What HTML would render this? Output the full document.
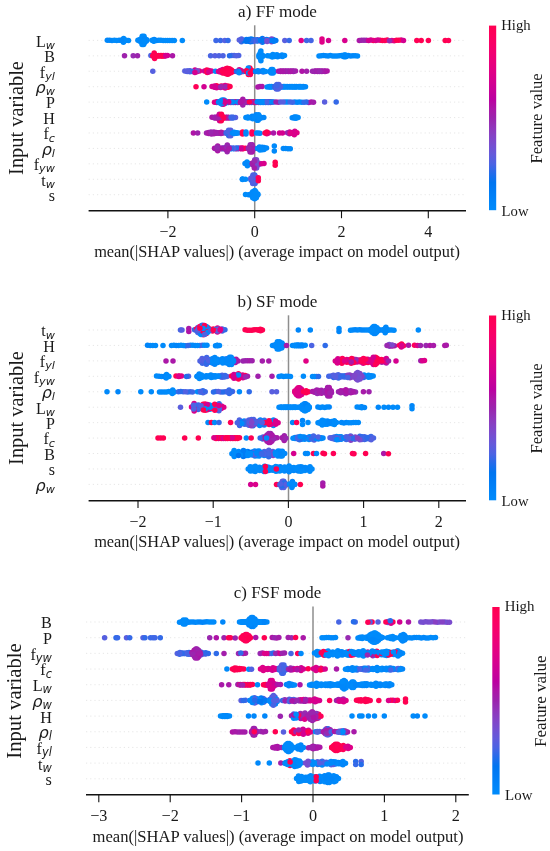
<!DOCTYPE html>
<html><head><meta charset="utf-8"><title>SHAP summary plots</title>
<style>html,body{margin:0;padding:0;background:#fff}svg{display:block}</style></head>
<body>
<svg width="550" height="851" viewBox="0 0 550 851">
<defs><linearGradient id="cb" x1="0" y1="0" x2="0" y2="1"><stop offset="0.00" stop-color="#ff0051"/><stop offset="0.05" stop-color="#fe005c"/><stop offset="0.10" stop-color="#f90067"/><stop offset="0.15" stop-color="#f20072"/><stop offset="0.20" stop-color="#e9007c"/><stop offset="0.25" stop-color="#e00086"/><stop offset="0.30" stop-color="#d5008f"/><stop offset="0.35" stop-color="#c90098"/><stop offset="0.40" stop-color="#bb00a0"/><stop offset="0.45" stop-color="#ac16a7"/><stop offset="0.50" stop-color="#9b24ad"/><stop offset="0.55" stop-color="#9135ba"/><stop offset="0.60" stop-color="#8443c6"/><stop offset="0.65" stop-color="#754fd1"/><stop offset="0.70" stop-color="#635adb"/><stop offset="0.75" stop-color="#4b63e3"/><stop offset="0.80" stop-color="#246cea"/><stop offset="0.85" stop-color="#0075f0"/><stop offset="0.90" stop-color="#007cf5"/><stop offset="0.95" stop-color="#0084f9"/><stop offset="1.00" stop-color="#008bfb"/></linearGradient></defs>
<rect width="550" height="851" fill="#fff"/>
<line x1="88.6" y1="40.40" x2="464.0" y2="40.40" stroke="#dcdcdc" stroke-width="0.7" stroke-dasharray="1.2 3"/>
<line x1="88.6" y1="55.83" x2="464.0" y2="55.83" stroke="#dcdcdc" stroke-width="0.7" stroke-dasharray="1.2 3"/>
<line x1="88.6" y1="71.26" x2="464.0" y2="71.26" stroke="#dcdcdc" stroke-width="0.7" stroke-dasharray="1.2 3"/>
<line x1="88.6" y1="86.69" x2="464.0" y2="86.69" stroke="#dcdcdc" stroke-width="0.7" stroke-dasharray="1.2 3"/>
<line x1="88.6" y1="102.12" x2="464.0" y2="102.12" stroke="#dcdcdc" stroke-width="0.7" stroke-dasharray="1.2 3"/>
<line x1="88.6" y1="117.55" x2="464.0" y2="117.55" stroke="#dcdcdc" stroke-width="0.7" stroke-dasharray="1.2 3"/>
<line x1="88.6" y1="132.98" x2="464.0" y2="132.98" stroke="#dcdcdc" stroke-width="0.7" stroke-dasharray="1.2 3"/>
<line x1="88.6" y1="148.41" x2="464.0" y2="148.41" stroke="#dcdcdc" stroke-width="0.7" stroke-dasharray="1.2 3"/>
<line x1="88.6" y1="163.84" x2="464.0" y2="163.84" stroke="#dcdcdc" stroke-width="0.7" stroke-dasharray="1.2 3"/>
<line x1="88.6" y1="179.27" x2="464.0" y2="179.27" stroke="#dcdcdc" stroke-width="0.7" stroke-dasharray="1.2 3"/>
<line x1="88.6" y1="194.70" x2="464.0" y2="194.70" stroke="#dcdcdc" stroke-width="0.7" stroke-dasharray="1.2 3"/>
<line x1="254.7" y1="25.3" x2="254.7" y2="210.8" stroke="#8e8e8e" stroke-width="1.5"/>
<g><circle cx="123.8" cy="40.4" r="2.75" fill="#008afb"/>
<circle cx="112.0" cy="40.5" r="2.75" fill="#008bfb"/>
<circle cx="119.1" cy="40.3" r="2.75" fill="#0085f9"/>
<circle cx="121.4" cy="40.2" r="2.75" fill="#008bfb"/>
<circle cx="107.3" cy="40.3" r="2.75" fill="#0087fa"/>
<circle cx="126.1" cy="40.2" r="2.75" fill="#008bfb"/>
<circle cx="116.7" cy="40.4" r="2.75" fill="#008bfb"/>
<circle cx="128.5" cy="40.4" r="2.75" fill="#008bfb"/>
<circle cx="114.4" cy="40.2" r="2.75" fill="#008bfb"/>
<circle cx="109.7" cy="40.2" r="2.75" fill="#0087fa"/>
<circle cx="123.6" cy="38.6" r="2.75" fill="#008bfb"/>
<circle cx="123.4" cy="42.2" r="2.75" fill="#008afb"/>
<circle cx="123.6" cy="40.4" r="2.75" fill="#0088fa"/>
<circle cx="125.4" cy="40.4" r="2.75" fill="#008bfb"/>
<circle cx="121.6" cy="40.2" r="2.75" fill="#0086f9"/>
<circle cx="137.9" cy="40.3" r="2.75" fill="#008bfb"/>
<circle cx="147.0" cy="40.1" r="2.75" fill="#0085f9"/>
<circle cx="140.2" cy="40.2" r="2.75" fill="#008bfb"/>
<circle cx="144.7" cy="40.6" r="2.75" fill="#008bfb"/>
<circle cx="142.4" cy="40.2" r="2.75" fill="#0088fa"/>
<circle cx="142.2" cy="43.2" r="2.75" fill="#0086f9"/>
<circle cx="144.3" cy="40.4" r="2.75" fill="#008bfb"/>
<circle cx="143.6" cy="44.5" r="2.75" fill="#008bfb"/>
<circle cx="142.3" cy="37.6" r="2.75" fill="#008bfb"/>
<circle cx="144.0" cy="36.3" r="2.75" fill="#008bfb"/>
<circle cx="146.0" cy="39.5" r="2.75" fill="#008bfb"/>
<circle cx="142.4" cy="40.4" r="2.75" fill="#008bfb"/>
<circle cx="142.2" cy="36.3" r="2.75" fill="#008afb"/>
<circle cx="144.1" cy="43.2" r="2.75" fill="#0088fa"/>
<circle cx="146.2" cy="41.3" r="2.75" fill="#0085f9"/>
<circle cx="140.2" cy="40.4" r="2.75" fill="#0089fa"/>
<circle cx="145.9" cy="40.4" r="2.75" fill="#008bfb"/>
<circle cx="139.8" cy="41.3" r="2.75" fill="#008bfb"/>
<circle cx="142.1" cy="39.0" r="2.75" fill="#008bfb"/>
<circle cx="141.9" cy="41.8" r="2.75" fill="#008bfb"/>
<circle cx="139.9" cy="39.5" r="2.75" fill="#0089fa"/>
<circle cx="143.9" cy="37.6" r="2.75" fill="#008bfb"/>
<circle cx="144.2" cy="39.0" r="2.75" fill="#0087fa"/>
<circle cx="142.1" cy="44.5" r="2.75" fill="#008bfb"/>
<circle cx="143.9" cy="41.8" r="2.75" fill="#008bfb"/>
<circle cx="160.9" cy="40.3" r="2.75" fill="#008bfb"/>
<circle cx="154.2" cy="40.4" r="2.75" fill="#008bfb"/>
<circle cx="156.5" cy="40.4" r="2.75" fill="#008bfb"/>
<circle cx="163.2" cy="40.5" r="2.75" fill="#008bfb"/>
<circle cx="152.0" cy="40.3" r="2.75" fill="#008bfb"/>
<circle cx="167.6" cy="40.4" r="2.75" fill="#008bfb"/>
<circle cx="158.7" cy="40.3" r="2.75" fill="#008bfb"/>
<circle cx="172.1" cy="40.4" r="2.75" fill="#008bfb"/>
<circle cx="165.4" cy="40.5" r="2.75" fill="#008bfb"/>
<circle cx="169.8" cy="40.5" r="2.75" fill="#008bfb"/>
<circle cx="174.3" cy="40.5" r="2.75" fill="#008bfb"/>
<circle cx="154.1" cy="39.6" r="2.75" fill="#0087fa"/>
<circle cx="154.9" cy="40.3" r="2.75" fill="#0085f9"/>
<circle cx="153.1" cy="40.6" r="2.75" fill="#008bfb"/>
<circle cx="153.8" cy="41.2" r="2.75" fill="#008bfb"/>
<circle cx="153.7" cy="40.4" r="2.75" fill="#008bfb"/>
<circle cx="182.3" cy="40.4" r="2.75" fill="#008bfb"/>
<circle cx="216.0" cy="40.4" r="2.75" fill="#3d67e7"/>
<circle cx="220.5" cy="40.4" r="2.75" fill="#3868e8"/>
<circle cx="224.8" cy="40.4" r="2.75" fill="#5460e1"/>
<circle cx="228.0" cy="40.4" r="2.75" fill="#316ae9"/>
<circle cx="246.3" cy="39.6" r="2.75" fill="#007bf5"/>
<circle cx="264.1" cy="41.0" r="2.75" fill="#7f48ca"/>
<circle cx="257.4" cy="41.1" r="2.75" fill="#0079f3"/>
<circle cx="257.2" cy="39.7" r="2.75" fill="#0076f1"/>
<circle cx="241.4" cy="41.7" r="2.75" fill="#2d6be9"/>
<circle cx="275.8" cy="40.5" r="2.75" fill="#0079f3"/>
<circle cx="259.9" cy="39.8" r="2.75" fill="#794dcf"/>
<circle cx="262.4" cy="42.2" r="2.75" fill="#007cf5"/>
<circle cx="271.6" cy="41.7" r="2.75" fill="#8543c6"/>
<circle cx="248.3" cy="40.4" r="2.75" fill="#0079f3"/>
<circle cx="241.9" cy="40.4" r="2.75" fill="#4864e4"/>
<circle cx="246.0" cy="41.2" r="2.75" fill="#0076f1"/>
<circle cx="239.3" cy="40.1" r="2.75" fill="#575fdf"/>
<circle cx="257.3" cy="40.4" r="2.75" fill="#007af4"/>
<circle cx="273.2" cy="39.5" r="2.75" fill="#0078f3"/>
<circle cx="262.4" cy="38.6" r="2.75" fill="#0079f3"/>
<circle cx="264.3" cy="40.4" r="2.75" fill="#7f48ca"/>
<circle cx="255.6" cy="40.7" r="2.75" fill="#4e62e2"/>
<circle cx="260.2" cy="41.0" r="2.75" fill="#7e49cb"/>
<circle cx="269.0" cy="40.1" r="2.75" fill="#0079f3"/>
<circle cx="264.4" cy="39.8" r="2.75" fill="#7e48cb"/>
<circle cx="252.9" cy="39.4" r="2.75" fill="#0074f0"/>
<circle cx="251.0" cy="39.0" r="2.75" fill="#0077f2"/>
<circle cx="271.6" cy="39.1" r="2.75" fill="#8740c4"/>
<circle cx="243.9" cy="40.5" r="2.75" fill="#0074f0"/>
<circle cx="267.1" cy="41.4" r="2.75" fill="#794ccf"/>
<circle cx="255.4" cy="40.1" r="2.75" fill="#4864e4"/>
<circle cx="273.2" cy="40.4" r="2.75" fill="#0074f0"/>
<circle cx="248.5" cy="41.3" r="2.75" fill="#0075f1"/>
<circle cx="273.8" cy="41.3" r="2.75" fill="#007ef6"/>
<circle cx="260.1" cy="40.4" r="2.75" fill="#007ef6"/>
<circle cx="253.4" cy="40.4" r="2.75" fill="#4266e5"/>
<circle cx="266.6" cy="39.4" r="2.75" fill="#007ef6"/>
<circle cx="255.2" cy="40.4" r="2.75" fill="#3769e8"/>
<circle cx="271.3" cy="40.4" r="2.75" fill="#007ef6"/>
<circle cx="253.0" cy="41.4" r="2.75" fill="#4d63e3"/>
<circle cx="241.5" cy="39.1" r="2.75" fill="#5261e1"/>
<circle cx="250.5" cy="41.8" r="2.75" fill="#0074f0"/>
<circle cx="250.9" cy="40.4" r="2.75" fill="#316ae9"/>
<circle cx="262.4" cy="40.4" r="2.75" fill="#0077f2"/>
<circle cx="248.5" cy="39.5" r="2.75" fill="#0077f2"/>
<circle cx="266.9" cy="40.4" r="2.75" fill="#764fd1"/>
<circle cx="246.2" cy="40.4" r="2.75" fill="#0074f0"/>
<circle cx="284.8" cy="40.4" r="2.75" fill="#595edf"/>
<circle cx="289.2" cy="40.4" r="2.75" fill="#3569e8"/>
<circle cx="301.2" cy="40.4" r="2.75" fill="#e10085"/>
<circle cx="306.6" cy="40.4" r="2.75" fill="#4067e6"/>
<circle cx="311.0" cy="40.4" r="2.75" fill="#4465e5"/>
<circle cx="322.0" cy="38.9" r="2.75" fill="#e20084"/>
<circle cx="322.0" cy="41.9" r="2.75" fill="#df0087"/>
<circle cx="328.5" cy="40.4" r="2.75" fill="#d30090"/>
<circle cx="344.8" cy="40.4" r="2.75" fill="#d8008d"/>
<circle cx="391.9" cy="40.6" r="2.75" fill="#e10085"/>
<circle cx="382.6" cy="40.5" r="2.75" fill="#ff0051"/>
<circle cx="373.3" cy="40.4" r="2.75" fill="#ff0051"/>
<circle cx="366.3" cy="40.3" r="2.75" fill="#9929b1"/>
<circle cx="394.2" cy="40.7" r="2.75" fill="#e00086"/>
<circle cx="384.9" cy="40.4" r="2.75" fill="#ff0059"/>
<circle cx="359.3" cy="40.4" r="2.75" fill="#ac16a7"/>
<circle cx="401.2" cy="40.1" r="2.75" fill="#d9008c"/>
<circle cx="361.6" cy="40.3" r="2.75" fill="#9e22ac"/>
<circle cx="370.9" cy="40.1" r="2.75" fill="#da008b"/>
<circle cx="375.6" cy="40.4" r="2.75" fill="#e10085"/>
<circle cx="380.2" cy="40.3" r="2.75" fill="#ff0055"/>
<circle cx="398.8" cy="40.3" r="2.75" fill="#ff0058"/>
<circle cx="396.5" cy="40.2" r="2.75" fill="#ff0051"/>
<circle cx="364.0" cy="40.2" r="2.75" fill="#9b24ad"/>
<circle cx="387.2" cy="40.1" r="2.75" fill="#ff0058"/>
<circle cx="403.5" cy="40.6" r="2.75" fill="#d30090"/>
<circle cx="389.5" cy="40.7" r="2.75" fill="#982ab1"/>
<circle cx="368.6" cy="40.5" r="2.75" fill="#d40090"/>
<circle cx="377.9" cy="40.1" r="2.75" fill="#d6008e"/>
<circle cx="416.8" cy="40.4" r="2.75" fill="#ff0055"/>
<circle cx="421.2" cy="40.4" r="2.75" fill="#ff0051"/>
<circle cx="428.4" cy="40.4" r="2.75" fill="#ff0055"/>
<circle cx="445.2" cy="40.4" r="2.75" fill="#ff0051"/>
<circle cx="448.5" cy="40.4" r="2.75" fill="#ff0057"/>
<circle cx="124.5" cy="55.8" r="2.75" fill="#9e22ac"/>
<circle cx="133.2" cy="55.8" r="2.75" fill="#982bb2"/>
<circle cx="137.5" cy="55.8" r="2.75" fill="#9b24ad"/>
<circle cx="150.9" cy="55.5" r="2.75" fill="#5062e2"/>
<circle cx="165.2" cy="56.1" r="2.75" fill="#d00093"/>
<circle cx="159.0" cy="55.8" r="2.75" fill="#ff0054"/>
<circle cx="161.2" cy="55.8" r="2.75" fill="#ff0054"/>
<circle cx="163.3" cy="55.5" r="2.75" fill="#ff0051"/>
<circle cx="158.7" cy="55.5" r="2.75" fill="#ff0054"/>
<circle cx="164.9" cy="55.8" r="2.75" fill="#d10092"/>
<circle cx="156.5" cy="55.9" r="2.75" fill="#ff0051"/>
<circle cx="163.0" cy="56.1" r="2.75" fill="#ff0056"/>
<circle cx="158.8" cy="56.1" r="2.75" fill="#ff0057"/>
<circle cx="161.0" cy="55.5" r="2.75" fill="#ff0054"/>
<circle cx="167.5" cy="55.6" r="2.75" fill="#d20092"/>
<circle cx="163.0" cy="55.8" r="2.75" fill="#ff0055"/>
<circle cx="161.3" cy="56.1" r="2.75" fill="#ff0051"/>
<circle cx="165.7" cy="55.5" r="2.75" fill="#d5008f"/>
<circle cx="154.6" cy="54.4" r="2.75" fill="#ff0059"/>
<circle cx="153.3" cy="55.8" r="2.75" fill="#ff0051"/>
<circle cx="155.6" cy="55.8" r="2.75" fill="#ff0051"/>
<circle cx="156.2" cy="55.9" r="2.75" fill="#ff0051"/>
<circle cx="152.8" cy="55.8" r="2.75" fill="#ff0051"/>
<circle cx="154.2" cy="53.0" r="2.75" fill="#ff0051"/>
<circle cx="154.6" cy="58.6" r="2.75" fill="#ff0058"/>
<circle cx="154.4" cy="55.8" r="2.75" fill="#ff0051"/>
<circle cx="154.3" cy="57.2" r="2.75" fill="#ff0051"/>
<circle cx="156.3" cy="55.8" r="2.75" fill="#ff0051"/>
<circle cx="153.4" cy="55.9" r="2.75" fill="#ff0051"/>
<circle cx="172.5" cy="55.8" r="2.75" fill="#ab17a7"/>
<circle cx="210.6" cy="55.8" r="2.75" fill="#4964e4"/>
<circle cx="215.0" cy="55.8" r="2.75" fill="#565fe0"/>
<circle cx="219.0" cy="55.8" r="2.75" fill="#4e62e2"/>
<circle cx="223.0" cy="55.8" r="2.75" fill="#4e62e2"/>
<circle cx="231.8" cy="55.5" r="2.75" fill="#4b63e3"/>
<circle cx="238.7" cy="55.6" r="2.75" fill="#4d62e2"/>
<circle cx="234.1" cy="55.6" r="2.75" fill="#4565e5"/>
<circle cx="229.5" cy="55.7" r="2.75" fill="#256cea"/>
<circle cx="236.4" cy="55.7" r="2.75" fill="#5261e1"/>
<circle cx="262.7" cy="55.8" r="2.75" fill="#008bfb"/>
<circle cx="260.9" cy="50.9" r="2.75" fill="#0089fa"/>
<circle cx="259.0" cy="57.0" r="2.75" fill="#0088fa"/>
<circle cx="260.9" cy="60.8" r="2.75" fill="#0089fa"/>
<circle cx="262.3" cy="55.3" r="2.75" fill="#008bfb"/>
<circle cx="260.9" cy="54.2" r="2.75" fill="#008bfb"/>
<circle cx="260.6" cy="59.1" r="2.75" fill="#008bfb"/>
<circle cx="259.2" cy="54.7" r="2.75" fill="#0085f9"/>
<circle cx="260.4" cy="52.5" r="2.75" fill="#008bfb"/>
<circle cx="262.9" cy="56.3" r="2.75" fill="#008bfb"/>
<circle cx="259.0" cy="55.8" r="2.75" fill="#008bfb"/>
<circle cx="260.6" cy="55.8" r="2.75" fill="#0088fa"/>
<circle cx="260.4" cy="57.5" r="2.75" fill="#008bfb"/>
<circle cx="274.8" cy="55.8" r="2.75" fill="#008bfb"/>
<circle cx="274.6" cy="56.4" r="2.75" fill="#008bfb"/>
<circle cx="272.4" cy="55.8" r="2.75" fill="#0086f9"/>
<circle cx="269.9" cy="56.0" r="2.75" fill="#0089fa"/>
<circle cx="277.2" cy="55.8" r="2.75" fill="#008bfb"/>
<circle cx="277.6" cy="56.8" r="2.75" fill="#0088fa"/>
<circle cx="267.5" cy="55.8" r="2.75" fill="#008bfb"/>
<circle cx="282.4" cy="55.8" r="2.75" fill="#008bfb"/>
<circle cx="282.0" cy="55.1" r="2.75" fill="#008bfb"/>
<circle cx="282.4" cy="56.6" r="2.75" fill="#008bfb"/>
<circle cx="274.5" cy="55.3" r="2.75" fill="#008bfb"/>
<circle cx="272.2" cy="57.0" r="2.75" fill="#008bfb"/>
<circle cx="276.9" cy="54.8" r="2.75" fill="#008bfb"/>
<circle cx="279.6" cy="56.1" r="2.75" fill="#0086f9"/>
<circle cx="284.5" cy="55.6" r="2.75" fill="#008bfb"/>
<circle cx="272.8" cy="54.6" r="2.75" fill="#008bfb"/>
<circle cx="330.3" cy="55.6" r="2.75" fill="#008bfb"/>
<circle cx="353.0" cy="55.8" r="2.75" fill="#008bfb"/>
<circle cx="339.4" cy="55.7" r="2.75" fill="#008bfb"/>
<circle cx="343.9" cy="55.9" r="2.75" fill="#008bfb"/>
<circle cx="323.5" cy="55.6" r="2.75" fill="#0088fa"/>
<circle cx="341.6" cy="55.6" r="2.75" fill="#0089fa"/>
<circle cx="328.1" cy="56.1" r="2.75" fill="#008bfb"/>
<circle cx="334.9" cy="56.0" r="2.75" fill="#008bfb"/>
<circle cx="332.6" cy="56.1" r="2.75" fill="#008bfb"/>
<circle cx="355.2" cy="55.7" r="2.75" fill="#0089fa"/>
<circle cx="321.3" cy="55.7" r="2.75" fill="#008bfb"/>
<circle cx="325.8" cy="55.8" r="2.75" fill="#0089fa"/>
<circle cx="357.5" cy="56.0" r="2.75" fill="#008bfb"/>
<circle cx="337.1" cy="56.0" r="2.75" fill="#008bfb"/>
<circle cx="350.7" cy="56.1" r="2.75" fill="#0087fa"/>
<circle cx="346.2" cy="55.9" r="2.75" fill="#008afb"/>
<circle cx="319.0" cy="56.0" r="2.75" fill="#008bfb"/>
<circle cx="348.4" cy="55.6" r="2.75" fill="#008bfb"/>
<circle cx="344.2" cy="55.8" r="2.75" fill="#008bfb"/>
<circle cx="345.7" cy="56.8" r="2.75" fill="#008bfb"/>
<circle cx="344.1" cy="54.9" r="2.75" fill="#008bfb"/>
<circle cx="345.5" cy="54.9" r="2.75" fill="#008bfb"/>
<circle cx="347.4" cy="55.8" r="2.75" fill="#0085f9"/>
<circle cx="345.8" cy="55.8" r="2.75" fill="#008bfb"/>
<circle cx="342.6" cy="56.0" r="2.75" fill="#008bfb"/>
<circle cx="344.0" cy="56.8" r="2.75" fill="#0089fa"/>
<circle cx="152.8" cy="71.3" r="2.75" fill="#5560e0"/>
<circle cx="187.2" cy="71.4" r="2.75" fill="#595edf"/>
<circle cx="190.0" cy="70.7" r="2.75" fill="#4b63e3"/>
<circle cx="187.2" cy="71.3" r="2.75" fill="#4665e4"/>
<circle cx="189.9" cy="71.8" r="2.75" fill="#4266e5"/>
<circle cx="189.4" cy="71.3" r="2.75" fill="#5161e1"/>
<circle cx="195.0" cy="70.0" r="2.75" fill="#d20091"/>
<circle cx="194.2" cy="71.3" r="2.75" fill="#d6008e"/>
<circle cx="184.8" cy="71.1" r="2.75" fill="#585edf"/>
<circle cx="196.8" cy="71.8" r="2.75" fill="#d40090"/>
<circle cx="192.2" cy="71.5" r="2.75" fill="#3869e8"/>
<circle cx="199.5" cy="71.1" r="2.75" fill="#de0087"/>
<circle cx="196.8" cy="71.3" r="2.75" fill="#d00093"/>
<circle cx="197.3" cy="70.7" r="2.75" fill="#8047ca"/>
<circle cx="187.6" cy="71.1" r="2.75" fill="#5a5ede"/>
<circle cx="194.9" cy="72.5" r="2.75" fill="#d5008f"/>
<circle cx="208.8" cy="70.5" r="2.75" fill="#dd0088"/>
<circle cx="209.2" cy="71.3" r="2.75" fill="#d7008e"/>
<circle cx="211.5" cy="71.1" r="2.75" fill="#d8008d"/>
<circle cx="204.5" cy="71.1" r="2.75" fill="#d00093"/>
<circle cx="207.2" cy="72.5" r="2.75" fill="#ff0055"/>
<circle cx="206.8" cy="70.0" r="2.75" fill="#ff0051"/>
<circle cx="206.9" cy="71.3" r="2.75" fill="#ff0059"/>
<circle cx="208.8" cy="72.1" r="2.75" fill="#d9008c"/>
<circle cx="215.5" cy="71.3" r="2.75" fill="#008bfb"/>
<circle cx="227.0" cy="72.1" r="2.75" fill="#ff0057"/>
<circle cx="226.8" cy="70.5" r="2.75" fill="#ff0051"/>
<circle cx="233.5" cy="71.6" r="2.75" fill="#d8008c"/>
<circle cx="231.6" cy="71.0" r="2.75" fill="#ff0054"/>
<circle cx="224.7" cy="72.7" r="2.75" fill="#ff0051"/>
<circle cx="225.3" cy="69.8" r="2.75" fill="#ff0052"/>
<circle cx="229.0" cy="72.2" r="2.75" fill="#ff0051"/>
<circle cx="227.2" cy="71.3" r="2.75" fill="#ff0056"/>
<circle cx="231.2" cy="71.3" r="2.75" fill="#dc008a"/>
<circle cx="225.3" cy="71.3" r="2.75" fill="#ff0053"/>
<circle cx="229.4" cy="70.3" r="2.75" fill="#ff0053"/>
<circle cx="222.7" cy="73.1" r="2.75" fill="#ff0052"/>
<circle cx="231.6" cy="71.6" r="2.75" fill="#df0087"/>
<circle cx="220.4" cy="70.6" r="2.75" fill="#d10092"/>
<circle cx="222.8" cy="69.4" r="2.75" fill="#d40090"/>
<circle cx="220.5" cy="71.3" r="2.75" fill="#d10092"/>
<circle cx="218.5" cy="71.4" r="2.75" fill="#db008a"/>
<circle cx="220.3" cy="71.9" r="2.75" fill="#d7008e"/>
<circle cx="223.1" cy="71.3" r="2.75" fill="#ff0054"/>
<circle cx="229.6" cy="71.3" r="2.75" fill="#ff0051"/>
<circle cx="225.5" cy="72.5" r="2.75" fill="#ff0051"/>
<circle cx="224.6" cy="69.8" r="2.75" fill="#ff0051"/>
<circle cx="232.2" cy="71.3" r="2.75" fill="#ff0052"/>
<circle cx="232.7" cy="71.4" r="2.75" fill="#ff0056"/>
<circle cx="222.2" cy="71.1" r="2.75" fill="#ff0053"/>
<circle cx="224.1" cy="71.3" r="2.75" fill="#ff0051"/>
<circle cx="226.1" cy="73.8" r="2.75" fill="#ff0051"/>
<circle cx="228.7" cy="73.8" r="2.75" fill="#ff0051"/>
<circle cx="227.7" cy="74.3" r="2.75" fill="#ff0051"/>
<circle cx="231.1" cy="69.8" r="2.75" fill="#ff0051"/>
<circle cx="230.6" cy="71.3" r="2.75" fill="#ff0058"/>
<circle cx="232.1" cy="71.1" r="2.75" fill="#ff0051"/>
<circle cx="229.4" cy="70.0" r="2.75" fill="#ff0055"/>
<circle cx="226.2" cy="71.3" r="2.75" fill="#ff0051"/>
<circle cx="228.8" cy="71.3" r="2.75" fill="#ff0053"/>
<circle cx="222.8" cy="71.3" r="2.75" fill="#ff0051"/>
<circle cx="230.9" cy="72.8" r="2.75" fill="#ff0057"/>
<circle cx="227.5" cy="71.3" r="2.75" fill="#ff0056"/>
<circle cx="226.1" cy="70.0" r="2.75" fill="#ff0056"/>
<circle cx="224.4" cy="72.8" r="2.75" fill="#ff0057"/>
<circle cx="227.7" cy="69.8" r="2.75" fill="#ff0051"/>
<circle cx="225.9" cy="68.8" r="2.75" fill="#ff0051"/>
<circle cx="229.5" cy="68.8" r="2.75" fill="#ff0054"/>
<circle cx="222.8" cy="71.4" r="2.75" fill="#ff0053"/>
<circle cx="229.1" cy="72.5" r="2.75" fill="#ff0051"/>
<circle cx="227.2" cy="68.3" r="2.75" fill="#ff0051"/>
<circle cx="227.7" cy="72.8" r="2.75" fill="#ff0056"/>
<circle cx="240.9" cy="72.0" r="2.75" fill="#de0087"/>
<circle cx="241.0" cy="71.3" r="2.75" fill="#dc0089"/>
<circle cx="243.5" cy="71.5" r="2.75" fill="#256cea"/>
<circle cx="239.2" cy="69.8" r="2.75" fill="#dc008a"/>
<circle cx="240.8" cy="70.5" r="2.75" fill="#dd0088"/>
<circle cx="238.4" cy="71.3" r="2.75" fill="#008bfb"/>
<circle cx="236.5" cy="71.4" r="2.75" fill="#286cea"/>
<circle cx="239.1" cy="72.8" r="2.75" fill="#008bfb"/>
<circle cx="246.9" cy="71.8" r="2.75" fill="#ff0051"/>
<circle cx="251.7" cy="71.8" r="2.75" fill="#ff0053"/>
<circle cx="248.1" cy="69.6" r="2.75" fill="#0086fa"/>
<circle cx="248.4" cy="74.5" r="2.75" fill="#ff0052"/>
<circle cx="250.3" cy="69.6" r="2.75" fill="#ff0057"/>
<circle cx="250.3" cy="74.5" r="2.75" fill="#ff005a"/>
<circle cx="246.2" cy="71.3" r="2.75" fill="#ff0051"/>
<circle cx="249.8" cy="68.0" r="2.75" fill="#ff0051"/>
<circle cx="252.3" cy="70.8" r="2.75" fill="#ff0051"/>
<circle cx="248.3" cy="68.0" r="2.75" fill="#008bfb"/>
<circle cx="250.2" cy="71.3" r="2.75" fill="#ff0051"/>
<circle cx="248.0" cy="71.3" r="2.75" fill="#008bfb"/>
<circle cx="246.4" cy="70.8" r="2.75" fill="#ff0051"/>
<circle cx="251.8" cy="71.3" r="2.75" fill="#ff0057"/>
<circle cx="248.6" cy="72.9" r="2.75" fill="#008bfb"/>
<circle cx="250.3" cy="72.9" r="2.75" fill="#ff0051"/>
<circle cx="263.2" cy="72.0" r="2.75" fill="#286cea"/>
<circle cx="255.5" cy="71.5" r="2.75" fill="#0086f9"/>
<circle cx="257.8" cy="71.3" r="2.75" fill="#008bfb"/>
<circle cx="263.1" cy="70.6" r="2.75" fill="#008bfb"/>
<circle cx="265.5" cy="71.5" r="2.75" fill="#008bfb"/>
<circle cx="257.9" cy="70.7" r="2.75" fill="#0085f9"/>
<circle cx="260.5" cy="71.2" r="2.75" fill="#5360e1"/>
<circle cx="262.7" cy="71.3" r="2.75" fill="#008bfb"/>
<circle cx="258.4" cy="71.8" r="2.75" fill="#0086fa"/>
<circle cx="269.6" cy="71.5" r="2.75" fill="#008bfb"/>
<circle cx="274.4" cy="71.4" r="2.75" fill="#008bfb"/>
<circle cx="272.8" cy="71.3" r="2.75" fill="#008bfb"/>
<circle cx="271.1" cy="73.0" r="2.75" fill="#0089fa"/>
<circle cx="271.3" cy="69.6" r="2.75" fill="#008bfb"/>
<circle cx="272.7" cy="69.6" r="2.75" fill="#008bfb"/>
<circle cx="271.3" cy="71.3" r="2.75" fill="#0088fa"/>
<circle cx="273.1" cy="73.0" r="2.75" fill="#0088fa"/>
<circle cx="278.5" cy="71.2" r="2.75" fill="#ad15a7"/>
<circle cx="293.0" cy="71.3" r="2.75" fill="#a120ab"/>
<circle cx="285.4" cy="71.5" r="2.75" fill="#9b23ad"/>
<circle cx="285.7" cy="71.1" r="2.75" fill="#ae14a6"/>
<circle cx="285.8" cy="71.3" r="2.75" fill="#a21fab"/>
<circle cx="287.9" cy="71.3" r="2.75" fill="#a51daa"/>
<circle cx="290.7" cy="71.3" r="2.75" fill="#a51caa"/>
<circle cx="283.3" cy="71.3" r="2.75" fill="#9b24ad"/>
<circle cx="280.7" cy="71.1" r="2.75" fill="#9f21ac"/>
<circle cx="293.4" cy="71.5" r="2.75" fill="#9a25ae"/>
<circle cx="288.3" cy="71.1" r="2.75" fill="#9f21ac"/>
<circle cx="295.5" cy="71.0" r="2.75" fill="#a61ca9"/>
<circle cx="290.9" cy="71.1" r="2.75" fill="#9c23ad"/>
<circle cx="288.4" cy="71.5" r="2.75" fill="#9d22ac"/>
<circle cx="293.1" cy="71.1" r="2.75" fill="#9f21ac"/>
<circle cx="290.3" cy="71.5" r="2.75" fill="#aa18a8"/>
<circle cx="283.1" cy="71.1" r="2.75" fill="#9c23ad"/>
<circle cx="283.0" cy="71.5" r="2.75" fill="#a919a8"/>
<circle cx="280.6" cy="71.5" r="2.75" fill="#982ab1"/>
<circle cx="280.9" cy="71.3" r="2.75" fill="#ab17a7"/>
<circle cx="302.0" cy="71.3" r="2.75" fill="#ae13a6"/>
<circle cx="306.6" cy="71.3" r="2.75" fill="#a120ab"/>
<circle cx="325.0" cy="71.5" r="2.75" fill="#ac16a7"/>
<circle cx="322.1" cy="71.3" r="2.75" fill="#9927b0"/>
<circle cx="317.6" cy="71.5" r="2.75" fill="#9b24ae"/>
<circle cx="319.7" cy="71.1" r="2.75" fill="#a61ca9"/>
<circle cx="324.8" cy="71.3" r="2.75" fill="#982bb2"/>
<circle cx="315.3" cy="71.3" r="2.75" fill="#972bb2"/>
<circle cx="315.1" cy="71.1" r="2.75" fill="#9e22ac"/>
<circle cx="314.7" cy="71.5" r="2.75" fill="#9928b0"/>
<circle cx="321.9" cy="71.5" r="2.75" fill="#9e22ac"/>
<circle cx="312.5" cy="71.3" r="2.75" fill="#9b24ae"/>
<circle cx="317.7" cy="71.3" r="2.75" fill="#a41daa"/>
<circle cx="324.5" cy="71.1" r="2.75" fill="#a41daa"/>
<circle cx="319.7" cy="71.5" r="2.75" fill="#9b25ae"/>
<circle cx="322.0" cy="71.1" r="2.75" fill="#a51caa"/>
<circle cx="317.4" cy="71.1" r="2.75" fill="#a11fab"/>
<circle cx="319.7" cy="71.3" r="2.75" fill="#9a27b0"/>
<circle cx="327.1" cy="71.1" r="2.75" fill="#ad14a6"/>
<circle cx="196.0" cy="86.7" r="2.75" fill="#ff0056"/>
<circle cx="204.0" cy="86.7" r="2.75" fill="#d30091"/>
<circle cx="214.6" cy="87.3" r="2.75" fill="#d20091"/>
<circle cx="216.8" cy="86.7" r="2.75" fill="#e00086"/>
<circle cx="216.6" cy="85.7" r="2.75" fill="#ff0051"/>
<circle cx="223.0" cy="86.7" r="2.75" fill="#e10085"/>
<circle cx="221.2" cy="86.0" r="2.75" fill="#ff0055"/>
<circle cx="225.2" cy="88.0" r="2.75" fill="#d10092"/>
<circle cx="227.9" cy="86.7" r="2.75" fill="#dc008a"/>
<circle cx="228.0" cy="87.2" r="2.75" fill="#ff0051"/>
<circle cx="220.6" cy="87.4" r="2.75" fill="#a71ba9"/>
<circle cx="227.8" cy="86.1" r="2.75" fill="#ff0051"/>
<circle cx="218.8" cy="86.7" r="2.75" fill="#ff0051"/>
<circle cx="222.9" cy="86.3" r="2.75" fill="#9d23ad"/>
<circle cx="225.1" cy="85.4" r="2.75" fill="#e10085"/>
<circle cx="223.6" cy="87.1" r="2.75" fill="#e00086"/>
<circle cx="216.6" cy="87.7" r="2.75" fill="#d20092"/>
<circle cx="212.0" cy="86.4" r="2.75" fill="#da008b"/>
<circle cx="225.6" cy="86.7" r="2.75" fill="#9a26af"/>
<circle cx="214.5" cy="86.1" r="2.75" fill="#e00085"/>
<circle cx="230.0" cy="86.5" r="2.75" fill="#ff0051"/>
<circle cx="214.2" cy="86.7" r="2.75" fill="#d40090"/>
<circle cx="220.7" cy="86.7" r="2.75" fill="#9a26af"/>
<circle cx="260.0" cy="86.5" r="2.75" fill="#9f21ac"/>
<circle cx="257.9" cy="86.9" r="2.75" fill="#ab17a7"/>
<circle cx="262.1" cy="86.6" r="2.75" fill="#ad15a6"/>
<circle cx="276.4" cy="86.4" r="2.75" fill="#0086f9"/>
<circle cx="276.2" cy="87.0" r="2.75" fill="#008afb"/>
<circle cx="296.2" cy="86.7" r="2.75" fill="#008afb"/>
<circle cx="302.9" cy="86.7" r="2.75" fill="#008bfb"/>
<circle cx="278.1" cy="86.7" r="2.75" fill="#0087fa"/>
<circle cx="283.3" cy="86.4" r="2.75" fill="#0086f9"/>
<circle cx="294.1" cy="87.0" r="2.75" fill="#008bfb"/>
<circle cx="289.4" cy="86.7" r="2.75" fill="#008bfb"/>
<circle cx="274.2" cy="86.4" r="2.75" fill="#0086f9"/>
<circle cx="296.1" cy="87.0" r="2.75" fill="#0088fa"/>
<circle cx="292.0" cy="86.4" r="2.75" fill="#008bfb"/>
<circle cx="292.3" cy="87.0" r="2.75" fill="#0085f9"/>
<circle cx="271.6" cy="86.4" r="2.75" fill="#008afb"/>
<circle cx="289.9" cy="86.4" r="2.75" fill="#008bfb"/>
<circle cx="273.7" cy="86.7" r="2.75" fill="#008bfb"/>
<circle cx="267.1" cy="87.0" r="2.75" fill="#008bfb"/>
<circle cx="278.4" cy="86.4" r="2.75" fill="#0086f9"/>
<circle cx="271.2" cy="86.7" r="2.75" fill="#0086fa"/>
<circle cx="274.2" cy="87.0" r="2.75" fill="#0088fa"/>
<circle cx="287.1" cy="86.4" r="2.75" fill="#008bfb"/>
<circle cx="269.4" cy="86.7" r="2.75" fill="#0089fa"/>
<circle cx="271.2" cy="87.0" r="2.75" fill="#008bfb"/>
<circle cx="294.4" cy="86.7" r="2.75" fill="#008bfb"/>
<circle cx="280.8" cy="86.7" r="2.75" fill="#008bfb"/>
<circle cx="296.3" cy="86.4" r="2.75" fill="#008afb"/>
<circle cx="300.7" cy="86.4" r="2.75" fill="#008bfb"/>
<circle cx="278.0" cy="87.0" r="2.75" fill="#0085f9"/>
<circle cx="276.0" cy="86.7" r="2.75" fill="#0089fa"/>
<circle cx="299.1" cy="86.4" r="2.75" fill="#0086f9"/>
<circle cx="284.8" cy="87.0" r="2.75" fill="#008bfb"/>
<circle cx="298.9" cy="87.0" r="2.75" fill="#008afa"/>
<circle cx="303.2" cy="86.4" r="2.75" fill="#0089fa"/>
<circle cx="294.4" cy="86.4" r="2.75" fill="#0089fa"/>
<circle cx="287.1" cy="86.7" r="2.75" fill="#008bfb"/>
<circle cx="301.2" cy="86.7" r="2.75" fill="#008afb"/>
<circle cx="299.1" cy="86.7" r="2.75" fill="#008afb"/>
<circle cx="290.1" cy="87.0" r="2.75" fill="#0087fa"/>
<circle cx="292.1" cy="86.7" r="2.75" fill="#008bfb"/>
<circle cx="303.5" cy="87.0" r="2.75" fill="#008afb"/>
<circle cx="285.3" cy="86.7" r="2.75" fill="#008bfb"/>
<circle cx="269.3" cy="87.0" r="2.75" fill="#008bfb"/>
<circle cx="305.5" cy="86.8" r="2.75" fill="#0089fa"/>
<circle cx="301.1" cy="87.0" r="2.75" fill="#008bfb"/>
<circle cx="284.9" cy="86.4" r="2.75" fill="#008bfb"/>
<circle cx="269.6" cy="86.4" r="2.75" fill="#008bfb"/>
<circle cx="280.3" cy="86.4" r="2.75" fill="#0089fa"/>
<circle cx="287.7" cy="87.0" r="2.75" fill="#0088fa"/>
<circle cx="282.5" cy="87.0" r="2.75" fill="#008afb"/>
<circle cx="283.1" cy="86.7" r="2.75" fill="#008bfb"/>
<circle cx="280.4" cy="87.0" r="2.75" fill="#0088fa"/>
<circle cx="278.8" cy="86.7" r="2.75" fill="#276cea"/>
<circle cx="278.3" cy="85.5" r="2.75" fill="#4067e6"/>
<circle cx="278.8" cy="84.4" r="2.75" fill="#5261e1"/>
<circle cx="276.3" cy="89.0" r="2.75" fill="#4e62e2"/>
<circle cx="274.8" cy="86.7" r="2.75" fill="#4565e5"/>
<circle cx="274.9" cy="86.6" r="2.75" fill="#4b63e3"/>
<circle cx="276.6" cy="86.7" r="2.75" fill="#4366e5"/>
<circle cx="274.7" cy="86.7" r="2.75" fill="#306ae9"/>
<circle cx="276.9" cy="84.4" r="2.75" fill="#4a64e3"/>
<circle cx="280.2" cy="86.7" r="2.75" fill="#4066e6"/>
<circle cx="276.4" cy="87.9" r="2.75" fill="#5061e2"/>
<circle cx="280.5" cy="86.6" r="2.75" fill="#575fdf"/>
<circle cx="278.9" cy="87.9" r="2.75" fill="#4266e6"/>
<circle cx="280.1" cy="86.7" r="2.75" fill="#4964e4"/>
<circle cx="278.2" cy="89.0" r="2.75" fill="#5061e2"/>
<circle cx="276.7" cy="85.5" r="2.75" fill="#4166e6"/>
<circle cx="206.7" cy="102.1" r="2.75" fill="#008bfb"/>
<circle cx="221.6" cy="102.4" r="2.75" fill="#0086fa"/>
<circle cx="224.0" cy="102.4" r="2.75" fill="#008bfb"/>
<circle cx="247.2" cy="102.1" r="2.75" fill="#9b25ae"/>
<circle cx="265.6" cy="102.4" r="2.75" fill="#008bfb"/>
<circle cx="230.7" cy="101.8" r="2.75" fill="#d20091"/>
<circle cx="249.4" cy="102.4" r="2.75" fill="#9a25ae"/>
<circle cx="242.0" cy="102.1" r="2.75" fill="#0088fa"/>
<circle cx="268.1" cy="102.4" r="2.75" fill="#008bfb"/>
<circle cx="270.2" cy="102.1" r="2.75" fill="#ae13a6"/>
<circle cx="221.4" cy="102.1" r="2.75" fill="#008bfb"/>
<circle cx="225.7" cy="102.1" r="2.75" fill="#e20084"/>
<circle cx="258.6" cy="102.1" r="2.75" fill="#ff0053"/>
<circle cx="219.5" cy="102.1" r="2.75" fill="#008afb"/>
<circle cx="228.4" cy="101.8" r="2.75" fill="#d8008d"/>
<circle cx="258.7" cy="102.4" r="2.75" fill="#ff0051"/>
<circle cx="235.3" cy="101.8" r="2.75" fill="#008bfb"/>
<circle cx="255.9" cy="102.4" r="2.75" fill="#9928b0"/>
<circle cx="253.8" cy="101.8" r="2.75" fill="#982ab1"/>
<circle cx="244.5" cy="102.4" r="2.75" fill="#0087fa"/>
<circle cx="216.8" cy="102.4" r="2.75" fill="#008bfb"/>
<circle cx="256.0" cy="101.8" r="2.75" fill="#a919a8"/>
<circle cx="251.8" cy="101.8" r="2.75" fill="#982ab1"/>
<circle cx="254.1" cy="102.4" r="2.75" fill="#a21fab"/>
<circle cx="226.4" cy="101.8" r="2.75" fill="#008afb"/>
<circle cx="232.8" cy="101.8" r="2.75" fill="#d7008d"/>
<circle cx="270.3" cy="102.4" r="2.75" fill="#9a27af"/>
<circle cx="251.5" cy="102.4" r="2.75" fill="#0089fa"/>
<circle cx="247.0" cy="101.8" r="2.75" fill="#0089fa"/>
<circle cx="237.4" cy="101.8" r="2.75" fill="#ac16a7"/>
<circle cx="233.2" cy="102.4" r="2.75" fill="#008bfb"/>
<circle cx="268.0" cy="102.1" r="2.75" fill="#008bfb"/>
<circle cx="237.8" cy="102.4" r="2.75" fill="#a61ca9"/>
<circle cx="240.4" cy="102.1" r="2.75" fill="#0089fa"/>
<circle cx="219.4" cy="102.4" r="2.75" fill="#008bfb"/>
<circle cx="230.9" cy="102.4" r="2.75" fill="#dc0089"/>
<circle cx="216.9" cy="102.1" r="2.75" fill="#e00086"/>
<circle cx="244.6" cy="101.8" r="2.75" fill="#008bfb"/>
<circle cx="217.1" cy="101.8" r="2.75" fill="#d20091"/>
<circle cx="249.2" cy="101.8" r="2.75" fill="#ad15a6"/>
<circle cx="224.1" cy="102.1" r="2.75" fill="#008bfb"/>
<circle cx="219.2" cy="101.8" r="2.75" fill="#0087fa"/>
<circle cx="235.2" cy="102.1" r="2.75" fill="#d30091"/>
<circle cx="235.3" cy="102.4" r="2.75" fill="#9d22ad"/>
<circle cx="233.0" cy="102.1" r="2.75" fill="#0088fa"/>
<circle cx="253.9" cy="102.1" r="2.75" fill="#ff0051"/>
<circle cx="268.2" cy="101.8" r="2.75" fill="#008bfb"/>
<circle cx="247.2" cy="102.4" r="2.75" fill="#982ab2"/>
<circle cx="265.3" cy="101.8" r="2.75" fill="#008bfb"/>
<circle cx="242.6" cy="102.4" r="2.75" fill="#008afb"/>
<circle cx="263.0" cy="102.1" r="2.75" fill="#008afb"/>
<circle cx="269.9" cy="101.8" r="2.75" fill="#ad15a7"/>
<circle cx="230.8" cy="102.1" r="2.75" fill="#008bfb"/>
<circle cx="261.0" cy="101.8" r="2.75" fill="#008afb"/>
<circle cx="214.5" cy="102.3" r="2.75" fill="#df0087"/>
<circle cx="251.2" cy="102.1" r="2.75" fill="#a919a8"/>
<circle cx="258.9" cy="101.8" r="2.75" fill="#a020ac"/>
<circle cx="244.8" cy="102.1" r="2.75" fill="#a71ba9"/>
<circle cx="242.3" cy="101.8" r="2.75" fill="#a021ac"/>
<circle cx="223.8" cy="101.8" r="2.75" fill="#d10092"/>
<circle cx="265.8" cy="102.1" r="2.75" fill="#a71ba9"/>
<circle cx="272.5" cy="101.9" r="2.75" fill="#a51daa"/>
<circle cx="239.8" cy="101.8" r="2.75" fill="#af13a6"/>
<circle cx="249.1" cy="102.1" r="2.75" fill="#0089fa"/>
<circle cx="228.5" cy="102.4" r="2.75" fill="#008bfb"/>
<circle cx="261.3" cy="102.1" r="2.75" fill="#0088fa"/>
<circle cx="263.3" cy="101.8" r="2.75" fill="#008afb"/>
<circle cx="221.3" cy="101.8" r="2.75" fill="#008bfb"/>
<circle cx="263.1" cy="102.4" r="2.75" fill="#008bfb"/>
<circle cx="260.7" cy="102.4" r="2.75" fill="#0086f9"/>
<circle cx="228.7" cy="102.1" r="2.75" fill="#dc008a"/>
<circle cx="237.8" cy="102.1" r="2.75" fill="#008bfb"/>
<circle cx="256.5" cy="102.1" r="2.75" fill="#982bb2"/>
<circle cx="240.4" cy="102.4" r="2.75" fill="#dc0089"/>
<circle cx="225.9" cy="102.4" r="2.75" fill="#0085f9"/>
<circle cx="218.6" cy="102.3" r="2.75" fill="#0088fa"/>
<circle cx="222.3" cy="102.1" r="2.75" fill="#008bfb"/>
<circle cx="222.1" cy="100.0" r="2.75" fill="#008bfb"/>
<circle cx="220.5" cy="103.3" r="2.75" fill="#0088fa"/>
<circle cx="227.4" cy="102.3" r="2.75" fill="#d6008e"/>
<circle cx="225.3" cy="100.9" r="2.75" fill="#008bfb"/>
<circle cx="222.0" cy="104.2" r="2.75" fill="#0089fa"/>
<circle cx="225.4" cy="103.3" r="2.75" fill="#0089fa"/>
<circle cx="223.5" cy="104.2" r="2.75" fill="#df0087"/>
<circle cx="220.3" cy="102.1" r="2.75" fill="#0089fa"/>
<circle cx="224.1" cy="103.2" r="2.75" fill="#e00086"/>
<circle cx="222.3" cy="103.2" r="2.75" fill="#0088fa"/>
<circle cx="224.2" cy="102.1" r="2.75" fill="#d00093"/>
<circle cx="224.0" cy="100.0" r="2.75" fill="#008bfb"/>
<circle cx="222.5" cy="101.1" r="2.75" fill="#0087fa"/>
<circle cx="224.0" cy="101.1" r="2.75" fill="#db008a"/>
<circle cx="220.7" cy="100.9" r="2.75" fill="#0085f9"/>
<circle cx="225.5" cy="102.1" r="2.75" fill="#d5008f"/>
<circle cx="241.0" cy="102.1" r="2.75" fill="#a31eaa"/>
<circle cx="245.1" cy="102.2" r="2.75" fill="#a21fab"/>
<circle cx="243.2" cy="102.1" r="2.75" fill="#9f21ac"/>
<circle cx="242.9" cy="103.5" r="2.75" fill="#aa18a8"/>
<circle cx="242.8" cy="99.3" r="2.75" fill="#a81aa9"/>
<circle cx="245.2" cy="102.1" r="2.75" fill="#af13a6"/>
<circle cx="242.8" cy="104.9" r="2.75" fill="#9d22ad"/>
<circle cx="244.6" cy="102.1" r="2.75" fill="#982ab1"/>
<circle cx="241.3" cy="102.2" r="2.75" fill="#9f21ac"/>
<circle cx="243.0" cy="100.7" r="2.75" fill="#a81aa9"/>
<circle cx="241.0" cy="102.1" r="2.75" fill="#ad15a6"/>
<circle cx="249.4" cy="102.1" r="2.75" fill="#ff0051"/>
<circle cx="269.0" cy="101.9" r="2.75" fill="#3869e8"/>
<circle cx="301.8" cy="102.3" r="2.75" fill="#008bfb"/>
<circle cx="308.8" cy="102.4" r="2.75" fill="#9b25ae"/>
<circle cx="287.7" cy="101.9" r="2.75" fill="#008bfb"/>
<circle cx="294.8" cy="102.0" r="2.75" fill="#008bfb"/>
<circle cx="306.5" cy="102.0" r="2.75" fill="#296bea"/>
<circle cx="271.4" cy="102.1" r="2.75" fill="#008afb"/>
<circle cx="311.2" cy="102.1" r="2.75" fill="#ac16a7"/>
<circle cx="285.4" cy="101.9" r="2.75" fill="#008bfb"/>
<circle cx="297.1" cy="102.2" r="2.75" fill="#0086f9"/>
<circle cx="273.7" cy="102.1" r="2.75" fill="#0086f9"/>
<circle cx="278.4" cy="102.3" r="2.75" fill="#9829b1"/>
<circle cx="264.3" cy="102.1" r="2.75" fill="#008afa"/>
<circle cx="292.4" cy="102.3" r="2.75" fill="#4067e6"/>
<circle cx="259.6" cy="102.1" r="2.75" fill="#008bfb"/>
<circle cx="299.4" cy="102.0" r="2.75" fill="#0086f9"/>
<circle cx="276.0" cy="102.0" r="2.75" fill="#9b23ad"/>
<circle cx="313.5" cy="102.3" r="2.75" fill="#a41daa"/>
<circle cx="257.3" cy="101.8" r="2.75" fill="#0089fa"/>
<circle cx="280.7" cy="102.0" r="2.75" fill="#595edf"/>
<circle cx="266.7" cy="102.0" r="2.75" fill="#4d63e3"/>
<circle cx="262.0" cy="102.1" r="2.75" fill="#008bfb"/>
<circle cx="290.1" cy="101.9" r="2.75" fill="#4366e5"/>
<circle cx="304.1" cy="102.3" r="2.75" fill="#316ae9"/>
<circle cx="283.1" cy="102.1" r="2.75" fill="#595edf"/>
<circle cx="324.6" cy="102.1" r="2.75" fill="#5a5ede"/>
<circle cx="336.2" cy="102.1" r="2.75" fill="#3569e8"/>
<circle cx="228.7" cy="117.6" r="2.75" fill="#ff0051"/>
<circle cx="216.3" cy="117.9" r="2.75" fill="#de0087"/>
<circle cx="226.4" cy="117.9" r="2.75" fill="#ad15a6"/>
<circle cx="224.0" cy="117.9" r="2.75" fill="#ff0051"/>
<circle cx="221.4" cy="117.6" r="2.75" fill="#df0087"/>
<circle cx="214.6" cy="117.9" r="2.75" fill="#9928b0"/>
<circle cx="221.6" cy="117.3" r="2.75" fill="#ff0051"/>
<circle cx="235.5" cy="117.4" r="2.75" fill="#595edf"/>
<circle cx="230.8" cy="117.9" r="2.75" fill="#4266e6"/>
<circle cx="221.2" cy="117.9" r="2.75" fill="#d5008f"/>
<circle cx="214.7" cy="117.6" r="2.75" fill="#9b24ad"/>
<circle cx="232.9" cy="117.9" r="2.75" fill="#3769e8"/>
<circle cx="233.1" cy="117.6" r="2.75" fill="#3f67e6"/>
<circle cx="219.1" cy="117.9" r="2.75" fill="#d8008d"/>
<circle cx="226.1" cy="117.3" r="2.75" fill="#9a26af"/>
<circle cx="212.0" cy="117.3" r="2.75" fill="#ab17a7"/>
<circle cx="228.7" cy="117.9" r="2.75" fill="#ae13a6"/>
<circle cx="218.9" cy="117.3" r="2.75" fill="#d30091"/>
<circle cx="228.1" cy="117.3" r="2.75" fill="#a61ca9"/>
<circle cx="223.6" cy="117.3" r="2.75" fill="#ff0052"/>
<circle cx="219.4" cy="117.6" r="2.75" fill="#da008b"/>
<circle cx="231.1" cy="117.6" r="2.75" fill="#4665e5"/>
<circle cx="233.0" cy="117.3" r="2.75" fill="#4266e5"/>
<circle cx="216.5" cy="117.3" r="2.75" fill="#aa18a8"/>
<circle cx="226.3" cy="117.6" r="2.75" fill="#ae14a6"/>
<circle cx="223.5" cy="117.6" r="2.75" fill="#9c23ad"/>
<circle cx="231.1" cy="117.3" r="2.75" fill="#3e67e6"/>
<circle cx="216.9" cy="117.6" r="2.75" fill="#982ab2"/>
<circle cx="214.7" cy="117.3" r="2.75" fill="#a021ac"/>
<circle cx="219.3" cy="119.2" r="2.75" fill="#dd0088"/>
<circle cx="217.9" cy="117.6" r="2.75" fill="#aa18a8"/>
<circle cx="223.1" cy="118.1" r="2.75" fill="#ff0051"/>
<circle cx="219.6" cy="120.8" r="2.75" fill="#d6008e"/>
<circle cx="223.7" cy="117.6" r="2.75" fill="#ff0051"/>
<circle cx="219.8" cy="115.9" r="2.75" fill="#d7008d"/>
<circle cx="221.3" cy="120.8" r="2.75" fill="#ff0051"/>
<circle cx="221.4" cy="117.6" r="2.75" fill="#d10092"/>
<circle cx="221.5" cy="119.2" r="2.75" fill="#ff0051"/>
<circle cx="223.1" cy="117.1" r="2.75" fill="#ff0051"/>
<circle cx="217.7" cy="117.1" r="2.75" fill="#a21fab"/>
<circle cx="219.7" cy="117.6" r="2.75" fill="#a21fab"/>
<circle cx="221.1" cy="115.9" r="2.75" fill="#ff0051"/>
<circle cx="217.8" cy="118.1" r="2.75" fill="#a31eaa"/>
<circle cx="219.3" cy="114.3" r="2.75" fill="#d10092"/>
<circle cx="221.5" cy="114.3" r="2.75" fill="#ff0051"/>
<circle cx="259.0" cy="117.4" r="2.75" fill="#008bfb"/>
<circle cx="252.2" cy="116.3" r="2.75" fill="#0086f9"/>
<circle cx="254.9" cy="118.2" r="2.75" fill="#0088fa"/>
<circle cx="259.6" cy="117.6" r="2.75" fill="#008bfb"/>
<circle cx="257.1" cy="116.7" r="2.75" fill="#008bfb"/>
<circle cx="245.9" cy="117.4" r="2.75" fill="#008bfb"/>
<circle cx="247.9" cy="117.0" r="2.75" fill="#008bfb"/>
<circle cx="252.3" cy="117.6" r="2.75" fill="#0085f9"/>
<circle cx="252.8" cy="118.8" r="2.75" fill="#0087fa"/>
<circle cx="257.2" cy="118.4" r="2.75" fill="#0086f9"/>
<circle cx="247.8" cy="117.6" r="2.75" fill="#0087fa"/>
<circle cx="259.5" cy="117.7" r="2.75" fill="#0087fa"/>
<circle cx="261.2" cy="117.4" r="2.75" fill="#008bfb"/>
<circle cx="254.5" cy="117.6" r="2.75" fill="#008afb"/>
<circle cx="263.8" cy="117.6" r="2.75" fill="#0086f9"/>
<circle cx="250.4" cy="117.7" r="2.75" fill="#0086f9"/>
<circle cx="257.1" cy="117.6" r="2.75" fill="#008bfb"/>
<circle cx="261.3" cy="117.6" r="2.75" fill="#008bfb"/>
<circle cx="261.6" cy="117.7" r="2.75" fill="#0089fa"/>
<circle cx="247.9" cy="118.1" r="2.75" fill="#008bfb"/>
<circle cx="254.6" cy="116.9" r="2.75" fill="#008afb"/>
<circle cx="254.6" cy="117.8" r="2.75" fill="#008bfb"/>
<circle cx="256.8" cy="118.9" r="2.75" fill="#008bfb"/>
<circle cx="256.9" cy="117.6" r="2.75" fill="#008bfb"/>
<circle cx="256.9" cy="120.3" r="2.75" fill="#008bfb"/>
<circle cx="256.1" cy="114.8" r="2.75" fill="#0086f9"/>
<circle cx="258.8" cy="118.9" r="2.75" fill="#0086f9"/>
<circle cx="260.5" cy="117.3" r="2.75" fill="#0086f9"/>
<circle cx="260.2" cy="117.6" r="2.75" fill="#008bfb"/>
<circle cx="256.2" cy="116.2" r="2.75" fill="#008afa"/>
<circle cx="254.5" cy="117.6" r="2.75" fill="#0086f9"/>
<circle cx="258.7" cy="116.2" r="2.75" fill="#008bfb"/>
<circle cx="254.3" cy="117.3" r="2.75" fill="#008afb"/>
<circle cx="258.1" cy="120.3" r="2.75" fill="#0086fa"/>
<circle cx="260.5" cy="117.8" r="2.75" fill="#0086f9"/>
<circle cx="258.8" cy="117.6" r="2.75" fill="#008afb"/>
<circle cx="258.6" cy="114.8" r="2.75" fill="#008bfb"/>
<circle cx="292.2" cy="117.7" r="2.75" fill="#008bfb"/>
<circle cx="298.1" cy="117.6" r="2.75" fill="#008bfb"/>
<circle cx="294.4" cy="117.1" r="2.75" fill="#008bfb"/>
<circle cx="296.0" cy="118.2" r="2.75" fill="#008afb"/>
<circle cx="294.0" cy="117.6" r="2.75" fill="#0085f9"/>
<circle cx="296.3" cy="116.9" r="2.75" fill="#008bfb"/>
<circle cx="294.1" cy="118.0" r="2.75" fill="#0086f9"/>
<circle cx="295.9" cy="117.6" r="2.75" fill="#008bfb"/>
<circle cx="193.4" cy="133.0" r="2.75" fill="#ae14a6"/>
<circle cx="197.7" cy="133.0" r="2.75" fill="#9d22ac"/>
<circle cx="211.0" cy="133.0" r="2.75" fill="#ae14a6"/>
<circle cx="213.9" cy="133.8" r="2.75" fill="#a41daa"/>
<circle cx="216.1" cy="133.3" r="2.75" fill="#a020ac"/>
<circle cx="221.4" cy="133.0" r="2.75" fill="#aa18a8"/>
<circle cx="216.2" cy="132.6" r="2.75" fill="#ac16a7"/>
<circle cx="219.0" cy="133.1" r="2.75" fill="#a51daa"/>
<circle cx="206.5" cy="132.9" r="2.75" fill="#9f21ac"/>
<circle cx="208.7" cy="132.4" r="2.75" fill="#a120ab"/>
<circle cx="221.0" cy="133.6" r="2.75" fill="#a120ab"/>
<circle cx="209.2" cy="133.0" r="2.75" fill="#a81aa9"/>
<circle cx="223.5" cy="133.1" r="2.75" fill="#9c23ad"/>
<circle cx="213.9" cy="132.1" r="2.75" fill="#9f21ac"/>
<circle cx="218.7" cy="133.0" r="2.75" fill="#a41eaa"/>
<circle cx="218.9" cy="132.9" r="2.75" fill="#9f21ac"/>
<circle cx="216.5" cy="133.0" r="2.75" fill="#9d22ac"/>
<circle cx="208.7" cy="133.5" r="2.75" fill="#aa18a8"/>
<circle cx="221.2" cy="132.3" r="2.75" fill="#ab17a7"/>
<circle cx="213.7" cy="133.0" r="2.75" fill="#a21fab"/>
<circle cx="211.4" cy="133.9" r="2.75" fill="#a120ab"/>
<circle cx="211.0" cy="132.0" r="2.75" fill="#9a26af"/>
<circle cx="228.9" cy="133.0" r="2.75" fill="#4366e5"/>
<circle cx="226.3" cy="133.0" r="2.75" fill="#256cea"/>
<circle cx="230.4" cy="134.4" r="2.75" fill="#2a6bea"/>
<circle cx="226.4" cy="132.7" r="2.75" fill="#3669e8"/>
<circle cx="226.7" cy="133.3" r="2.75" fill="#4066e6"/>
<circle cx="228.8" cy="135.8" r="2.75" fill="#4565e5"/>
<circle cx="228.6" cy="130.2" r="2.75" fill="#4c63e3"/>
<circle cx="230.2" cy="133.0" r="2.75" fill="#585fdf"/>
<circle cx="228.4" cy="134.4" r="2.75" fill="#316ae9"/>
<circle cx="230.8" cy="131.6" r="2.75" fill="#336ae8"/>
<circle cx="232.0" cy="132.7" r="2.75" fill="#4166e6"/>
<circle cx="232.0" cy="133.0" r="2.75" fill="#4067e6"/>
<circle cx="230.8" cy="135.8" r="2.75" fill="#5161e1"/>
<circle cx="230.7" cy="130.2" r="2.75" fill="#565fe0"/>
<circle cx="228.2" cy="131.6" r="2.75" fill="#4964e4"/>
<circle cx="232.5" cy="133.3" r="2.75" fill="#4e62e2"/>
<circle cx="234.2" cy="132.3" r="2.75" fill="#008afb"/>
<circle cx="232.5" cy="133.1" r="2.75" fill="#0087fa"/>
<circle cx="236.2" cy="133.2" r="2.75" fill="#008bfb"/>
<circle cx="234.4" cy="133.6" r="2.75" fill="#0086fa"/>
<circle cx="238.5" cy="133.1" r="2.75" fill="#008bfb"/>
<circle cx="234.4" cy="133.0" r="2.75" fill="#008bfb"/>
<circle cx="236.3" cy="133.0" r="2.75" fill="#008afb"/>
<circle cx="236.2" cy="132.8" r="2.75" fill="#008bfb"/>
<circle cx="242.5" cy="132.0" r="2.75" fill="#ff0051"/>
<circle cx="242.5" cy="134.0" r="2.75" fill="#ff0051"/>
<circle cx="246.0" cy="132.0" r="2.75" fill="#0088fa"/>
<circle cx="246.0" cy="134.0" r="2.75" fill="#0088fa"/>
<circle cx="252.0" cy="132.0" r="2.75" fill="#ff005a"/>
<circle cx="252.0" cy="134.0" r="2.75" fill="#ff005a"/>
<circle cx="260.0" cy="133.2" r="2.75" fill="#008afb"/>
<circle cx="256.5" cy="133.1" r="2.75" fill="#0089fa"/>
<circle cx="258.2" cy="133.0" r="2.75" fill="#008bfb"/>
<circle cx="266.8" cy="133.8" r="2.75" fill="#d10092"/>
<circle cx="266.8" cy="133.0" r="2.75" fill="#ff0059"/>
<circle cx="268.5" cy="132.9" r="2.75" fill="#e10085"/>
<circle cx="266.8" cy="132.1" r="2.75" fill="#ff0051"/>
<circle cx="265.0" cy="133.0" r="2.75" fill="#ff0052"/>
<circle cx="273.5" cy="132.9" r="2.75" fill="#aa18a8"/>
<circle cx="279.5" cy="133.1" r="2.75" fill="#d30091"/>
<circle cx="282.5" cy="133.1" r="2.75" fill="#d5008f"/>
<circle cx="292.5" cy="133.3" r="2.75" fill="#e10085"/>
<circle cx="289.7" cy="132.1" r="2.75" fill="#d9008c"/>
<circle cx="292.2" cy="132.7" r="2.75" fill="#e10085"/>
<circle cx="294.8" cy="131.2" r="2.75" fill="#d5008f"/>
<circle cx="294.5" cy="133.0" r="2.75" fill="#d7008d"/>
<circle cx="289.5" cy="133.8" r="2.75" fill="#a81aa9"/>
<circle cx="287.5" cy="132.8" r="2.75" fill="#9b24ae"/>
<circle cx="291.8" cy="133.0" r="2.75" fill="#d6008e"/>
<circle cx="296.9" cy="132.8" r="2.75" fill="#e00086"/>
<circle cx="294.3" cy="134.8" r="2.75" fill="#d9008c"/>
<circle cx="290.1" cy="133.0" r="2.75" fill="#de0087"/>
<circle cx="221.9" cy="148.4" r="2.75" fill="#3769e8"/>
<circle cx="216.6" cy="148.1" r="2.75" fill="#ab17a7"/>
<circle cx="236.0" cy="148.4" r="2.75" fill="#3d67e6"/>
<circle cx="216.8" cy="148.7" r="2.75" fill="#a51caa"/>
<circle cx="219.6" cy="148.4" r="2.75" fill="#9a26af"/>
<circle cx="243.0" cy="148.7" r="2.75" fill="#ff0058"/>
<circle cx="214.5" cy="148.3" r="2.75" fill="#ad15a7"/>
<circle cx="228.9" cy="148.4" r="2.75" fill="#5062e2"/>
<circle cx="230.9" cy="148.1" r="2.75" fill="#4f62e2"/>
<circle cx="238.4" cy="148.1" r="2.75" fill="#286cea"/>
<circle cx="238.4" cy="148.4" r="2.75" fill="#d10092"/>
<circle cx="223.8" cy="148.1" r="2.75" fill="#316ae9"/>
<circle cx="226.1" cy="148.7" r="2.75" fill="#3469e8"/>
<circle cx="231.1" cy="148.7" r="2.75" fill="#008bfb"/>
<circle cx="226.3" cy="148.1" r="2.75" fill="#3f67e6"/>
<circle cx="229.1" cy="148.7" r="2.75" fill="#008bfb"/>
<circle cx="245.5" cy="148.2" r="2.75" fill="#ff0055"/>
<circle cx="242.8" cy="148.4" r="2.75" fill="#dc0089"/>
<circle cx="242.7" cy="148.1" r="2.75" fill="#ff0057"/>
<circle cx="240.8" cy="148.4" r="2.75" fill="#df0086"/>
<circle cx="240.9" cy="148.1" r="2.75" fill="#db008b"/>
<circle cx="222.0" cy="148.1" r="2.75" fill="#a81aa9"/>
<circle cx="238.0" cy="148.7" r="2.75" fill="#3869e8"/>
<circle cx="236.0" cy="148.7" r="2.75" fill="#d8008d"/>
<circle cx="233.3" cy="148.1" r="2.75" fill="#4e62e2"/>
<circle cx="216.6" cy="148.4" r="2.75" fill="#9e22ac"/>
<circle cx="240.9" cy="148.7" r="2.75" fill="#d00093"/>
<circle cx="221.7" cy="148.7" r="2.75" fill="#ab17a7"/>
<circle cx="233.9" cy="148.7" r="2.75" fill="#0088fa"/>
<circle cx="228.8" cy="148.1" r="2.75" fill="#3a68e7"/>
<circle cx="236.3" cy="148.1" r="2.75" fill="#286cea"/>
<circle cx="233.6" cy="148.4" r="2.75" fill="#5560e0"/>
<circle cx="219.0" cy="148.1" r="2.75" fill="#a51daa"/>
<circle cx="219.2" cy="148.7" r="2.75" fill="#982ab1"/>
<circle cx="223.7" cy="148.7" r="2.75" fill="#3769e8"/>
<circle cx="231.0" cy="148.4" r="2.75" fill="#2e6be9"/>
<circle cx="226.2" cy="148.4" r="2.75" fill="#5261e1"/>
<circle cx="223.9" cy="148.4" r="2.75" fill="#9b25ae"/>
<circle cx="217.7" cy="150.7" r="2.75" fill="#ad15a6"/>
<circle cx="217.7" cy="148.4" r="2.75" fill="#a71ba9"/>
<circle cx="217.7" cy="146.1" r="2.75" fill="#a81aa8"/>
<circle cx="219.4" cy="148.6" r="2.75" fill="#ab17a7"/>
<circle cx="215.6" cy="148.7" r="2.75" fill="#a51caa"/>
<circle cx="217.4" cy="149.6" r="2.75" fill="#a120ab"/>
<circle cx="217.2" cy="147.3" r="2.75" fill="#982ab1"/>
<circle cx="227.2" cy="148.4" r="2.75" fill="#9929b0"/>
<circle cx="228.7" cy="148.4" r="2.75" fill="#a61ca9"/>
<circle cx="227.2" cy="151.7" r="2.75" fill="#9a27b0"/>
<circle cx="225.1" cy="148.7" r="2.75" fill="#a71ba9"/>
<circle cx="226.6" cy="150.1" r="2.75" fill="#a21fab"/>
<circle cx="225.3" cy="148.1" r="2.75" fill="#a21fab"/>
<circle cx="225.0" cy="148.4" r="2.75" fill="#a71aa9"/>
<circle cx="226.7" cy="146.8" r="2.75" fill="#972bb2"/>
<circle cx="229.1" cy="148.1" r="2.75" fill="#a71ba9"/>
<circle cx="227.3" cy="145.1" r="2.75" fill="#9927b0"/>
<circle cx="228.9" cy="148.7" r="2.75" fill="#a61ca9"/>
<circle cx="248.3" cy="148.4" r="2.75" fill="#9d22ac"/>
<circle cx="252.2" cy="144.7" r="2.75" fill="#a11fab"/>
<circle cx="249.9" cy="150.3" r="2.75" fill="#9e21ac"/>
<circle cx="253.3" cy="147.7" r="2.75" fill="#9a26af"/>
<circle cx="248.8" cy="149.1" r="2.75" fill="#9929b1"/>
<circle cx="253.2" cy="148.4" r="2.75" fill="#982bb2"/>
<circle cx="251.5" cy="148.4" r="2.75" fill="#af13a6"/>
<circle cx="252.1" cy="152.1" r="2.75" fill="#a919a8"/>
<circle cx="251.9" cy="146.6" r="2.75" fill="#9929b1"/>
<circle cx="250.0" cy="146.6" r="2.75" fill="#a81aa9"/>
<circle cx="252.2" cy="150.3" r="2.75" fill="#ae13a6"/>
<circle cx="253.6" cy="149.1" r="2.75" fill="#a41daa"/>
<circle cx="250.3" cy="144.7" r="2.75" fill="#9928b0"/>
<circle cx="250.1" cy="152.1" r="2.75" fill="#a21fab"/>
<circle cx="250.3" cy="148.4" r="2.75" fill="#a020ab"/>
<circle cx="248.8" cy="147.7" r="2.75" fill="#9a26ae"/>
<circle cx="264.0" cy="149.4" r="2.75" fill="#0088fa"/>
<circle cx="259.9" cy="150.0" r="2.75" fill="#008bfb"/>
<circle cx="257.5" cy="148.4" r="2.75" fill="#008bfb"/>
<circle cx="266.5" cy="148.1" r="2.75" fill="#0087fa"/>
<circle cx="264.0" cy="148.4" r="2.75" fill="#008bfb"/>
<circle cx="264.1" cy="147.5" r="2.75" fill="#008bfb"/>
<circle cx="259.4" cy="146.9" r="2.75" fill="#008afb"/>
<circle cx="262.3" cy="148.4" r="2.75" fill="#008bfb"/>
<circle cx="262.1" cy="147.2" r="2.75" fill="#0087fa"/>
<circle cx="260.1" cy="148.4" r="2.75" fill="#008bfb"/>
<circle cx="262.1" cy="149.7" r="2.75" fill="#008bfb"/>
<circle cx="274.3" cy="145.9" r="2.75" fill="#008afb"/>
<circle cx="274.3" cy="150.9" r="2.75" fill="#0089fa"/>
<circle cx="283.3" cy="148.6" r="2.75" fill="#0088fa"/>
<circle cx="288.0" cy="148.7" r="2.75" fill="#0085f9"/>
<circle cx="285.6" cy="148.5" r="2.75" fill="#0089fa"/>
<circle cx="290.3" cy="148.7" r="2.75" fill="#0089fa"/>
<circle cx="247.0" cy="163.8" r="2.75" fill="#008bfb"/>
<circle cx="249.5" cy="163.8" r="2.75" fill="#008bfb"/>
<circle cx="247.0" cy="161.9" r="2.75" fill="#008bfb"/>
<circle cx="247.4" cy="165.8" r="2.75" fill="#0089fa"/>
<circle cx="245.0" cy="163.6" r="2.75" fill="#0087fa"/>
<circle cx="258.8" cy="163.8" r="2.75" fill="#8047c9"/>
<circle cx="256.6" cy="166.6" r="2.75" fill="#7c4acc"/>
<circle cx="256.4" cy="161.1" r="2.75" fill="#9928b0"/>
<circle cx="254.7" cy="166.6" r="2.75" fill="#9a26af"/>
<circle cx="256.8" cy="162.5" r="2.75" fill="#ac16a7"/>
<circle cx="254.4" cy="163.8" r="2.75" fill="#a31eaa"/>
<circle cx="258.5" cy="164.8" r="2.75" fill="#754fd1"/>
<circle cx="254.9" cy="162.5" r="2.75" fill="#ac16a7"/>
<circle cx="252.6" cy="164.8" r="2.75" fill="#9b23ad"/>
<circle cx="252.3" cy="163.8" r="2.75" fill="#9928b0"/>
<circle cx="254.5" cy="165.2" r="2.75" fill="#a31eaa"/>
<circle cx="258.5" cy="162.9" r="2.75" fill="#794dcf"/>
<circle cx="256.6" cy="165.2" r="2.75" fill="#a21fab"/>
<circle cx="254.8" cy="159.7" r="2.75" fill="#8047ca"/>
<circle cx="256.8" cy="163.8" r="2.75" fill="#784dcf"/>
<circle cx="252.5" cy="162.9" r="2.75" fill="#a41daa"/>
<circle cx="256.6" cy="168.0" r="2.75" fill="#754fd1"/>
<circle cx="256.5" cy="159.7" r="2.75" fill="#7f48ca"/>
<circle cx="254.3" cy="168.0" r="2.75" fill="#a41daa"/>
<circle cx="254.5" cy="161.1" r="2.75" fill="#9929b1"/>
<circle cx="261.5" cy="163.8" r="2.75" fill="#d30091"/>
<circle cx="264.0" cy="163.6" r="2.75" fill="#d9008c"/>
<circle cx="275.2" cy="162.3" r="2.75" fill="#ff0051"/>
<circle cx="275.2" cy="165.3" r="2.75" fill="#ff0051"/>
<circle cx="242.6" cy="179.0" r="2.75" fill="#008afb"/>
<circle cx="242.3" cy="179.3" r="2.75" fill="#0085f9"/>
<circle cx="242.6" cy="179.6" r="2.75" fill="#008bfb"/>
<circle cx="245.5" cy="179.3" r="2.75" fill="#008bfb"/>
<circle cx="254.7" cy="175.1" r="2.75" fill="#3869e8"/>
<circle cx="254.6" cy="177.9" r="2.75" fill="#346ae8"/>
<circle cx="256.8" cy="178.3" r="2.75" fill="#4266e5"/>
<circle cx="252.7" cy="183.4" r="2.75" fill="#5460e0"/>
<circle cx="253.2" cy="179.3" r="2.75" fill="#4964e4"/>
<circle cx="252.7" cy="176.5" r="2.75" fill="#2e6be9"/>
<circle cx="251.2" cy="180.2" r="2.75" fill="#266cea"/>
<circle cx="251.0" cy="179.3" r="2.75" fill="#2e6be9"/>
<circle cx="255.4" cy="179.3" r="2.75" fill="#5361e1"/>
<circle cx="257.2" cy="180.2" r="2.75" fill="#336ae8"/>
<circle cx="255.1" cy="183.4" r="2.75" fill="#4864e4"/>
<circle cx="252.7" cy="177.9" r="2.75" fill="#3a68e7"/>
<circle cx="254.7" cy="180.6" r="2.75" fill="#4e62e2"/>
<circle cx="254.7" cy="182.0" r="2.75" fill="#3f67e6"/>
<circle cx="256.8" cy="179.3" r="2.75" fill="#306ae9"/>
<circle cx="255.3" cy="176.5" r="2.75" fill="#565fe0"/>
<circle cx="253.4" cy="180.6" r="2.75" fill="#4765e4"/>
<circle cx="253.0" cy="175.1" r="2.75" fill="#4e62e2"/>
<circle cx="253.0" cy="182.0" r="2.75" fill="#5360e1"/>
<circle cx="250.8" cy="178.3" r="2.75" fill="#585edf"/>
<circle cx="258.3" cy="177.8" r="2.75" fill="#ff005a"/>
<circle cx="258.3" cy="180.8" r="2.75" fill="#ff0054"/>
<circle cx="248.5" cy="194.7" r="2.75" fill="#0087fa"/>
<circle cx="245.5" cy="194.5" r="2.75" fill="#008bfb"/>
<circle cx="257.8" cy="194.7" r="2.75" fill="#0085f9"/>
<circle cx="254.8" cy="190.6" r="2.75" fill="#008bfb"/>
<circle cx="252.7" cy="191.7" r="2.75" fill="#008afb"/>
<circle cx="252.5" cy="194.7" r="2.75" fill="#0088fa"/>
<circle cx="254.3" cy="196.1" r="2.75" fill="#0086fa"/>
<circle cx="256.1" cy="194.7" r="2.75" fill="#0088fa"/>
<circle cx="257.5" cy="195.3" r="2.75" fill="#0089fa"/>
<circle cx="254.6" cy="192.0" r="2.75" fill="#0089fa"/>
<circle cx="253.1" cy="196.2" r="2.75" fill="#008bfb"/>
<circle cx="252.8" cy="193.2" r="2.75" fill="#008bfb"/>
<circle cx="254.8" cy="197.4" r="2.75" fill="#0087fa"/>
<circle cx="255.9" cy="193.2" r="2.75" fill="#0086fa"/>
<circle cx="254.4" cy="194.7" r="2.75" fill="#0086f9"/>
<circle cx="251.2" cy="195.3" r="2.75" fill="#0089fa"/>
<circle cx="257.8" cy="194.1" r="2.75" fill="#008bfb"/>
<circle cx="251.4" cy="194.7" r="2.75" fill="#0088fa"/>
<circle cx="254.6" cy="198.8" r="2.75" fill="#0088fa"/>
<circle cx="256.3" cy="197.7" r="2.75" fill="#008afb"/>
<circle cx="250.8" cy="194.1" r="2.75" fill="#0089fa"/>
<circle cx="252.7" cy="197.7" r="2.75" fill="#008bfb"/>
<circle cx="254.2" cy="193.3" r="2.75" fill="#008afb"/>
<circle cx="255.8" cy="191.7" r="2.75" fill="#008bfb"/>
<circle cx="256.2" cy="196.2" r="2.75" fill="#008bfb"/></g>
<line x1="88.6" y1="210.8" x2="466.0" y2="210.8" stroke="#111" stroke-width="1.4"/>
<line x1="167.9" y1="210.8" x2="167.9" y2="218.2" stroke="#111" stroke-width="1.1"/>
<text x="167.9" y="236.8" text-anchor="middle" font-family='"Liberation Serif","Times New Roman",serif' font-size="16.0" fill="#1a1a1a">−2</text>
<line x1="254.7" y1="210.8" x2="254.7" y2="218.2" stroke="#111" stroke-width="1.1"/>
<text x="254.7" y="236.8" text-anchor="middle" font-family='"Liberation Serif","Times New Roman",serif' font-size="16.0" fill="#1a1a1a">0</text>
<line x1="341.5" y1="210.8" x2="341.5" y2="218.2" stroke="#111" stroke-width="1.1"/>
<text x="341.5" y="236.8" text-anchor="middle" font-family='"Liberation Serif","Times New Roman",serif' font-size="16.0" fill="#1a1a1a">2</text>
<line x1="428.3" y1="210.8" x2="428.3" y2="218.2" stroke="#111" stroke-width="1.1"/>
<text x="428.3" y="236.8" text-anchor="middle" font-family='"Liberation Serif","Times New Roman",serif' font-size="16.0" fill="#1a1a1a">4</text>
<text x="277.0" y="257.4" text-anchor="middle" font-family='"Liberation Serif","Times New Roman",serif' font-size="16.37" fill="#1a1a1a">mean(|SHAP values|) (average impact on model output)</text>
<text x="277.5" y="17.0" text-anchor="middle" font-family='"Liberation Serif","Times New Roman",serif' font-size="17.10" fill="#1a1a1a">a) FF mode</text>
<text transform="translate(22.5 118.0) rotate(-90)" text-anchor="middle" font-family='"Liberation Serif","Times New Roman",serif' font-size="20.40" fill="#1a1a1a">Input variable</text>
<text x="54.9" y="46.7" text-anchor="end" font-size="16.0" fill="#1a1a1a"><tspan font-family='"Liberation Serif","Times New Roman",serif'>L</tspan><tspan font-family='"DejaVu Sans","Liberation Sans",sans-serif' font-style="italic" font-size="11.2" dy="2.2">w</tspan></text>
<text x="54.9" y="62.1" text-anchor="end" font-size="16.0" fill="#1a1a1a"><tspan font-family='"Liberation Serif","Times New Roman",serif'>B</tspan></text>
<text x="54.9" y="77.6" text-anchor="end" font-size="16.0" fill="#1a1a1a"><tspan font-family='"Liberation Serif","Times New Roman",serif'>f</tspan><tspan font-family='"DejaVu Sans","Liberation Sans",sans-serif' font-style="italic" font-size="11.2" dy="2.2">yl</tspan></text>
<text x="54.9" y="93.0" text-anchor="end" font-size="16.0" fill="#1a1a1a"><tspan font-family='"DejaVu Sans","Liberation Sans",sans-serif' font-style="italic">ρ</tspan><tspan font-family='"DejaVu Sans","Liberation Sans",sans-serif' font-style="italic" font-size="11.2" dy="2.2">w</tspan></text>
<text x="54.9" y="108.4" text-anchor="end" font-size="16.0" fill="#1a1a1a"><tspan font-family='"Liberation Serif","Times New Roman",serif'>P</tspan></text>
<text x="54.9" y="123.9" text-anchor="end" font-size="16.0" fill="#1a1a1a"><tspan font-family='"Liberation Serif","Times New Roman",serif'>H</tspan></text>
<text x="54.9" y="139.3" text-anchor="end" font-size="16.0" fill="#1a1a1a"><tspan font-family='"Liberation Serif","Times New Roman",serif'>f</tspan><tspan font-family='"DejaVu Sans","Liberation Sans",sans-serif' font-style="italic" font-size="11.2" dy="2.2">c</tspan></text>
<text x="54.9" y="154.7" text-anchor="end" font-size="16.0" fill="#1a1a1a"><tspan font-family='"DejaVu Sans","Liberation Sans",sans-serif' font-style="italic">ρ</tspan><tspan font-family='"DejaVu Sans","Liberation Sans",sans-serif' font-style="italic" font-size="11.2" dy="2.2">l</tspan></text>
<text x="54.9" y="170.1" text-anchor="end" font-size="16.0" fill="#1a1a1a"><tspan font-family='"Liberation Serif","Times New Roman",serif'>f</tspan><tspan font-family='"DejaVu Sans","Liberation Sans",sans-serif' font-style="italic" font-size="11.2" dy="2.2">yw</tspan></text>
<text x="54.9" y="185.6" text-anchor="end" font-size="16.0" fill="#1a1a1a"><tspan font-family='"Liberation Serif","Times New Roman",serif'>t</tspan><tspan font-family='"DejaVu Sans","Liberation Sans",sans-serif' font-style="italic" font-size="11.2" dy="2.2">w</tspan></text>
<text x="54.9" y="201.0" text-anchor="end" font-size="16.0" fill="#1a1a1a"><tspan font-family='"Liberation Serif","Times New Roman",serif'>s</tspan></text>
<rect x="489.0" y="25.6" width="7.2" height="184.6" fill="url(#cb)"/>
<text x="501.2" y="29.8" font-family='"Liberation Serif","Times New Roman",serif' font-size="14.7" fill="#1a1a1a">High</text>
<text x="501.6" y="216.0" font-family='"Liberation Serif","Times New Roman",serif' font-size="14.7" fill="#1a1a1a">Low</text>
<text transform="translate(541.8 118.4) rotate(-90)" text-anchor="middle" font-family='"Liberation Serif","Times New Roman",serif' font-size="16.7" fill="#1a1a1a">Feature value</text>
<line x1="88.6" y1="330.00" x2="464.0" y2="330.00" stroke="#dcdcdc" stroke-width="0.7" stroke-dasharray="1.2 3"/>
<line x1="88.6" y1="345.44" x2="464.0" y2="345.44" stroke="#dcdcdc" stroke-width="0.7" stroke-dasharray="1.2 3"/>
<line x1="88.6" y1="360.88" x2="464.0" y2="360.88" stroke="#dcdcdc" stroke-width="0.7" stroke-dasharray="1.2 3"/>
<line x1="88.6" y1="376.32" x2="464.0" y2="376.32" stroke="#dcdcdc" stroke-width="0.7" stroke-dasharray="1.2 3"/>
<line x1="88.6" y1="391.76" x2="464.0" y2="391.76" stroke="#dcdcdc" stroke-width="0.7" stroke-dasharray="1.2 3"/>
<line x1="88.6" y1="407.20" x2="464.0" y2="407.20" stroke="#dcdcdc" stroke-width="0.7" stroke-dasharray="1.2 3"/>
<line x1="88.6" y1="422.64" x2="464.0" y2="422.64" stroke="#dcdcdc" stroke-width="0.7" stroke-dasharray="1.2 3"/>
<line x1="88.6" y1="438.08" x2="464.0" y2="438.08" stroke="#dcdcdc" stroke-width="0.7" stroke-dasharray="1.2 3"/>
<line x1="88.6" y1="453.52" x2="464.0" y2="453.52" stroke="#dcdcdc" stroke-width="0.7" stroke-dasharray="1.2 3"/>
<line x1="88.6" y1="468.96" x2="464.0" y2="468.96" stroke="#dcdcdc" stroke-width="0.7" stroke-dasharray="1.2 3"/>
<line x1="88.6" y1="484.40" x2="464.0" y2="484.40" stroke="#dcdcdc" stroke-width="0.7" stroke-dasharray="1.2 3"/>
<line x1="288.5" y1="315.3" x2="288.5" y2="500.7" stroke="#8e8e8e" stroke-width="1.5"/>
<g><circle cx="180.5" cy="329.9" r="2.75" fill="#4565e5"/>
<circle cx="182.0" cy="329.9" r="2.75" fill="#565fe0"/>
<circle cx="188.8" cy="328.5" r="2.75" fill="#aa18a8"/>
<circle cx="188.8" cy="331.5" r="2.75" fill="#af13a6"/>
<circle cx="194.5" cy="329.8" r="2.75" fill="#3469e8"/>
<circle cx="198.3" cy="331.2" r="2.75" fill="#4764e4"/>
<circle cx="201.7" cy="325.6" r="2.75" fill="#008bfb"/>
<circle cx="201.6" cy="332.9" r="2.75" fill="#0088fa"/>
<circle cx="208.1" cy="330.0" r="2.75" fill="#008bfb"/>
<circle cx="204.2" cy="327.1" r="2.75" fill="#4a64e3"/>
<circle cx="207.9" cy="331.2" r="2.75" fill="#ff0051"/>
<circle cx="200.0" cy="333.5" r="2.75" fill="#0086f9"/>
<circle cx="197.9" cy="327.6" r="2.75" fill="#5560e0"/>
<circle cx="204.4" cy="331.5" r="2.75" fill="#5560e0"/>
<circle cx="209.6" cy="329.1" r="2.75" fill="#ff0051"/>
<circle cx="199.9" cy="330.0" r="2.75" fill="#ff0051"/>
<circle cx="196.7" cy="330.0" r="2.75" fill="#ff0054"/>
<circle cx="197.9" cy="332.4" r="2.75" fill="#4f62e2"/>
<circle cx="201.7" cy="328.5" r="2.75" fill="#008bfb"/>
<circle cx="196.5" cy="329.1" r="2.75" fill="#ff0051"/>
<circle cx="203.2" cy="334.8" r="2.75" fill="#ff0056"/>
<circle cx="198.4" cy="328.8" r="2.75" fill="#575fdf"/>
<circle cx="206.4" cy="333.5" r="2.75" fill="#ff0051"/>
<circle cx="201.0" cy="334.4" r="2.75" fill="#008bfb"/>
<circle cx="209.1" cy="330.0" r="2.75" fill="#008bfb"/>
<circle cx="199.7" cy="331.8" r="2.75" fill="#0087fa"/>
<circle cx="199.9" cy="326.5" r="2.75" fill="#ff005a"/>
<circle cx="202.6" cy="333.2" r="2.75" fill="#0089fa"/>
<circle cx="207.7" cy="327.6" r="2.75" fill="#ff005a"/>
<circle cx="208.1" cy="328.8" r="2.75" fill="#0087fa"/>
<circle cx="201.5" cy="331.5" r="2.75" fill="#0086f9"/>
<circle cx="204.9" cy="332.9" r="2.75" fill="#4d63e3"/>
<circle cx="204.6" cy="328.5" r="2.75" fill="#3d67e7"/>
<circle cx="206.4" cy="330.0" r="2.75" fill="#008bfb"/>
<circle cx="202.8" cy="325.2" r="2.75" fill="#3f67e6"/>
<circle cx="203.4" cy="331.6" r="2.75" fill="#ff0051"/>
<circle cx="196.9" cy="330.9" r="2.75" fill="#3f67e6"/>
<circle cx="204.7" cy="330.0" r="2.75" fill="#4c63e3"/>
<circle cx="201.0" cy="330.0" r="2.75" fill="#ff0051"/>
<circle cx="201.7" cy="327.1" r="2.75" fill="#008bfb"/>
<circle cx="202.8" cy="326.8" r="2.75" fill="#008bfb"/>
<circle cx="209.1" cy="330.9" r="2.75" fill="#0088fa"/>
<circle cx="205.9" cy="328.2" r="2.75" fill="#ff0056"/>
<circle cx="206.3" cy="331.8" r="2.75" fill="#ff0054"/>
<circle cx="206.3" cy="326.5" r="2.75" fill="#008bfb"/>
<circle cx="207.4" cy="332.4" r="2.75" fill="#008bfb"/>
<circle cx="204.5" cy="325.6" r="2.75" fill="#ff0055"/>
<circle cx="202.8" cy="330.0" r="2.75" fill="#ff0051"/>
<circle cx="203.1" cy="328.4" r="2.75" fill="#008bfb"/>
<circle cx="198.4" cy="330.0" r="2.75" fill="#5a5ede"/>
<circle cx="204.7" cy="334.4" r="2.75" fill="#5261e1"/>
<circle cx="199.9" cy="328.2" r="2.75" fill="#ff0051"/>
<circle cx="213.3" cy="328.9" r="2.75" fill="#ff0051"/>
<circle cx="222.2" cy="331.1" r="2.75" fill="#4e62e2"/>
<circle cx="217.5" cy="328.0" r="2.75" fill="#dd0088"/>
<circle cx="215.3" cy="329.4" r="2.75" fill="#008bfb"/>
<circle cx="218.0" cy="330.0" r="2.75" fill="#565fe0"/>
<circle cx="222.2" cy="330.0" r="2.75" fill="#2a6bea"/>
<circle cx="224.9" cy="329.8" r="2.75" fill="#2e6be9"/>
<circle cx="218.0" cy="329.0" r="2.75" fill="#595edf"/>
<circle cx="212.6" cy="331.1" r="2.75" fill="#ff0051"/>
<circle cx="210.5" cy="330.3" r="2.75" fill="#4665e4"/>
<circle cx="215.0" cy="330.0" r="2.75" fill="#008bfb"/>
<circle cx="215.4" cy="330.6" r="2.75" fill="#ff0056"/>
<circle cx="217.4" cy="332.0" r="2.75" fill="#da008b"/>
<circle cx="219.8" cy="330.7" r="2.75" fill="#dc008a"/>
<circle cx="222.2" cy="328.9" r="2.75" fill="#4764e4"/>
<circle cx="217.3" cy="331.0" r="2.75" fill="#5a5ede"/>
<circle cx="220.2" cy="330.0" r="2.75" fill="#da008b"/>
<circle cx="213.2" cy="330.0" r="2.75" fill="#ff0051"/>
<circle cx="220.5" cy="329.3" r="2.75" fill="#e10085"/>
<circle cx="251.9" cy="330.3" r="2.75" fill="#ff0055"/>
<circle cx="249.6" cy="330.2" r="2.75" fill="#ff0054"/>
<circle cx="260.9" cy="329.7" r="2.75" fill="#ff0059"/>
<circle cx="256.4" cy="329.7" r="2.75" fill="#ff0052"/>
<circle cx="247.4" cy="330.3" r="2.75" fill="#ff0055"/>
<circle cx="258.6" cy="330.1" r="2.75" fill="#ff0054"/>
<circle cx="245.1" cy="329.7" r="2.75" fill="#ff0053"/>
<circle cx="254.1" cy="329.8" r="2.75" fill="#ff0051"/>
<circle cx="258.6" cy="330.1" r="2.75" fill="#ff0051"/>
<circle cx="260.4" cy="330.0" r="2.75" fill="#ff0051"/>
<circle cx="262.4" cy="329.9" r="2.75" fill="#ff0051"/>
<circle cx="260.5" cy="330.8" r="2.75" fill="#ff0056"/>
<circle cx="260.3" cy="329.2" r="2.75" fill="#ff0051"/>
<circle cx="298.3" cy="330.0" r="2.75" fill="#0085f9"/>
<circle cx="310.3" cy="330.0" r="2.75" fill="#0088fa"/>
<circle cx="339.0" cy="328.5" r="2.75" fill="#0088fa"/>
<circle cx="339.0" cy="331.5" r="2.75" fill="#0085f9"/>
<circle cx="387.1" cy="329.9" r="2.75" fill="#0085f9"/>
<circle cx="350.5" cy="330.2" r="2.75" fill="#008bfb"/>
<circle cx="366.5" cy="330.0" r="2.75" fill="#0088fa"/>
<circle cx="391.7" cy="329.9" r="2.75" fill="#008bfb"/>
<circle cx="364.2" cy="329.9" r="2.75" fill="#008bfb"/>
<circle cx="382.6" cy="330.1" r="2.75" fill="#008bfb"/>
<circle cx="389.4" cy="330.0" r="2.75" fill="#008bfb"/>
<circle cx="359.7" cy="329.7" r="2.75" fill="#0089fa"/>
<circle cx="357.4" cy="330.1" r="2.75" fill="#008bfb"/>
<circle cx="384.8" cy="330.0" r="2.75" fill="#0089fa"/>
<circle cx="352.8" cy="330.1" r="2.75" fill="#008bfb"/>
<circle cx="361.9" cy="330.1" r="2.75" fill="#0086f9"/>
<circle cx="380.3" cy="330.0" r="2.75" fill="#0087fa"/>
<circle cx="373.4" cy="330.1" r="2.75" fill="#0089fa"/>
<circle cx="371.1" cy="330.0" r="2.75" fill="#0086f9"/>
<circle cx="368.8" cy="330.1" r="2.75" fill="#008bfb"/>
<circle cx="394.0" cy="330.2" r="2.75" fill="#008bfb"/>
<circle cx="355.1" cy="329.8" r="2.75" fill="#0087fa"/>
<circle cx="375.7" cy="330.0" r="2.75" fill="#008bfb"/>
<circle cx="378.0" cy="330.0" r="2.75" fill="#008bfb"/>
<circle cx="378.4" cy="329.5" r="2.75" fill="#008bfb"/>
<circle cx="373.9" cy="333.5" r="2.75" fill="#008bfb"/>
<circle cx="370.8" cy="329.5" r="2.75" fill="#0088fa"/>
<circle cx="378.0" cy="330.0" r="2.75" fill="#0085f9"/>
<circle cx="372.2" cy="328.8" r="2.75" fill="#008bfb"/>
<circle cx="375.0" cy="326.5" r="2.75" fill="#0089fa"/>
<circle cx="373.8" cy="331.8" r="2.75" fill="#008bfb"/>
<circle cx="372.3" cy="331.2" r="2.75" fill="#008bfb"/>
<circle cx="370.5" cy="330.5" r="2.75" fill="#0087fa"/>
<circle cx="372.3" cy="327.7" r="2.75" fill="#008bfb"/>
<circle cx="374.9" cy="330.0" r="2.75" fill="#0089fa"/>
<circle cx="377.1" cy="331.2" r="2.75" fill="#0085f9"/>
<circle cx="376.9" cy="328.8" r="2.75" fill="#0087fa"/>
<circle cx="375.0" cy="331.8" r="2.75" fill="#008afb"/>
<circle cx="370.5" cy="330.0" r="2.75" fill="#008bfb"/>
<circle cx="375.3" cy="328.2" r="2.75" fill="#008bfb"/>
<circle cx="378.2" cy="330.5" r="2.75" fill="#0087fa"/>
<circle cx="372.0" cy="332.3" r="2.75" fill="#008bfb"/>
<circle cx="376.9" cy="330.0" r="2.75" fill="#008bfb"/>
<circle cx="373.4" cy="330.0" r="2.75" fill="#008bfb"/>
<circle cx="373.6" cy="326.5" r="2.75" fill="#008bfb"/>
<circle cx="375.3" cy="333.5" r="2.75" fill="#0086f9"/>
<circle cx="376.6" cy="332.3" r="2.75" fill="#0089fa"/>
<circle cx="373.7" cy="328.2" r="2.75" fill="#0087fa"/>
<circle cx="372.0" cy="330.0" r="2.75" fill="#008bfb"/>
<circle cx="377.0" cy="327.7" r="2.75" fill="#008afb"/>
<circle cx="385.2" cy="332.8" r="2.75" fill="#008bfb"/>
<circle cx="387.2" cy="330.1" r="2.75" fill="#008bfb"/>
<circle cx="383.8" cy="330.0" r="2.75" fill="#008bfb"/>
<circle cx="387.0" cy="330.0" r="2.75" fill="#0087fa"/>
<circle cx="385.2" cy="328.6" r="2.75" fill="#008bfb"/>
<circle cx="383.5" cy="330.1" r="2.75" fill="#008bfb"/>
<circle cx="385.2" cy="330.0" r="2.75" fill="#0088fa"/>
<circle cx="383.9" cy="329.9" r="2.75" fill="#008afb"/>
<circle cx="387.6" cy="329.9" r="2.75" fill="#008bfb"/>
<circle cx="385.4" cy="331.4" r="2.75" fill="#0089fa"/>
<circle cx="385.9" cy="327.2" r="2.75" fill="#0088fa"/>
<circle cx="418.3" cy="330.0" r="2.75" fill="#008bfb"/>
<circle cx="150.2" cy="345.6" r="2.75" fill="#008bfb"/>
<circle cx="152.8" cy="345.4" r="2.75" fill="#008bfb"/>
<circle cx="147.5" cy="345.2" r="2.75" fill="#0085f9"/>
<circle cx="155.5" cy="345.5" r="2.75" fill="#008bfb"/>
<circle cx="163.0" cy="345.4" r="2.75" fill="#008afb"/>
<circle cx="207.0" cy="345.3" r="2.75" fill="#008bfb"/>
<circle cx="185.7" cy="345.7" r="2.75" fill="#2a6bea"/>
<circle cx="199.9" cy="345.5" r="2.75" fill="#585edf"/>
<circle cx="171.5" cy="345.5" r="2.75" fill="#0087fa"/>
<circle cx="181.0" cy="345.3" r="2.75" fill="#008bfb"/>
<circle cx="178.6" cy="345.5" r="2.75" fill="#008bfb"/>
<circle cx="173.9" cy="345.2" r="2.75" fill="#008bfb"/>
<circle cx="190.4" cy="345.3" r="2.75" fill="#008bfb"/>
<circle cx="183.3" cy="345.4" r="2.75" fill="#008bfb"/>
<circle cx="176.2" cy="345.4" r="2.75" fill="#0085f9"/>
<circle cx="192.8" cy="345.3" r="2.75" fill="#0089fa"/>
<circle cx="202.3" cy="345.3" r="2.75" fill="#4066e6"/>
<circle cx="195.2" cy="345.4" r="2.75" fill="#0088fa"/>
<circle cx="188.1" cy="345.5" r="2.75" fill="#3469e8"/>
<circle cx="204.6" cy="345.2" r="2.75" fill="#008bfb"/>
<circle cx="197.5" cy="345.4" r="2.75" fill="#008bfb"/>
<circle cx="219.5" cy="345.6" r="2.75" fill="#008bfb"/>
<circle cx="217.2" cy="345.4" r="2.75" fill="#0089fa"/>
<circle cx="215.5" cy="345.7" r="2.75" fill="#0089fa"/>
<circle cx="217.2" cy="345.2" r="2.75" fill="#008bfb"/>
<circle cx="217.8" cy="345.7" r="2.75" fill="#008bfb"/>
<circle cx="281.9" cy="342.9" r="2.75" fill="#008bfb"/>
<circle cx="282.4" cy="344.2" r="2.75" fill="#008bfb"/>
<circle cx="272.5" cy="345.6" r="2.75" fill="#008bfb"/>
<circle cx="284.5" cy="345.6" r="2.75" fill="#0089fa"/>
<circle cx="279.6" cy="345.4" r="2.75" fill="#008bfb"/>
<circle cx="277.5" cy="347.4" r="2.75" fill="#008afb"/>
<circle cx="282.2" cy="345.4" r="2.75" fill="#008bfb"/>
<circle cx="281.7" cy="348.0" r="2.75" fill="#008bfb"/>
<circle cx="277.0" cy="345.4" r="2.75" fill="#0088fa"/>
<circle cx="279.8" cy="346.8" r="2.75" fill="#008bfb"/>
<circle cx="274.7" cy="345.7" r="2.75" fill="#0089fa"/>
<circle cx="277.0" cy="343.5" r="2.75" fill="#008bfb"/>
<circle cx="280.1" cy="344.0" r="2.75" fill="#0087fa"/>
<circle cx="281.8" cy="346.7" r="2.75" fill="#008bfb"/>
<circle cx="275.2" cy="345.4" r="2.75" fill="#0086f9"/>
<circle cx="274.6" cy="345.1" r="2.75" fill="#0085f9"/>
<circle cx="281.1" cy="344.7" r="2.75" fill="#008bfb"/>
<circle cx="281.7" cy="346.2" r="2.75" fill="#008bfb"/>
<circle cx="277.4" cy="341.8" r="2.75" fill="#008bfb"/>
<circle cx="279.5" cy="341.8" r="2.75" fill="#008bfb"/>
<circle cx="275.4" cy="346.2" r="2.75" fill="#008bfb"/>
<circle cx="277.9" cy="347.3" r="2.75" fill="#0087fa"/>
<circle cx="279.5" cy="345.4" r="2.75" fill="#0087fa"/>
<circle cx="277.5" cy="345.4" r="2.75" fill="#0088fa"/>
<circle cx="279.1" cy="349.1" r="2.75" fill="#008bfb"/>
<circle cx="275.6" cy="345.4" r="2.75" fill="#0088fa"/>
<circle cx="279.5" cy="347.3" r="2.75" fill="#008bfb"/>
<circle cx="281.2" cy="345.4" r="2.75" fill="#008bfb"/>
<circle cx="276.0" cy="344.7" r="2.75" fill="#008bfb"/>
<circle cx="277.7" cy="343.6" r="2.75" fill="#008bfb"/>
<circle cx="279.8" cy="343.6" r="2.75" fill="#008bfb"/>
<circle cx="277.2" cy="349.1" r="2.75" fill="#008afb"/>
<circle cx="286.5" cy="345.4" r="2.75" fill="#a71ba9"/>
<circle cx="296.6" cy="345.4" r="2.75" fill="#0085f9"/>
<circle cx="300.8" cy="345.4" r="2.75" fill="#0086f9"/>
<circle cx="302.9" cy="345.4" r="2.75" fill="#0088fa"/>
<circle cx="302.8" cy="345.2" r="2.75" fill="#008afb"/>
<circle cx="296.9" cy="345.7" r="2.75" fill="#008bfb"/>
<circle cx="294.9" cy="345.2" r="2.75" fill="#008bfb"/>
<circle cx="300.8" cy="345.7" r="2.75" fill="#008bfb"/>
<circle cx="296.9" cy="345.1" r="2.75" fill="#008bfb"/>
<circle cx="302.8" cy="345.7" r="2.75" fill="#0087fa"/>
<circle cx="292.5" cy="345.4" r="2.75" fill="#0088fa"/>
<circle cx="298.5" cy="345.4" r="2.75" fill="#008bfb"/>
<circle cx="299.0" cy="345.7" r="2.75" fill="#0088fa"/>
<circle cx="294.3" cy="345.4" r="2.75" fill="#008bfb"/>
<circle cx="305.2" cy="345.3" r="2.75" fill="#008bfb"/>
<circle cx="298.5" cy="345.1" r="2.75" fill="#0087fa"/>
<circle cx="301.2" cy="345.1" r="2.75" fill="#0085f9"/>
<circle cx="294.8" cy="345.7" r="2.75" fill="#008bfb"/>
<circle cx="311.7" cy="345.4" r="2.75" fill="#4b63e3"/>
<circle cx="325.2" cy="345.4" r="2.75" fill="#2e6be9"/>
<circle cx="389.6" cy="346.3" r="2.75" fill="#8642c5"/>
<circle cx="394.5" cy="345.7" r="2.75" fill="#a120ab"/>
<circle cx="392.3" cy="345.4" r="2.75" fill="#ad15a6"/>
<circle cx="389.3" cy="345.4" r="2.75" fill="#982bb2"/>
<circle cx="392.1" cy="346.0" r="2.75" fill="#ad14a6"/>
<circle cx="392.2" cy="344.9" r="2.75" fill="#7d4acc"/>
<circle cx="389.2" cy="344.6" r="2.75" fill="#7c4acc"/>
<circle cx="387.0" cy="345.5" r="2.75" fill="#9929b1"/>
<circle cx="403.5" cy="345.7" r="2.75" fill="#ff0059"/>
<circle cx="401.6" cy="343.9" r="2.75" fill="#ff0051"/>
<circle cx="401.3" cy="347.0" r="2.75" fill="#d6008e"/>
<circle cx="399.5" cy="345.3" r="2.75" fill="#ff0059"/>
<circle cx="401.7" cy="345.4" r="2.75" fill="#db008a"/>
<circle cx="408.5" cy="345.2" r="2.75" fill="#ac16a7"/>
<circle cx="414.5" cy="345.2" r="2.75" fill="#ff0058"/>
<circle cx="417.5" cy="345.4" r="2.75" fill="#dd0088"/>
<circle cx="420.5" cy="345.4" r="2.75" fill="#9e22ac"/>
<circle cx="426.0" cy="345.4" r="2.75" fill="#9a26af"/>
<circle cx="430.0" cy="345.4" r="2.75" fill="#ae13a6"/>
<circle cx="433.5" cy="345.4" r="2.75" fill="#a71ba9"/>
<circle cx="444.8" cy="345.6" r="2.75" fill="#ad15a7"/>
<circle cx="446.3" cy="345.2" r="2.75" fill="#a919a8"/>
<circle cx="166.0" cy="360.9" r="2.75" fill="#ab17a7"/>
<circle cx="173.0" cy="360.9" r="2.75" fill="#aa18a8"/>
<circle cx="211.4" cy="360.9" r="2.75" fill="#4e62e2"/>
<circle cx="213.0" cy="358.4" r="2.75" fill="#0086f9"/>
<circle cx="202.3" cy="360.9" r="2.75" fill="#4964e4"/>
<circle cx="204.3" cy="359.7" r="2.75" fill="#595edf"/>
<circle cx="206.6" cy="360.9" r="2.75" fill="#5261e1"/>
<circle cx="201.9" cy="362.1" r="2.75" fill="#3e67e6"/>
<circle cx="202.1" cy="358.4" r="2.75" fill="#4e62e2"/>
<circle cx="213.3" cy="362.1" r="2.75" fill="#008bfb"/>
<circle cx="209.1" cy="362.1" r="2.75" fill="#0086fa"/>
<circle cx="213.3" cy="363.4" r="2.75" fill="#4465e5"/>
<circle cx="217.6" cy="359.3" r="2.75" fill="#0089fa"/>
<circle cx="233.9" cy="362.4" r="2.75" fill="#ad15a6"/>
<circle cx="217.6" cy="360.9" r="2.75" fill="#008bfb"/>
<circle cx="233.4" cy="360.9" r="2.75" fill="#0089fa"/>
<circle cx="202.4" cy="363.3" r="2.75" fill="#3e67e6"/>
<circle cx="226.4" cy="360.9" r="2.75" fill="#008bfb"/>
<circle cx="235.8" cy="360.9" r="2.75" fill="#aa18a8"/>
<circle cx="211.3" cy="359.3" r="2.75" fill="#008bfb"/>
<circle cx="229.2" cy="361.9" r="2.75" fill="#2e6be9"/>
<circle cx="222.1" cy="360.9" r="2.75" fill="#0086f9"/>
<circle cx="238.0" cy="361.1" r="2.75" fill="#a51caa"/>
<circle cx="215.3" cy="359.8" r="2.75" fill="#008bfb"/>
<circle cx="222.7" cy="359.8" r="2.75" fill="#008bfb"/>
<circle cx="209.3" cy="360.9" r="2.75" fill="#316ae9"/>
<circle cx="226.7" cy="359.8" r="2.75" fill="#0086fa"/>
<circle cx="220.0" cy="361.2" r="2.75" fill="#008bfb"/>
<circle cx="233.5" cy="359.3" r="2.75" fill="#008bfb"/>
<circle cx="224.8" cy="362.5" r="2.75" fill="#008afb"/>
<circle cx="235.4" cy="362.5" r="2.75" fill="#a61ba9"/>
<circle cx="236.1" cy="359.2" r="2.75" fill="#ab17a7"/>
<circle cx="226.8" cy="363.0" r="2.75" fill="#008bfb"/>
<circle cx="226.6" cy="358.7" r="2.75" fill="#2b6bea"/>
<circle cx="206.9" cy="361.9" r="2.75" fill="#008bfb"/>
<circle cx="215.3" cy="362.0" r="2.75" fill="#4f62e2"/>
<circle cx="229.2" cy="359.9" r="2.75" fill="#008bfb"/>
<circle cx="231.3" cy="361.8" r="2.75" fill="#0087fa"/>
<circle cx="222.7" cy="363.0" r="2.75" fill="#0087fa"/>
<circle cx="224.4" cy="359.3" r="2.75" fill="#008bfb"/>
<circle cx="209.2" cy="359.7" r="2.75" fill="#008bfb"/>
<circle cx="231.4" cy="360.9" r="2.75" fill="#008bfb"/>
<circle cx="211.0" cy="362.4" r="2.75" fill="#008afb"/>
<circle cx="200.0" cy="360.9" r="2.75" fill="#4e62e2"/>
<circle cx="204.8" cy="362.0" r="2.75" fill="#3b68e7"/>
<circle cx="219.9" cy="360.9" r="2.75" fill="#0089fa"/>
<circle cx="213.3" cy="360.9" r="2.75" fill="#008bfb"/>
<circle cx="202.1" cy="359.7" r="2.75" fill="#5a5ede"/>
<circle cx="220.4" cy="360.5" r="2.75" fill="#0086fa"/>
<circle cx="225.0" cy="360.9" r="2.75" fill="#565fe0"/>
<circle cx="229.4" cy="360.9" r="2.75" fill="#008bfb"/>
<circle cx="207.0" cy="359.9" r="2.75" fill="#4a64e3"/>
<circle cx="222.3" cy="358.7" r="2.75" fill="#0087fa"/>
<circle cx="231.6" cy="360.0" r="2.75" fill="#0087fa"/>
<circle cx="213.7" cy="359.6" r="2.75" fill="#4f62e2"/>
<circle cx="217.8" cy="362.5" r="2.75" fill="#0086f9"/>
<circle cx="215.9" cy="360.9" r="2.75" fill="#008bfb"/>
<circle cx="222.7" cy="361.9" r="2.75" fill="#008bfb"/>
<circle cx="204.4" cy="360.9" r="2.75" fill="#4f62e2"/>
<circle cx="226.5" cy="362.0" r="2.75" fill="#0088fa"/>
<circle cx="208.6" cy="360.9" r="2.75" fill="#5560e0"/>
<circle cx="206.4" cy="360.9" r="2.75" fill="#4d63e3"/>
<circle cx="208.1" cy="361.2" r="2.75" fill="#4964e4"/>
<circle cx="206.7" cy="357.6" r="2.75" fill="#4066e6"/>
<circle cx="204.3" cy="360.6" r="2.75" fill="#4964e4"/>
<circle cx="206.4" cy="364.2" r="2.75" fill="#3968e7"/>
<circle cx="204.5" cy="360.9" r="2.75" fill="#5460e0"/>
<circle cx="204.9" cy="361.2" r="2.75" fill="#5261e1"/>
<circle cx="206.8" cy="359.2" r="2.75" fill="#5460e0"/>
<circle cx="206.5" cy="362.5" r="2.75" fill="#316ae9"/>
<circle cx="208.7" cy="360.6" r="2.75" fill="#4d63e3"/>
<circle cx="214.8" cy="357.6" r="2.75" fill="#0089fa"/>
<circle cx="214.6" cy="362.5" r="2.75" fill="#0085f9"/>
<circle cx="212.8" cy="360.6" r="2.75" fill="#0087fa"/>
<circle cx="212.9" cy="361.2" r="2.75" fill="#008bfb"/>
<circle cx="214.8" cy="360.9" r="2.75" fill="#0088fa"/>
<circle cx="216.1" cy="360.6" r="2.75" fill="#008bfb"/>
<circle cx="214.8" cy="364.2" r="2.75" fill="#0087fa"/>
<circle cx="216.6" cy="361.2" r="2.75" fill="#008bfb"/>
<circle cx="212.6" cy="360.9" r="2.75" fill="#008bfb"/>
<circle cx="214.7" cy="359.2" r="2.75" fill="#0089fa"/>
<circle cx="216.6" cy="360.9" r="2.75" fill="#008bfb"/>
<circle cx="227.2" cy="360.9" r="2.75" fill="#008bfb"/>
<circle cx="233.6" cy="360.9" r="2.75" fill="#008afb"/>
<circle cx="231.6" cy="359.0" r="2.75" fill="#008afa"/>
<circle cx="231.3" cy="360.9" r="2.75" fill="#008bfb"/>
<circle cx="233.2" cy="360.2" r="2.75" fill="#0087fa"/>
<circle cx="229.2" cy="364.6" r="2.75" fill="#0085f9"/>
<circle cx="231.3" cy="362.7" r="2.75" fill="#0087fa"/>
<circle cx="229.2" cy="360.9" r="2.75" fill="#0086f9"/>
<circle cx="229.8" cy="362.7" r="2.75" fill="#008bfb"/>
<circle cx="229.8" cy="359.0" r="2.75" fill="#0085f9"/>
<circle cx="231.2" cy="357.2" r="2.75" fill="#008bfb"/>
<circle cx="233.2" cy="361.6" r="2.75" fill="#008bfb"/>
<circle cx="227.6" cy="361.6" r="2.75" fill="#008bfb"/>
<circle cx="231.5" cy="364.6" r="2.75" fill="#008bfb"/>
<circle cx="229.6" cy="357.2" r="2.75" fill="#0089fa"/>
<circle cx="227.4" cy="360.2" r="2.75" fill="#0088fa"/>
<circle cx="252.1" cy="360.7" r="2.75" fill="#a020ab"/>
<circle cx="249.8" cy="360.8" r="2.75" fill="#9a25ae"/>
<circle cx="247.6" cy="360.7" r="2.75" fill="#a71aa9"/>
<circle cx="243.0" cy="360.9" r="2.75" fill="#9a25ae"/>
<circle cx="245.3" cy="360.8" r="2.75" fill="#9c23ad"/>
<circle cx="262.3" cy="360.9" r="2.75" fill="#a41eaa"/>
<circle cx="268.8" cy="360.9" r="2.75" fill="#a71aa9"/>
<circle cx="306.0" cy="360.9" r="2.75" fill="#e10084"/>
<circle cx="383.9" cy="361.6" r="2.75" fill="#d8008d"/>
<circle cx="356.1" cy="360.9" r="2.75" fill="#ff005a"/>
<circle cx="349.1" cy="359.8" r="2.75" fill="#ff0056"/>
<circle cx="361.1" cy="359.7" r="2.75" fill="#e00086"/>
<circle cx="377.2" cy="358.3" r="2.75" fill="#ff0051"/>
<circle cx="372.1" cy="362.7" r="2.75" fill="#d6008e"/>
<circle cx="368.0" cy="362.6" r="2.75" fill="#ff0051"/>
<circle cx="344.9" cy="361.4" r="2.75" fill="#ff0051"/>
<circle cx="342.2" cy="359.7" r="2.75" fill="#ff0051"/>
<circle cx="363.2" cy="363.2" r="2.75" fill="#de0087"/>
<circle cx="379.0" cy="361.7" r="2.75" fill="#ff0051"/>
<circle cx="360.8" cy="362.1" r="2.75" fill="#d20091"/>
<circle cx="340.0" cy="359.4" r="2.75" fill="#ff0051"/>
<circle cx="377.3" cy="359.6" r="2.75" fill="#ff0054"/>
<circle cx="374.9" cy="359.5" r="2.75" fill="#ff0051"/>
<circle cx="379.5" cy="360.1" r="2.75" fill="#ff0053"/>
<circle cx="363.4" cy="360.9" r="2.75" fill="#da008b"/>
<circle cx="349.5" cy="361.9" r="2.75" fill="#e10085"/>
<circle cx="353.8" cy="359.2" r="2.75" fill="#d30090"/>
<circle cx="339.8" cy="362.3" r="2.75" fill="#ff0051"/>
<circle cx="381.9" cy="362.3" r="2.75" fill="#a61ca9"/>
<circle cx="372.4" cy="360.9" r="2.75" fill="#da008b"/>
<circle cx="385.8" cy="359.8" r="2.75" fill="#e10085"/>
<circle cx="358.5" cy="360.0" r="2.75" fill="#d8008d"/>
<circle cx="383.5" cy="360.1" r="2.75" fill="#e00085"/>
<circle cx="351.2" cy="360.9" r="2.75" fill="#a71ba9"/>
<circle cx="358.4" cy="360.9" r="2.75" fill="#ff0051"/>
<circle cx="351.2" cy="363.2" r="2.75" fill="#ff0058"/>
<circle cx="365.3" cy="360.9" r="2.75" fill="#ff0056"/>
<circle cx="386.3" cy="360.9" r="2.75" fill="#9c23ad"/>
<circle cx="369.9" cy="360.5" r="2.75" fill="#ff0051"/>
<circle cx="363.4" cy="358.6" r="2.75" fill="#ff005a"/>
<circle cx="386.3" cy="363.1" r="2.75" fill="#9c23ad"/>
<circle cx="337.9" cy="358.7" r="2.75" fill="#dd0088"/>
<circle cx="365.5" cy="362.4" r="2.75" fill="#ff0051"/>
<circle cx="363.0" cy="359.7" r="2.75" fill="#ff0057"/>
<circle cx="370.2" cy="360.9" r="2.75" fill="#d8008c"/>
<circle cx="383.9" cy="360.9" r="2.75" fill="#dd0089"/>
<circle cx="353.4" cy="360.9" r="2.75" fill="#ff0051"/>
<circle cx="351.4" cy="359.7" r="2.75" fill="#de0088"/>
<circle cx="356.4" cy="362.1" r="2.75" fill="#a919a8"/>
<circle cx="341.9" cy="363.3" r="2.75" fill="#ff0056"/>
<circle cx="369.6" cy="361.2" r="2.75" fill="#d5008f"/>
<circle cx="363.3" cy="362.0" r="2.75" fill="#ff005a"/>
<circle cx="340.0" cy="360.9" r="2.75" fill="#dd0089"/>
<circle cx="337.8" cy="359.8" r="2.75" fill="#d40090"/>
<circle cx="337.2" cy="362.0" r="2.75" fill="#ff0055"/>
<circle cx="377.3" cy="360.9" r="2.75" fill="#e10085"/>
<circle cx="335.3" cy="361.0" r="2.75" fill="#dc0089"/>
<circle cx="376.6" cy="362.2" r="2.75" fill="#ff0051"/>
<circle cx="367.8" cy="360.9" r="2.75" fill="#dc0089"/>
<circle cx="349.0" cy="360.9" r="2.75" fill="#db008a"/>
<circle cx="358.0" cy="361.8" r="2.75" fill="#dd0089"/>
<circle cx="361.0" cy="360.9" r="2.75" fill="#ff0055"/>
<circle cx="355.9" cy="359.6" r="2.75" fill="#9829b1"/>
<circle cx="342.4" cy="358.5" r="2.75" fill="#ff0059"/>
<circle cx="347.1" cy="360.9" r="2.75" fill="#d00093"/>
<circle cx="367.8" cy="359.2" r="2.75" fill="#d7008e"/>
<circle cx="374.4" cy="362.2" r="2.75" fill="#ff0058"/>
<circle cx="346.9" cy="362.3" r="2.75" fill="#ff0058"/>
<circle cx="346.8" cy="359.5" r="2.75" fill="#d9008c"/>
<circle cx="386.0" cy="362.0" r="2.75" fill="#e10084"/>
<circle cx="337.4" cy="363.0" r="2.75" fill="#dd0089"/>
<circle cx="381.4" cy="359.5" r="2.75" fill="#ff0055"/>
<circle cx="353.8" cy="362.5" r="2.75" fill="#ff0051"/>
<circle cx="381.8" cy="360.9" r="2.75" fill="#ff0057"/>
<circle cx="342.5" cy="362.1" r="2.75" fill="#ff0058"/>
<circle cx="365.7" cy="359.3" r="2.75" fill="#ff0055"/>
<circle cx="379.0" cy="360.9" r="2.75" fill="#ff0053"/>
<circle cx="342.5" cy="360.9" r="2.75" fill="#ff0051"/>
<circle cx="344.4" cy="360.3" r="2.75" fill="#ff0052"/>
<circle cx="372.5" cy="359.0" r="2.75" fill="#ff0051"/>
<circle cx="386.3" cy="358.6" r="2.75" fill="#d20091"/>
<circle cx="344.5" cy="360.9" r="2.75" fill="#e10085"/>
<circle cx="388.5" cy="360.9" r="2.75" fill="#9e22ac"/>
<circle cx="374.6" cy="360.9" r="2.75" fill="#ff0051"/>
<circle cx="376.5" cy="363.5" r="2.75" fill="#ff005a"/>
<circle cx="351.7" cy="358.5" r="2.75" fill="#ff0051"/>
<circle cx="337.5" cy="360.9" r="2.75" fill="#d40090"/>
<circle cx="351.2" cy="362.1" r="2.75" fill="#ab17a7"/>
<circle cx="375.8" cy="362.7" r="2.75" fill="#ff0051"/>
<circle cx="375.5" cy="357.2" r="2.75" fill="#ff0052"/>
<circle cx="375.1" cy="360.9" r="2.75" fill="#ff0051"/>
<circle cx="373.4" cy="364.6" r="2.75" fill="#d10092"/>
<circle cx="375.1" cy="359.0" r="2.75" fill="#ff0051"/>
<circle cx="371.7" cy="360.9" r="2.75" fill="#df0086"/>
<circle cx="373.3" cy="360.9" r="2.75" fill="#d5008f"/>
<circle cx="377.3" cy="360.9" r="2.75" fill="#ff005a"/>
<circle cx="371.7" cy="360.2" r="2.75" fill="#d8008c"/>
<circle cx="373.5" cy="362.7" r="2.75" fill="#d20091"/>
<circle cx="373.4" cy="359.0" r="2.75" fill="#d9008c"/>
<circle cx="371.3" cy="361.6" r="2.75" fill="#dd0088"/>
<circle cx="375.4" cy="364.6" r="2.75" fill="#ff0058"/>
<circle cx="377.4" cy="361.6" r="2.75" fill="#ff0058"/>
<circle cx="377.1" cy="360.2" r="2.75" fill="#ff0051"/>
<circle cx="373.3" cy="357.2" r="2.75" fill="#d30090"/>
<circle cx="396.0" cy="360.9" r="2.75" fill="#d5008f"/>
<circle cx="420.8" cy="360.8" r="2.75" fill="#a11fab"/>
<circle cx="424.5" cy="360.6" r="2.75" fill="#e10085"/>
<circle cx="422.6" cy="360.7" r="2.75" fill="#da008b"/>
<circle cx="161.5" cy="376.5" r="2.75" fill="#008bfb"/>
<circle cx="168.9" cy="376.6" r="2.75" fill="#008bfb"/>
<circle cx="159.0" cy="376.2" r="2.75" fill="#0087fa"/>
<circle cx="166.4" cy="376.5" r="2.75" fill="#008bfb"/>
<circle cx="156.5" cy="376.1" r="2.75" fill="#008bfb"/>
<circle cx="163.9" cy="376.4" r="2.75" fill="#008bfb"/>
<circle cx="168.4" cy="376.3" r="2.75" fill="#0089fa"/>
<circle cx="166.5" cy="374.5" r="2.75" fill="#008bfb"/>
<circle cx="166.2" cy="378.1" r="2.75" fill="#008bfb"/>
<circle cx="164.6" cy="376.6" r="2.75" fill="#0085f9"/>
<circle cx="166.7" cy="376.3" r="2.75" fill="#008bfb"/>
<circle cx="181.5" cy="376.0" r="2.75" fill="#dc0089"/>
<circle cx="176.0" cy="376.1" r="2.75" fill="#ff0057"/>
<circle cx="179.1" cy="376.3" r="2.75" fill="#ff0051"/>
<circle cx="178.9" cy="376.5" r="2.75" fill="#e10085"/>
<circle cx="178.9" cy="376.1" r="2.75" fill="#de0088"/>
<circle cx="188.5" cy="376.2" r="2.75" fill="#4e62e2"/>
<circle cx="186.5" cy="376.5" r="2.75" fill="#266cea"/>
<circle cx="198.8" cy="377.4" r="2.75" fill="#008bfb"/>
<circle cx="199.3" cy="376.3" r="2.75" fill="#008bfb"/>
<circle cx="197.1" cy="376.3" r="2.75" fill="#008bfb"/>
<circle cx="199.2" cy="374.1" r="2.75" fill="#008bfb"/>
<circle cx="200.9" cy="376.5" r="2.75" fill="#008bfb"/>
<circle cx="199.4" cy="378.5" r="2.75" fill="#008bfb"/>
<circle cx="199.0" cy="375.2" r="2.75" fill="#0087fa"/>
<circle cx="210.9" cy="375.0" r="2.75" fill="#0085f9"/>
<circle cx="212.9" cy="375.7" r="2.75" fill="#008bfb"/>
<circle cx="222.1" cy="377.3" r="2.75" fill="#595edf"/>
<circle cx="201.6" cy="377.6" r="2.75" fill="#008afb"/>
<circle cx="211.3" cy="376.3" r="2.75" fill="#008bfb"/>
<circle cx="225.0" cy="375.6" r="2.75" fill="#2f6ae9"/>
<circle cx="212.9" cy="376.9" r="2.75" fill="#0088fa"/>
<circle cx="219.8" cy="375.9" r="2.75" fill="#3e67e6"/>
<circle cx="197.1" cy="376.5" r="2.75" fill="#0088fa"/>
<circle cx="218.2" cy="376.3" r="2.75" fill="#008bfb"/>
<circle cx="218.2" cy="376.3" r="2.75" fill="#008bfb"/>
<circle cx="199.2" cy="376.9" r="2.75" fill="#008bfb"/>
<circle cx="215.8" cy="376.3" r="2.75" fill="#0085f9"/>
<circle cx="206.0" cy="376.9" r="2.75" fill="#0089fa"/>
<circle cx="206.1" cy="376.3" r="2.75" fill="#0086fa"/>
<circle cx="199.5" cy="375.7" r="2.75" fill="#008bfb"/>
<circle cx="199.2" cy="376.3" r="2.75" fill="#008afb"/>
<circle cx="227.0" cy="376.4" r="2.75" fill="#565fe0"/>
<circle cx="211.2" cy="377.6" r="2.75" fill="#0089fa"/>
<circle cx="208.7" cy="376.2" r="2.75" fill="#0089fa"/>
<circle cx="208.3" cy="376.4" r="2.75" fill="#008bfb"/>
<circle cx="204.0" cy="376.4" r="2.75" fill="#008bfb"/>
<circle cx="215.2" cy="375.7" r="2.75" fill="#008bfb"/>
<circle cx="222.1" cy="375.3" r="2.75" fill="#4764e4"/>
<circle cx="215.3" cy="376.9" r="2.75" fill="#008bfb"/>
<circle cx="201.3" cy="376.3" r="2.75" fill="#0088fa"/>
<circle cx="224.5" cy="377.1" r="2.75" fill="#3b68e7"/>
<circle cx="222.7" cy="376.3" r="2.75" fill="#5360e1"/>
<circle cx="206.4" cy="375.8" r="2.75" fill="#0088fa"/>
<circle cx="220.5" cy="376.7" r="2.75" fill="#4d62e3"/>
<circle cx="213.5" cy="376.3" r="2.75" fill="#0088fa"/>
<circle cx="201.5" cy="375.1" r="2.75" fill="#008bfb"/>
<circle cx="220.4" cy="376.3" r="2.75" fill="#2e6be9"/>
<circle cx="208.6" cy="376.3" r="2.75" fill="#0089fa"/>
<circle cx="224.8" cy="376.3" r="2.75" fill="#3a68e7"/>
<circle cx="217.9" cy="376.3" r="2.75" fill="#008afb"/>
<circle cx="240.4" cy="375.6" r="2.75" fill="#008bfb"/>
<circle cx="238.0" cy="376.3" r="2.75" fill="#ff0051"/>
<circle cx="233.9" cy="378.2" r="2.75" fill="#d40090"/>
<circle cx="231.5" cy="376.1" r="2.75" fill="#ff0051"/>
<circle cx="240.5" cy="376.3" r="2.75" fill="#0087fa"/>
<circle cx="235.7" cy="377.7" r="2.75" fill="#d20091"/>
<circle cx="242.6" cy="374.9" r="2.75" fill="#db008a"/>
<circle cx="238.4" cy="373.7" r="2.75" fill="#ff0057"/>
<circle cx="245.2" cy="375.6" r="2.75" fill="#ff0051"/>
<circle cx="238.6" cy="377.6" r="2.75" fill="#ff0051"/>
<circle cx="245.0" cy="376.3" r="2.75" fill="#ff0051"/>
<circle cx="240.3" cy="377.1" r="2.75" fill="#008bfb"/>
<circle cx="243.3" cy="376.3" r="2.75" fill="#d20091"/>
<circle cx="236.3" cy="374.9" r="2.75" fill="#4d63e3"/>
<circle cx="238.5" cy="378.9" r="2.75" fill="#ff0051"/>
<circle cx="233.9" cy="374.4" r="2.75" fill="#d30091"/>
<circle cx="242.9" cy="377.7" r="2.75" fill="#d40090"/>
<circle cx="247.5" cy="376.2" r="2.75" fill="#a41daa"/>
<circle cx="245.5" cy="377.1" r="2.75" fill="#9928b0"/>
<circle cx="236.0" cy="376.3" r="2.75" fill="#dc008a"/>
<circle cx="238.5" cy="375.0" r="2.75" fill="#008bfb"/>
<circle cx="233.7" cy="376.3" r="2.75" fill="#d5008f"/>
<circle cx="258.0" cy="376.3" r="2.75" fill="#a020ac"/>
<circle cx="272.0" cy="376.3" r="2.75" fill="#a31eaa"/>
<circle cx="288.2" cy="376.2" r="2.75" fill="#0085f9"/>
<circle cx="283.6" cy="376.5" r="2.75" fill="#0085f9"/>
<circle cx="279.0" cy="376.5" r="2.75" fill="#0086f9"/>
<circle cx="281.3" cy="376.0" r="2.75" fill="#008bfb"/>
<circle cx="285.9" cy="376.2" r="2.75" fill="#008bfb"/>
<circle cx="290.5" cy="376.4" r="2.75" fill="#008bfb"/>
<circle cx="303.4" cy="376.3" r="2.75" fill="#008bfb"/>
<circle cx="312.5" cy="376.4" r="2.75" fill="#008bfb"/>
<circle cx="316.5" cy="376.4" r="2.75" fill="#4a63e3"/>
<circle cx="314.5" cy="376.4" r="2.75" fill="#008bfb"/>
<circle cx="318.5" cy="376.5" r="2.75" fill="#296cea"/>
<circle cx="342.9" cy="376.3" r="2.75" fill="#5261e1"/>
<circle cx="370.5" cy="376.9" r="2.75" fill="#0087fa"/>
<circle cx="340.8" cy="376.3" r="2.75" fill="#595ede"/>
<circle cx="361.7" cy="377.2" r="2.75" fill="#0086f9"/>
<circle cx="352.2" cy="376.3" r="2.75" fill="#7e48cb"/>
<circle cx="352.0" cy="376.9" r="2.75" fill="#7e49cb"/>
<circle cx="340.3" cy="375.8" r="2.75" fill="#5061e2"/>
<circle cx="354.2" cy="376.3" r="2.75" fill="#5460e0"/>
<circle cx="368.9" cy="376.3" r="2.75" fill="#0088fa"/>
<circle cx="368.4" cy="377.3" r="2.75" fill="#008bfb"/>
<circle cx="333.3" cy="376.3" r="2.75" fill="#2a6bea"/>
<circle cx="366.2" cy="376.2" r="2.75" fill="#008bfb"/>
<circle cx="359.2" cy="377.9" r="2.75" fill="#0086fa"/>
<circle cx="354.4" cy="377.0" r="2.75" fill="#575fe0"/>
<circle cx="335.8" cy="376.3" r="2.75" fill="#276cea"/>
<circle cx="338.4" cy="377.9" r="2.75" fill="#3e67e6"/>
<circle cx="338.2" cy="374.8" r="2.75" fill="#4b63e3"/>
<circle cx="338.1" cy="376.3" r="2.75" fill="#4565e5"/>
<circle cx="333.6" cy="377.4" r="2.75" fill="#296bea"/>
<circle cx="336.0" cy="375.5" r="2.75" fill="#5560e0"/>
<circle cx="331.1" cy="376.1" r="2.75" fill="#4c63e3"/>
<circle cx="358.9" cy="374.8" r="2.75" fill="#3b68e7"/>
<circle cx="357.0" cy="376.1" r="2.75" fill="#4465e5"/>
<circle cx="356.5" cy="376.3" r="2.75" fill="#3f67e6"/>
<circle cx="351.8" cy="375.7" r="2.75" fill="#8245c8"/>
<circle cx="364.1" cy="375.0" r="2.75" fill="#0086fa"/>
<circle cx="356.8" cy="376.5" r="2.75" fill="#4964e4"/>
<circle cx="340.7" cy="376.9" r="2.75" fill="#3b68e7"/>
<circle cx="347.3" cy="376.3" r="2.75" fill="#3d67e7"/>
<circle cx="354.6" cy="375.7" r="2.75" fill="#8641c4"/>
<circle cx="371.0" cy="375.7" r="2.75" fill="#0088fa"/>
<circle cx="363.5" cy="376.3" r="2.75" fill="#008bfb"/>
<circle cx="335.5" cy="377.2" r="2.75" fill="#575fdf"/>
<circle cx="344.9" cy="376.3" r="2.75" fill="#4a64e3"/>
<circle cx="349.5" cy="376.3" r="2.75" fill="#8a3ec1"/>
<circle cx="350.0" cy="377.7" r="2.75" fill="#8740c3"/>
<circle cx="371.0" cy="376.3" r="2.75" fill="#008bfb"/>
<circle cx="361.7" cy="376.3" r="2.75" fill="#4266e5"/>
<circle cx="344.9" cy="376.9" r="2.75" fill="#256cea"/>
<circle cx="349.8" cy="374.9" r="2.75" fill="#893fc2"/>
<circle cx="345.3" cy="375.8" r="2.75" fill="#3669e8"/>
<circle cx="363.7" cy="377.6" r="2.75" fill="#3569e8"/>
<circle cx="373.2" cy="376.0" r="2.75" fill="#008afb"/>
<circle cx="347.6" cy="375.2" r="2.75" fill="#883fc3"/>
<circle cx="368.5" cy="375.3" r="2.75" fill="#0089fa"/>
<circle cx="333.4" cy="375.3" r="2.75" fill="#5560e0"/>
<circle cx="361.6" cy="375.5" r="2.75" fill="#4c63e3"/>
<circle cx="343.0" cy="376.8" r="2.75" fill="#4864e4"/>
<circle cx="328.8" cy="376.3" r="2.75" fill="#4366e5"/>
<circle cx="347.8" cy="377.4" r="2.75" fill="#4864e4"/>
<circle cx="359.5" cy="376.3" r="2.75" fill="#266cea"/>
<circle cx="342.8" cy="375.9" r="2.75" fill="#2f6ae9"/>
<circle cx="359.8" cy="373.6" r="2.75" fill="#883fc3"/>
<circle cx="356.3" cy="373.6" r="2.75" fill="#8047c9"/>
<circle cx="354.4" cy="376.8" r="2.75" fill="#764fd1"/>
<circle cx="356.5" cy="377.7" r="2.75" fill="#8245c8"/>
<circle cx="356.4" cy="379.0" r="2.75" fill="#8642c5"/>
<circle cx="361.4" cy="375.8" r="2.75" fill="#7d49cc"/>
<circle cx="358.2" cy="378.2" r="2.75" fill="#8146c9"/>
<circle cx="360.1" cy="379.0" r="2.75" fill="#794ccf"/>
<circle cx="359.4" cy="375.0" r="2.75" fill="#794cce"/>
<circle cx="359.6" cy="376.3" r="2.75" fill="#7d49cc"/>
<circle cx="357.9" cy="374.4" r="2.75" fill="#7f48ca"/>
<circle cx="354.3" cy="376.3" r="2.75" fill="#7e49cb"/>
<circle cx="357.6" cy="372.5" r="2.75" fill="#744fd1"/>
<circle cx="358.4" cy="376.3" r="2.75" fill="#7251d3"/>
<circle cx="361.8" cy="376.3" r="2.75" fill="#7b4bcd"/>
<circle cx="361.4" cy="376.8" r="2.75" fill="#8444c7"/>
<circle cx="356.0" cy="376.3" r="2.75" fill="#8443c6"/>
<circle cx="357.7" cy="380.1" r="2.75" fill="#784dcf"/>
<circle cx="356.5" cy="375.0" r="2.75" fill="#794dcf"/>
<circle cx="355.0" cy="375.8" r="2.75" fill="#7f48ca"/>
<circle cx="359.6" cy="377.7" r="2.75" fill="#774ed0"/>
<circle cx="107.0" cy="391.8" r="2.75" fill="#0089fa"/>
<circle cx="118.0" cy="391.8" r="2.75" fill="#0086f9"/>
<circle cx="140.8" cy="391.8" r="2.75" fill="#008bfb"/>
<circle cx="151.3" cy="391.8" r="2.75" fill="#008afb"/>
<circle cx="161.8" cy="391.9" r="2.75" fill="#0086f9"/>
<circle cx="164.2" cy="391.9" r="2.75" fill="#008afb"/>
<circle cx="168.8" cy="391.6" r="2.75" fill="#008bfb"/>
<circle cx="171.2" cy="392.0" r="2.75" fill="#008bfb"/>
<circle cx="173.5" cy="392.0" r="2.75" fill="#008bfb"/>
<circle cx="166.5" cy="391.9" r="2.75" fill="#008bfb"/>
<circle cx="159.5" cy="391.9" r="2.75" fill="#008afb"/>
<circle cx="170.6" cy="391.7" r="2.75" fill="#008bfb"/>
<circle cx="174.4" cy="392.0" r="2.75" fill="#008bfb"/>
<circle cx="172.7" cy="390.0" r="2.75" fill="#008bfb"/>
<circle cx="172.3" cy="393.6" r="2.75" fill="#008bfb"/>
<circle cx="172.9" cy="391.8" r="2.75" fill="#008bfb"/>
<circle cx="190.2" cy="391.8" r="2.75" fill="#4565e5"/>
<circle cx="178.5" cy="391.8" r="2.75" fill="#3669e8"/>
<circle cx="183.2" cy="391.7" r="2.75" fill="#3d67e6"/>
<circle cx="192.5" cy="392.0" r="2.75" fill="#3f67e6"/>
<circle cx="180.8" cy="391.6" r="2.75" fill="#2a6bea"/>
<circle cx="187.8" cy="392.0" r="2.75" fill="#2d6be9"/>
<circle cx="185.5" cy="391.7" r="2.75" fill="#5062e2"/>
<circle cx="203.0" cy="392.7" r="2.75" fill="#4d62e2"/>
<circle cx="200.1" cy="392.1" r="2.75" fill="#008bfb"/>
<circle cx="205.2" cy="391.8" r="2.75" fill="#3c68e7"/>
<circle cx="200.2" cy="391.4" r="2.75" fill="#4964e4"/>
<circle cx="197.5" cy="391.7" r="2.75" fill="#008bfb"/>
<circle cx="202.5" cy="391.8" r="2.75" fill="#5361e1"/>
<circle cx="202.9" cy="390.8" r="2.75" fill="#316ae9"/>
<circle cx="200.4" cy="391.8" r="2.75" fill="#4864e4"/>
<circle cx="230.1" cy="391.7" r="2.75" fill="#2e6be9"/>
<circle cx="215.9" cy="391.6" r="2.75" fill="#3869e8"/>
<circle cx="220.6" cy="392.0" r="2.75" fill="#4a63e3"/>
<circle cx="227.8" cy="391.9" r="2.75" fill="#4864e4"/>
<circle cx="225.4" cy="391.8" r="2.75" fill="#5560e0"/>
<circle cx="223.0" cy="392.0" r="2.75" fill="#266cea"/>
<circle cx="218.2" cy="391.5" r="2.75" fill="#5361e1"/>
<circle cx="213.5" cy="391.9" r="2.75" fill="#2a6bea"/>
<circle cx="232.5" cy="391.6" r="2.75" fill="#5360e1"/>
<circle cx="229.1" cy="390.0" r="2.75" fill="#3569e8"/>
<circle cx="229.8" cy="391.8" r="2.75" fill="#5062e2"/>
<circle cx="231.4" cy="391.8" r="2.75" fill="#306ae9"/>
<circle cx="227.6" cy="391.8" r="2.75" fill="#3b68e7"/>
<circle cx="229.3" cy="393.6" r="2.75" fill="#3569e8"/>
<circle cx="239.4" cy="391.8" r="2.75" fill="#008bfb"/>
<circle cx="249.2" cy="391.8" r="2.75" fill="#2f6be9"/>
<circle cx="272.0" cy="391.8" r="2.75" fill="#595edf"/>
<circle cx="276.5" cy="391.8" r="2.75" fill="#575fdf"/>
<circle cx="299.5" cy="390.4" r="2.75" fill="#da008b"/>
<circle cx="301.0" cy="390.4" r="2.75" fill="#d30091"/>
<circle cx="299.4" cy="391.8" r="2.75" fill="#d10092"/>
<circle cx="295.1" cy="392.5" r="2.75" fill="#de0087"/>
<circle cx="302.6" cy="391.8" r="2.75" fill="#da008b"/>
<circle cx="296.9" cy="393.1" r="2.75" fill="#d9008c"/>
<circle cx="297.0" cy="389.0" r="2.75" fill="#dd0089"/>
<circle cx="299.4" cy="389.1" r="2.75" fill="#d30091"/>
<circle cx="302.7" cy="391.0" r="2.75" fill="#dc0089"/>
<circle cx="301.2" cy="393.1" r="2.75" fill="#d9008c"/>
<circle cx="301.3" cy="389.0" r="2.75" fill="#e10085"/>
<circle cx="303.2" cy="392.5" r="2.75" fill="#dd0089"/>
<circle cx="298.4" cy="389.1" r="2.75" fill="#e10085"/>
<circle cx="301.7" cy="394.5" r="2.75" fill="#df0086"/>
<circle cx="301.1" cy="391.8" r="2.75" fill="#d7008e"/>
<circle cx="294.8" cy="391.8" r="2.75" fill="#dd0088"/>
<circle cx="298.3" cy="391.8" r="2.75" fill="#d40090"/>
<circle cx="296.9" cy="390.4" r="2.75" fill="#d7008d"/>
<circle cx="299.6" cy="393.1" r="2.75" fill="#dc0089"/>
<circle cx="299.9" cy="394.4" r="2.75" fill="#d6008e"/>
<circle cx="296.4" cy="391.8" r="2.75" fill="#d9008c"/>
<circle cx="299.5" cy="395.8" r="2.75" fill="#db008a"/>
<circle cx="294.8" cy="391.0" r="2.75" fill="#e20084"/>
<circle cx="299.6" cy="387.7" r="2.75" fill="#d30090"/>
<circle cx="296.3" cy="394.5" r="2.75" fill="#e00086"/>
<circle cx="297.9" cy="395.8" r="2.75" fill="#d40090"/>
<circle cx="298.2" cy="387.7" r="2.75" fill="#e20084"/>
<circle cx="298.0" cy="394.4" r="2.75" fill="#d40090"/>
<circle cx="298.4" cy="393.1" r="2.75" fill="#dc0089"/>
<circle cx="298.2" cy="390.4" r="2.75" fill="#db008a"/>
<circle cx="306.1" cy="392.8" r="2.75" fill="#ff0051"/>
<circle cx="306.1" cy="390.7" r="2.75" fill="#ff0051"/>
<circle cx="303.5" cy="391.5" r="2.75" fill="#ff0051"/>
<circle cx="305.9" cy="391.8" r="2.75" fill="#ff0051"/>
<circle cx="308.5" cy="391.8" r="2.75" fill="#ff0051"/>
<circle cx="314.7" cy="391.2" r="2.75" fill="#aa18a8"/>
<circle cx="314.4" cy="391.8" r="2.75" fill="#9d23ad"/>
<circle cx="324.1" cy="391.8" r="2.75" fill="#a51daa"/>
<circle cx="312.5" cy="391.5" r="2.75" fill="#ac16a7"/>
<circle cx="314.7" cy="392.3" r="2.75" fill="#a81aa8"/>
<circle cx="324.0" cy="391.8" r="2.75" fill="#ad14a6"/>
<circle cx="328.1" cy="392.5" r="2.75" fill="#9e22ac"/>
<circle cx="327.9" cy="391.1" r="2.75" fill="#ab17a7"/>
<circle cx="317.0" cy="391.8" r="2.75" fill="#ab17a7"/>
<circle cx="318.9" cy="390.6" r="2.75" fill="#9c23ad"/>
<circle cx="316.8" cy="390.1" r="2.75" fill="#a21fab"/>
<circle cx="321.4" cy="390.2" r="2.75" fill="#a120ab"/>
<circle cx="328.5" cy="391.8" r="2.75" fill="#982bb2"/>
<circle cx="319.0" cy="392.9" r="2.75" fill="#9929b1"/>
<circle cx="321.6" cy="393.3" r="2.75" fill="#aa18a8"/>
<circle cx="323.7" cy="391.7" r="2.75" fill="#ac16a7"/>
<circle cx="326.0" cy="391.8" r="2.75" fill="#9b25ae"/>
<circle cx="325.9" cy="392.9" r="2.75" fill="#a51daa"/>
<circle cx="325.7" cy="390.6" r="2.75" fill="#ac16a7"/>
<circle cx="317.2" cy="393.4" r="2.75" fill="#9929b1"/>
<circle cx="321.8" cy="391.8" r="2.75" fill="#9c23ad"/>
<circle cx="330.5" cy="391.5" r="2.75" fill="#ab17a7"/>
<circle cx="319.3" cy="391.8" r="2.75" fill="#a51daa"/>
<circle cx="329.9" cy="395.9" r="2.75" fill="#a41eaa"/>
<circle cx="327.8" cy="395.9" r="2.75" fill="#a021ac"/>
<circle cx="329.3" cy="389.0" r="2.75" fill="#9a26af"/>
<circle cx="325.8" cy="392.7" r="2.75" fill="#9a27b0"/>
<circle cx="325.7" cy="391.8" r="2.75" fill="#a11fab"/>
<circle cx="327.8" cy="389.0" r="2.75" fill="#a21fab"/>
<circle cx="331.5" cy="392.7" r="2.75" fill="#9c23ad"/>
<circle cx="327.3" cy="394.5" r="2.75" fill="#9f21ac"/>
<circle cx="327.9" cy="393.1" r="2.75" fill="#a41eaa"/>
<circle cx="331.1" cy="390.8" r="2.75" fill="#a919a8"/>
<circle cx="331.3" cy="391.8" r="2.75" fill="#a41daa"/>
<circle cx="326.0" cy="390.8" r="2.75" fill="#9a26af"/>
<circle cx="329.2" cy="387.6" r="2.75" fill="#ac16a7"/>
<circle cx="327.3" cy="390.4" r="2.75" fill="#9f21ac"/>
<circle cx="329.1" cy="390.4" r="2.75" fill="#ae14a6"/>
<circle cx="329.3" cy="394.5" r="2.75" fill="#ae13a6"/>
<circle cx="329.2" cy="391.8" r="2.75" fill="#9a27af"/>
<circle cx="327.6" cy="387.6" r="2.75" fill="#a41daa"/>
<circle cx="327.3" cy="391.8" r="2.75" fill="#ae13a6"/>
<circle cx="329.9" cy="393.1" r="2.75" fill="#9f21ac"/>
<circle cx="345.9" cy="393.7" r="2.75" fill="#9c23ad"/>
<circle cx="343.1" cy="391.1" r="2.75" fill="#ae13a6"/>
<circle cx="355.5" cy="392.0" r="2.75" fill="#9929b1"/>
<circle cx="343.5" cy="392.5" r="2.75" fill="#9c23ad"/>
<circle cx="353.2" cy="391.8" r="2.75" fill="#ac16a7"/>
<circle cx="350.8" cy="392.8" r="2.75" fill="#a71ba9"/>
<circle cx="343.2" cy="391.8" r="2.75" fill="#a21fab"/>
<circle cx="348.6" cy="391.8" r="2.75" fill="#9e22ac"/>
<circle cx="348.3" cy="392.5" r="2.75" fill="#a81aa9"/>
<circle cx="348.1" cy="391.0" r="2.75" fill="#a31eaa"/>
<circle cx="353.0" cy="391.6" r="2.75" fill="#9a26af"/>
<circle cx="350.9" cy="391.8" r="2.75" fill="#a41daa"/>
<circle cx="340.8" cy="390.8" r="2.75" fill="#af13a6"/>
<circle cx="346.1" cy="391.8" r="2.75" fill="#ad15a7"/>
<circle cx="340.7" cy="392.7" r="2.75" fill="#9b24ae"/>
<circle cx="338.5" cy="391.8" r="2.75" fill="#9b25ae"/>
<circle cx="350.7" cy="390.7" r="2.75" fill="#9928b0"/>
<circle cx="340.6" cy="391.8" r="2.75" fill="#a41daa"/>
<circle cx="352.9" cy="391.9" r="2.75" fill="#a81aa8"/>
<circle cx="345.8" cy="389.8" r="2.75" fill="#ae14a6"/>
<circle cx="363.4" cy="391.8" r="2.75" fill="#a71ba9"/>
<circle cx="369.0" cy="391.8" r="2.75" fill="#9f21ac"/>
<circle cx="180.5" cy="407.2" r="2.75" fill="#5a5ede"/>
<circle cx="221.3" cy="408.4" r="2.75" fill="#d40090"/>
<circle cx="212.0" cy="407.2" r="2.75" fill="#008bfb"/>
<circle cx="210.0" cy="409.3" r="2.75" fill="#008afb"/>
<circle cx="203.2" cy="407.2" r="2.75" fill="#ff0052"/>
<circle cx="195.8" cy="409.2" r="2.75" fill="#008bfb"/>
<circle cx="218.8" cy="407.2" r="2.75" fill="#e00085"/>
<circle cx="218.9" cy="410.7" r="2.75" fill="#4d63e3"/>
<circle cx="212.1" cy="405.9" r="2.75" fill="#ff0055"/>
<circle cx="203.0" cy="408.6" r="2.75" fill="#ff0058"/>
<circle cx="205.1" cy="405.7" r="2.75" fill="#ff0051"/>
<circle cx="221.5" cy="406.0" r="2.75" fill="#d20091"/>
<circle cx="198.2" cy="407.2" r="2.75" fill="#3569e8"/>
<circle cx="219.1" cy="403.7" r="2.75" fill="#316ae9"/>
<circle cx="203.1" cy="404.3" r="2.75" fill="#ff0051"/>
<circle cx="205.1" cy="404.1" r="2.75" fill="#ff0059"/>
<circle cx="196.1" cy="407.2" r="2.75" fill="#d6008e"/>
<circle cx="198.8" cy="406.1" r="2.75" fill="#4964e4"/>
<circle cx="216.9" cy="407.2" r="2.75" fill="#5460e0"/>
<circle cx="216.7" cy="405.9" r="2.75" fill="#5061e2"/>
<circle cx="194.1" cy="403.4" r="2.75" fill="#da008b"/>
<circle cx="210.2" cy="406.2" r="2.75" fill="#0086f9"/>
<circle cx="216.7" cy="409.7" r="2.75" fill="#4266e5"/>
<circle cx="191.5" cy="406.9" r="2.75" fill="#e10085"/>
<circle cx="214.9" cy="405.7" r="2.75" fill="#5261e1"/>
<circle cx="223.8" cy="407.3" r="2.75" fill="#df0086"/>
<circle cx="207.4" cy="407.2" r="2.75" fill="#ff0051"/>
<circle cx="198.1" cy="409.5" r="2.75" fill="#3b68e7"/>
<circle cx="200.5" cy="407.2" r="2.75" fill="#008bfb"/>
<circle cx="221.9" cy="407.2" r="2.75" fill="#dd0088"/>
<circle cx="210.2" cy="408.2" r="2.75" fill="#ff0058"/>
<circle cx="215.0" cy="408.7" r="2.75" fill="#ff0054"/>
<circle cx="207.7" cy="408.5" r="2.75" fill="#da008b"/>
<circle cx="216.9" cy="408.5" r="2.75" fill="#5a5ede"/>
<circle cx="203.0" cy="405.8" r="2.75" fill="#dc008a"/>
<circle cx="207.6" cy="405.9" r="2.75" fill="#dc0089"/>
<circle cx="212.1" cy="408.5" r="2.75" fill="#ff0058"/>
<circle cx="214.2" cy="407.2" r="2.75" fill="#008bfb"/>
<circle cx="216.7" cy="404.7" r="2.75" fill="#4266e6"/>
<circle cx="219.3" cy="408.9" r="2.75" fill="#4a64e4"/>
<circle cx="207.4" cy="409.8" r="2.75" fill="#d10092"/>
<circle cx="209.6" cy="405.1" r="2.75" fill="#008bfb"/>
<circle cx="205.6" cy="407.2" r="2.75" fill="#ff0058"/>
<circle cx="196.5" cy="405.2" r="2.75" fill="#4b63e3"/>
<circle cx="214.7" cy="404.2" r="2.75" fill="#ff0052"/>
<circle cx="200.8" cy="408.6" r="2.75" fill="#3f67e6"/>
<circle cx="198.2" cy="408.3" r="2.75" fill="#4465e5"/>
<circle cx="210.1" cy="407.2" r="2.75" fill="#0088fa"/>
<circle cx="193.8" cy="407.2" r="2.75" fill="#e00086"/>
<circle cx="218.9" cy="405.5" r="2.75" fill="#da008b"/>
<circle cx="194.2" cy="411.0" r="2.75" fill="#da008b"/>
<circle cx="198.5" cy="404.9" r="2.75" fill="#3a68e7"/>
<circle cx="193.7" cy="409.1" r="2.75" fill="#5460e0"/>
<circle cx="207.4" cy="404.6" r="2.75" fill="#d10092"/>
<circle cx="214.8" cy="410.2" r="2.75" fill="#ff0055"/>
<circle cx="205.3" cy="410.3" r="2.75" fill="#ff0054"/>
<circle cx="205.3" cy="408.7" r="2.75" fill="#0089fa"/>
<circle cx="193.5" cy="405.3" r="2.75" fill="#5062e2"/>
<circle cx="201.0" cy="405.8" r="2.75" fill="#5560e0"/>
<circle cx="203.4" cy="410.1" r="2.75" fill="#ff0051"/>
<circle cx="279.0" cy="407.2" r="2.75" fill="#008bfb"/>
<circle cx="293.2" cy="407.2" r="2.75" fill="#0089fa"/>
<circle cx="295.1" cy="407.2" r="2.75" fill="#008bfb"/>
<circle cx="285.8" cy="407.5" r="2.75" fill="#008bfb"/>
<circle cx="288.1" cy="407.5" r="2.75" fill="#008bfb"/>
<circle cx="293.2" cy="406.9" r="2.75" fill="#008bfb"/>
<circle cx="287.9" cy="406.9" r="2.75" fill="#008bfb"/>
<circle cx="290.5" cy="406.9" r="2.75" fill="#008bfb"/>
<circle cx="290.5" cy="407.2" r="2.75" fill="#0087fa"/>
<circle cx="283.9" cy="406.9" r="2.75" fill="#008afb"/>
<circle cx="286.1" cy="406.9" r="2.75" fill="#008bfb"/>
<circle cx="292.7" cy="407.5" r="2.75" fill="#008bfb"/>
<circle cx="297.5" cy="407.3" r="2.75" fill="#008afb"/>
<circle cx="281.2" cy="407.2" r="2.75" fill="#0085f9"/>
<circle cx="295.4" cy="406.9" r="2.75" fill="#0085f9"/>
<circle cx="281.0" cy="406.9" r="2.75" fill="#0085f9"/>
<circle cx="295.2" cy="407.5" r="2.75" fill="#008bfb"/>
<circle cx="285.7" cy="407.2" r="2.75" fill="#008bfb"/>
<circle cx="283.6" cy="407.5" r="2.75" fill="#0087fa"/>
<circle cx="288.3" cy="407.2" r="2.75" fill="#0088fa"/>
<circle cx="281.4" cy="407.5" r="2.75" fill="#008bfb"/>
<circle cx="290.6" cy="407.5" r="2.75" fill="#008bfb"/>
<circle cx="284.0" cy="407.2" r="2.75" fill="#008bfb"/>
<circle cx="305.9" cy="405.4" r="2.75" fill="#0088fa"/>
<circle cx="305.9" cy="407.2" r="2.75" fill="#0087fa"/>
<circle cx="300.4" cy="407.7" r="2.75" fill="#008afb"/>
<circle cx="306.2" cy="409.0" r="2.75" fill="#008bfb"/>
<circle cx="302.0" cy="408.4" r="2.75" fill="#0087fa"/>
<circle cx="302.4" cy="404.9" r="2.75" fill="#008bfb"/>
<circle cx="302.1" cy="407.2" r="2.75" fill="#008bfb"/>
<circle cx="304.4" cy="403.7" r="2.75" fill="#0088fa"/>
<circle cx="300.2" cy="406.7" r="2.75" fill="#008bfb"/>
<circle cx="309.0" cy="406.7" r="2.75" fill="#0085f9"/>
<circle cx="308.0" cy="409.5" r="2.75" fill="#008bfb"/>
<circle cx="304.3" cy="409.0" r="2.75" fill="#008bfb"/>
<circle cx="305.6" cy="410.7" r="2.75" fill="#008bfb"/>
<circle cx="307.4" cy="406.0" r="2.75" fill="#008bfb"/>
<circle cx="302.4" cy="406.0" r="2.75" fill="#008bfb"/>
<circle cx="303.9" cy="405.4" r="2.75" fill="#008bfb"/>
<circle cx="300.8" cy="407.2" r="2.75" fill="#008bfb"/>
<circle cx="309.3" cy="407.7" r="2.75" fill="#008bfb"/>
<circle cx="308.0" cy="408.4" r="2.75" fill="#008afb"/>
<circle cx="307.6" cy="404.9" r="2.75" fill="#008bfb"/>
<circle cx="304.1" cy="407.2" r="2.75" fill="#0088fa"/>
<circle cx="309.2" cy="407.2" r="2.75" fill="#008afb"/>
<circle cx="305.6" cy="403.7" r="2.75" fill="#0085f9"/>
<circle cx="307.6" cy="407.2" r="2.75" fill="#008bfb"/>
<circle cx="302.5" cy="409.5" r="2.75" fill="#008afb"/>
<circle cx="304.4" cy="410.7" r="2.75" fill="#008bfb"/>
<circle cx="324.7" cy="407.4" r="2.75" fill="#0089fa"/>
<circle cx="317.9" cy="407.1" r="2.75" fill="#0088fa"/>
<circle cx="320.2" cy="407.4" r="2.75" fill="#0087fa"/>
<circle cx="322.4" cy="407.0" r="2.75" fill="#008bfb"/>
<circle cx="329.2" cy="407.1" r="2.75" fill="#0085f9"/>
<circle cx="326.9" cy="407.1" r="2.75" fill="#0089fa"/>
<circle cx="364.5" cy="407.4" r="2.75" fill="#0089fa"/>
<circle cx="361.7" cy="406.7" r="2.75" fill="#008bfb"/>
<circle cx="361.7" cy="407.7" r="2.75" fill="#008bfb"/>
<circle cx="357.1" cy="407.0" r="2.75" fill="#008bfb"/>
<circle cx="361.8" cy="407.2" r="2.75" fill="#0087fa"/>
<circle cx="359.6" cy="407.3" r="2.75" fill="#008bfb"/>
<circle cx="378.3" cy="407.2" r="2.75" fill="#0087fa"/>
<circle cx="384.0" cy="407.2" r="2.75" fill="#008bfb"/>
<circle cx="388.5" cy="407.2" r="2.75" fill="#0088fa"/>
<circle cx="393.0" cy="407.2" r="2.75" fill="#008bfb"/>
<circle cx="397.5" cy="407.2" r="2.75" fill="#008bfb"/>
<circle cx="412.0" cy="405.7" r="2.75" fill="#0086f9"/>
<circle cx="412.0" cy="408.7" r="2.75" fill="#0089fa"/>
<circle cx="208.0" cy="422.6" r="2.75" fill="#0089fa"/>
<circle cx="211.4" cy="422.6" r="2.75" fill="#ff0051"/>
<circle cx="214.6" cy="422.6" r="2.75" fill="#008bfb"/>
<circle cx="219.0" cy="422.6" r="2.75" fill="#3469e8"/>
<circle cx="230.6" cy="422.6" r="2.75" fill="#ff0057"/>
<circle cx="257.3" cy="421.5" r="2.75" fill="#3569e8"/>
<circle cx="258.0" cy="423.7" r="2.75" fill="#5261e1"/>
<circle cx="239.3" cy="421.3" r="2.75" fill="#3b68e7"/>
<circle cx="260.3" cy="419.9" r="2.75" fill="#0088fa"/>
<circle cx="251.2" cy="423.7" r="2.75" fill="#3669e8"/>
<circle cx="255.3" cy="421.3" r="2.75" fill="#8047c9"/>
<circle cx="273.5" cy="419.9" r="2.75" fill="#0089fa"/>
<circle cx="248.3" cy="422.6" r="2.75" fill="#3e67e6"/>
<circle cx="253.2" cy="421.2" r="2.75" fill="#4465e5"/>
<circle cx="250.5" cy="422.6" r="2.75" fill="#2a6bea"/>
<circle cx="273.4" cy="425.4" r="2.75" fill="#0089fa"/>
<circle cx="239.4" cy="419.9" r="2.75" fill="#4e62e2"/>
<circle cx="266.4" cy="422.6" r="2.75" fill="#316ae9"/>
<circle cx="250.6" cy="424.8" r="2.75" fill="#8047ca"/>
<circle cx="255.5" cy="424.0" r="2.75" fill="#8443c6"/>
<circle cx="246.4" cy="423.9" r="2.75" fill="#2d6be9"/>
<circle cx="273.5" cy="421.3" r="2.75" fill="#0087fa"/>
<circle cx="249.0" cy="420.1" r="2.75" fill="#5560e0"/>
<circle cx="250.6" cy="421.5" r="2.75" fill="#296cea"/>
<circle cx="267.1" cy="423.1" r="2.75" fill="#ff0056"/>
<circle cx="264.3" cy="425.0" r="2.75" fill="#008bfb"/>
<circle cx="239.6" cy="425.4" r="2.75" fill="#3769e8"/>
<circle cx="239.8" cy="422.6" r="2.75" fill="#2c6bea"/>
<circle cx="239.9" cy="424.0" r="2.75" fill="#4565e5"/>
<circle cx="266.7" cy="422.1" r="2.75" fill="#3769e8"/>
<circle cx="260.2" cy="424.0" r="2.75" fill="#008bfb"/>
<circle cx="246.4" cy="422.6" r="2.75" fill="#4366e5"/>
<circle cx="273.7" cy="424.0" r="2.75" fill="#008bfb"/>
<circle cx="251.1" cy="420.5" r="2.75" fill="#5261e1"/>
<circle cx="241.5" cy="422.6" r="2.75" fill="#4f62e2"/>
<circle cx="264.3" cy="423.8" r="2.75" fill="#2e6be9"/>
<circle cx="273.3" cy="422.6" r="2.75" fill="#ff0056"/>
<circle cx="257.8" cy="422.6" r="2.75" fill="#256cea"/>
<circle cx="244.4" cy="424.3" r="2.75" fill="#3c68e7"/>
<circle cx="252.9" cy="422.6" r="2.75" fill="#754fd1"/>
<circle cx="244.1" cy="421.0" r="2.75" fill="#0088fa"/>
<circle cx="264.4" cy="420.3" r="2.75" fill="#5261e1"/>
<circle cx="246.6" cy="421.3" r="2.75" fill="#5a5ede"/>
<circle cx="262.6" cy="420.9" r="2.75" fill="#008bfb"/>
<circle cx="262.5" cy="424.4" r="2.75" fill="#286cea"/>
<circle cx="255.8" cy="422.6" r="2.75" fill="#8543c6"/>
<circle cx="275.9" cy="422.6" r="2.75" fill="#d8008d"/>
<circle cx="242.0" cy="421.8" r="2.75" fill="#0086f9"/>
<circle cx="264.5" cy="421.5" r="2.75" fill="#008bfb"/>
<circle cx="248.3" cy="423.9" r="2.75" fill="#3b68e7"/>
<circle cx="244.3" cy="422.6" r="2.75" fill="#2b6bea"/>
<circle cx="264.8" cy="422.6" r="2.75" fill="#ff0051"/>
<circle cx="271.2" cy="422.6" r="2.75" fill="#008afb"/>
<circle cx="275.7" cy="424.3" r="2.75" fill="#d8008c"/>
<circle cx="260.0" cy="422.6" r="2.75" fill="#008bfb"/>
<circle cx="259.7" cy="425.4" r="2.75" fill="#0088fa"/>
<circle cx="269.1" cy="424.6" r="2.75" fill="#ff0051"/>
<circle cx="260.0" cy="421.3" r="2.75" fill="#4465e5"/>
<circle cx="241.7" cy="423.4" r="2.75" fill="#008bfb"/>
<circle cx="271.2" cy="421.1" r="2.75" fill="#008bfb"/>
<circle cx="269.0" cy="420.7" r="2.75" fill="#ff0051"/>
<circle cx="248.8" cy="421.4" r="2.75" fill="#4066e6"/>
<circle cx="248.8" cy="425.2" r="2.75" fill="#4d63e3"/>
<circle cx="275.6" cy="421.0" r="2.75" fill="#da008b"/>
<circle cx="271.0" cy="424.2" r="2.75" fill="#d9008c"/>
<circle cx="237.3" cy="422.7" r="2.75" fill="#4964e4"/>
<circle cx="269.0" cy="422.6" r="2.75" fill="#ff0056"/>
<circle cx="278.1" cy="422.7" r="2.75" fill="#da008b"/>
<circle cx="262.2" cy="422.6" r="2.75" fill="#5560e0"/>
<circle cx="253.2" cy="424.1" r="2.75" fill="#7450d2"/>
<circle cx="253.6" cy="419.6" r="2.75" fill="#565fe0"/>
<circle cx="251.7" cy="424.2" r="2.75" fill="#2e6be9"/>
<circle cx="249.4" cy="423.1" r="2.75" fill="#7e49cb"/>
<circle cx="251.6" cy="419.6" r="2.75" fill="#4465e5"/>
<circle cx="253.1" cy="421.1" r="2.75" fill="#4266e5"/>
<circle cx="253.1" cy="425.7" r="2.75" fill="#2d6be9"/>
<circle cx="251.2" cy="425.7" r="2.75" fill="#883fc3"/>
<circle cx="255.2" cy="423.1" r="2.75" fill="#3f67e6"/>
<circle cx="249.9" cy="422.2" r="2.75" fill="#774ed0"/>
<circle cx="251.5" cy="421.1" r="2.75" fill="#7e48cb"/>
<circle cx="255.5" cy="422.2" r="2.75" fill="#4f62e2"/>
<circle cx="253.6" cy="422.6" r="2.75" fill="#3f67e6"/>
<circle cx="253.5" cy="424.2" r="2.75" fill="#7f48ca"/>
<circle cx="255.0" cy="422.6" r="2.75" fill="#4864e4"/>
<circle cx="250.0" cy="422.6" r="2.75" fill="#5460e0"/>
<circle cx="251.8" cy="422.6" r="2.75" fill="#8146c9"/>
<circle cx="292.6" cy="422.6" r="2.75" fill="#0089fa"/>
<circle cx="296.6" cy="422.6" r="2.75" fill="#ff0055"/>
<circle cx="302.5" cy="420.6" r="2.75" fill="#0086f9"/>
<circle cx="302.5" cy="424.6" r="2.75" fill="#008bfb"/>
<circle cx="308.0" cy="422.6" r="2.75" fill="#008bfb"/>
<circle cx="322.2" cy="425.0" r="2.75" fill="#008bfb"/>
<circle cx="320.2" cy="421.9" r="2.75" fill="#008bfb"/>
<circle cx="327.2" cy="424.3" r="2.75" fill="#008bfb"/>
<circle cx="325.1" cy="424.3" r="2.75" fill="#008bfb"/>
<circle cx="325.0" cy="422.6" r="2.75" fill="#008afb"/>
<circle cx="336.5" cy="422.4" r="2.75" fill="#008bfb"/>
<circle cx="327.5" cy="421.0" r="2.75" fill="#0087fa"/>
<circle cx="322.4" cy="421.5" r="2.75" fill="#0087fa"/>
<circle cx="320.0" cy="423.3" r="2.75" fill="#0089fa"/>
<circle cx="324.6" cy="421.0" r="2.75" fill="#008bfb"/>
<circle cx="327.6" cy="422.6" r="2.75" fill="#008afb"/>
<circle cx="334.4" cy="420.7" r="2.75" fill="#008bfb"/>
<circle cx="334.1" cy="422.6" r="2.75" fill="#008bfb"/>
<circle cx="334.4" cy="424.6" r="2.75" fill="#008bfb"/>
<circle cx="329.8" cy="421.9" r="2.75" fill="#008afb"/>
<circle cx="331.8" cy="421.5" r="2.75" fill="#0089fa"/>
<circle cx="322.9" cy="422.6" r="2.75" fill="#008afb"/>
<circle cx="329.8" cy="423.4" r="2.75" fill="#008bfb"/>
<circle cx="331.9" cy="422.6" r="2.75" fill="#008afb"/>
<circle cx="320.4" cy="422.6" r="2.75" fill="#008bfb"/>
<circle cx="332.1" cy="423.8" r="2.75" fill="#008bfb"/>
<circle cx="322.3" cy="423.8" r="2.75" fill="#008bfb"/>
<circle cx="329.2" cy="422.6" r="2.75" fill="#0087fa"/>
<circle cx="322.3" cy="420.3" r="2.75" fill="#008bfb"/>
<circle cx="318.0" cy="422.7" r="2.75" fill="#008bfb"/>
<circle cx="346.3" cy="422.6" r="2.75" fill="#0087fa"/>
<circle cx="353.5" cy="422.5" r="2.75" fill="#008bfb"/>
<circle cx="358.3" cy="422.6" r="2.75" fill="#008bfb"/>
<circle cx="341.5" cy="422.5" r="2.75" fill="#0089fa"/>
<circle cx="355.9" cy="422.6" r="2.75" fill="#008bfb"/>
<circle cx="351.1" cy="422.7" r="2.75" fill="#008bfb"/>
<circle cx="343.9" cy="422.9" r="2.75" fill="#0088fa"/>
<circle cx="348.7" cy="422.7" r="2.75" fill="#008bfb"/>
<circle cx="158.0" cy="438.1" r="2.75" fill="#ff0051"/>
<circle cx="160.7" cy="438.1" r="2.75" fill="#ff0058"/>
<circle cx="163.4" cy="438.1" r="2.75" fill="#ff0052"/>
<circle cx="184.7" cy="438.1" r="2.75" fill="#ff0051"/>
<circle cx="198.3" cy="438.1" r="2.75" fill="#ff0051"/>
<circle cx="237.1" cy="438.1" r="2.75" fill="#ff0055"/>
<circle cx="225.5" cy="438.4" r="2.75" fill="#d8008d"/>
<circle cx="230.5" cy="437.8" r="2.75" fill="#d40090"/>
<circle cx="232.3" cy="438.1" r="2.75" fill="#dd0088"/>
<circle cx="234.7" cy="437.8" r="2.75" fill="#ff0051"/>
<circle cx="222.8" cy="437.8" r="2.75" fill="#ff0051"/>
<circle cx="218.7" cy="437.8" r="2.75" fill="#dc008a"/>
<circle cx="230.5" cy="438.4" r="2.75" fill="#db008a"/>
<circle cx="223.0" cy="438.1" r="2.75" fill="#e10085"/>
<circle cx="237.4" cy="438.4" r="2.75" fill="#ff0051"/>
<circle cx="216.6" cy="437.8" r="2.75" fill="#db008b"/>
<circle cx="228.1" cy="438.1" r="2.75" fill="#ff0054"/>
<circle cx="230.0" cy="438.1" r="2.75" fill="#ff0051"/>
<circle cx="218.5" cy="438.1" r="2.75" fill="#ff0053"/>
<circle cx="235.2" cy="438.4" r="2.75" fill="#ff0058"/>
<circle cx="218.5" cy="438.4" r="2.75" fill="#d6008e"/>
<circle cx="221.3" cy="438.4" r="2.75" fill="#ff0051"/>
<circle cx="232.9" cy="438.4" r="2.75" fill="#ff0051"/>
<circle cx="237.1" cy="437.8" r="2.75" fill="#ff0051"/>
<circle cx="216.1" cy="438.1" r="2.75" fill="#ff0051"/>
<circle cx="227.9" cy="437.8" r="2.75" fill="#ff0051"/>
<circle cx="234.6" cy="438.1" r="2.75" fill="#ff0051"/>
<circle cx="225.8" cy="437.8" r="2.75" fill="#ff0052"/>
<circle cx="232.2" cy="437.8" r="2.75" fill="#d9008c"/>
<circle cx="239.5" cy="437.8" r="2.75" fill="#ff0051"/>
<circle cx="216.0" cy="438.4" r="2.75" fill="#ff0054"/>
<circle cx="227.6" cy="438.4" r="2.75" fill="#ff0058"/>
<circle cx="213.9" cy="437.8" r="2.75" fill="#dc008a"/>
<circle cx="220.6" cy="437.8" r="2.75" fill="#df0087"/>
<circle cx="221.3" cy="438.1" r="2.75" fill="#ff0056"/>
<circle cx="223.4" cy="438.4" r="2.75" fill="#dd0089"/>
<circle cx="225.9" cy="438.1" r="2.75" fill="#ff0051"/>
<circle cx="246.3" cy="438.1" r="2.75" fill="#008bfb"/>
<circle cx="251.2" cy="437.9" r="2.75" fill="#ff0051"/>
<circle cx="274.5" cy="437.9" r="2.75" fill="#982bb2"/>
<circle cx="272.4" cy="436.7" r="2.75" fill="#9f21ac"/>
<circle cx="270.2" cy="438.1" r="2.75" fill="#9c23ad"/>
<circle cx="262.7" cy="439.1" r="2.75" fill="#4b63e3"/>
<circle cx="265.0" cy="437.9" r="2.75" fill="#9829b1"/>
<circle cx="269.6" cy="438.5" r="2.75" fill="#a31eaa"/>
<circle cx="262.6" cy="438.1" r="2.75" fill="#9f21ac"/>
<circle cx="270.0" cy="437.7" r="2.75" fill="#a21fab"/>
<circle cx="274.7" cy="438.1" r="2.75" fill="#a021ac"/>
<circle cx="274.2" cy="438.3" r="2.75" fill="#9928b0"/>
<circle cx="272.1" cy="438.1" r="2.75" fill="#5062e2"/>
<circle cx="263.0" cy="437.0" r="2.75" fill="#5361e1"/>
<circle cx="277.0" cy="437.8" r="2.75" fill="#a51daa"/>
<circle cx="260.2" cy="438.0" r="2.75" fill="#2e6be9"/>
<circle cx="267.1" cy="437.4" r="2.75" fill="#4a64e3"/>
<circle cx="267.0" cy="438.8" r="2.75" fill="#5560e0"/>
<circle cx="267.1" cy="438.1" r="2.75" fill="#5a5ede"/>
<circle cx="272.0" cy="439.5" r="2.75" fill="#a919a8"/>
<circle cx="270.3" cy="435.1" r="2.75" fill="#aa18a8"/>
<circle cx="273.6" cy="439.0" r="2.75" fill="#9a26af"/>
<circle cx="267.5" cy="439.6" r="2.75" fill="#a41eaa"/>
<circle cx="271.8" cy="441.2" r="2.75" fill="#a919a8"/>
<circle cx="273.5" cy="437.1" r="2.75" fill="#ad14a6"/>
<circle cx="267.0" cy="435.0" r="2.75" fill="#982bb2"/>
<circle cx="270.6" cy="433.6" r="2.75" fill="#9c23ad"/>
<circle cx="272.0" cy="436.5" r="2.75" fill="#a21fab"/>
<circle cx="265.7" cy="439.0" r="2.75" fill="#ad14a6"/>
<circle cx="270.7" cy="439.6" r="2.75" fill="#9a26af"/>
<circle cx="268.6" cy="435.1" r="2.75" fill="#ab17a7"/>
<circle cx="270.3" cy="438.1" r="2.75" fill="#9f21ac"/>
<circle cx="268.6" cy="441.1" r="2.75" fill="#a31eaa"/>
<circle cx="268.8" cy="442.6" r="2.75" fill="#ad15a6"/>
<circle cx="268.9" cy="438.1" r="2.75" fill="#9829b1"/>
<circle cx="270.6" cy="436.6" r="2.75" fill="#9d22ac"/>
<circle cx="268.8" cy="439.6" r="2.75" fill="#9a27af"/>
<circle cx="272.2" cy="438.1" r="2.75" fill="#9927b0"/>
<circle cx="268.8" cy="433.6" r="2.75" fill="#9d23ad"/>
<circle cx="267.4" cy="438.1" r="2.75" fill="#a71aa9"/>
<circle cx="269.9" cy="441.1" r="2.75" fill="#a41daa"/>
<circle cx="273.4" cy="438.1" r="2.75" fill="#9928b0"/>
<circle cx="267.0" cy="441.2" r="2.75" fill="#aa18a8"/>
<circle cx="265.9" cy="438.1" r="2.75" fill="#a21fab"/>
<circle cx="271.9" cy="439.6" r="2.75" fill="#9a27af"/>
<circle cx="271.9" cy="435.0" r="2.75" fill="#aa18a8"/>
<circle cx="268.6" cy="436.6" r="2.75" fill="#aa18a8"/>
<circle cx="267.5" cy="436.5" r="2.75" fill="#9b25ae"/>
<circle cx="265.2" cy="437.1" r="2.75" fill="#ad14a6"/>
<circle cx="270.2" cy="442.6" r="2.75" fill="#aa18a8"/>
<circle cx="266.5" cy="438.1" r="2.75" fill="#008bfb"/>
<circle cx="282.1" cy="437.8" r="2.75" fill="#a71ba9"/>
<circle cx="284.2" cy="440.4" r="2.75" fill="#ab17a7"/>
<circle cx="283.7" cy="438.1" r="2.75" fill="#a41daa"/>
<circle cx="284.2" cy="439.2" r="2.75" fill="#9c23ad"/>
<circle cx="284.3" cy="435.8" r="2.75" fill="#9b24ad"/>
<circle cx="284.3" cy="436.9" r="2.75" fill="#a31eaa"/>
<circle cx="285.9" cy="438.2" r="2.75" fill="#9a27b0"/>
<circle cx="318.2" cy="438.1" r="2.75" fill="#0088fa"/>
<circle cx="295.4" cy="438.1" r="2.75" fill="#0088fa"/>
<circle cx="311.8" cy="437.1" r="2.75" fill="#4e62e2"/>
<circle cx="316.4" cy="438.1" r="2.75" fill="#2c6be9"/>
<circle cx="295.1" cy="438.5" r="2.75" fill="#0089fa"/>
<circle cx="295.1" cy="437.6" r="2.75" fill="#0085f9"/>
<circle cx="311.3" cy="438.1" r="2.75" fill="#3b68e7"/>
<circle cx="306.5" cy="438.1" r="2.75" fill="#008bfb"/>
<circle cx="320.7" cy="437.7" r="2.75" fill="#008bfb"/>
<circle cx="315.9" cy="437.8" r="2.75" fill="#0089fa"/>
<circle cx="321.1" cy="438.5" r="2.75" fill="#0089fa"/>
<circle cx="309.4" cy="438.1" r="2.75" fill="#008bfb"/>
<circle cx="301.9" cy="439.2" r="2.75" fill="#008bfb"/>
<circle cx="302.0" cy="438.1" r="2.75" fill="#008bfb"/>
<circle cx="298.0" cy="439.1" r="2.75" fill="#3669e8"/>
<circle cx="293.0" cy="438.3" r="2.75" fill="#008bfb"/>
<circle cx="299.7" cy="438.1" r="2.75" fill="#008bfb"/>
<circle cx="318.3" cy="439.1" r="2.75" fill="#0088fa"/>
<circle cx="314.1" cy="440.0" r="2.75" fill="#5161e1"/>
<circle cx="309.4" cy="436.7" r="2.75" fill="#0086f9"/>
<circle cx="304.8" cy="439.2" r="2.75" fill="#0089fa"/>
<circle cx="306.6" cy="438.2" r="2.75" fill="#008afb"/>
<circle cx="313.7" cy="438.1" r="2.75" fill="#4b63e3"/>
<circle cx="320.7" cy="438.1" r="2.75" fill="#008bfb"/>
<circle cx="304.5" cy="438.1" r="2.75" fill="#0089fa"/>
<circle cx="302.5" cy="437.0" r="2.75" fill="#008afb"/>
<circle cx="316.0" cy="438.4" r="2.75" fill="#0085f9"/>
<circle cx="297.8" cy="437.1" r="2.75" fill="#3c68e7"/>
<circle cx="306.9" cy="438.0" r="2.75" fill="#3f67e6"/>
<circle cx="304.2" cy="437.0" r="2.75" fill="#0085f9"/>
<circle cx="318.3" cy="437.1" r="2.75" fill="#5062e2"/>
<circle cx="299.6" cy="439.8" r="2.75" fill="#286cea"/>
<circle cx="313.5" cy="436.1" r="2.75" fill="#4565e5"/>
<circle cx="297.5" cy="438.1" r="2.75" fill="#4665e5"/>
<circle cx="300.2" cy="436.4" r="2.75" fill="#0089fa"/>
<circle cx="323.0" cy="438.1" r="2.75" fill="#0087fa"/>
<circle cx="309.0" cy="439.5" r="2.75" fill="#008bfb"/>
<circle cx="311.3" cy="439.0" r="2.75" fill="#3a68e7"/>
<circle cx="341.3" cy="439.3" r="2.75" fill="#0086f9"/>
<circle cx="334.3" cy="438.1" r="2.75" fill="#5261e1"/>
<circle cx="364.5" cy="436.8" r="2.75" fill="#4864e4"/>
<circle cx="348.1" cy="439.1" r="2.75" fill="#008bfb"/>
<circle cx="364.5" cy="439.4" r="2.75" fill="#3c68e7"/>
<circle cx="355.2" cy="438.1" r="2.75" fill="#2f6ae9"/>
<circle cx="341.1" cy="436.8" r="2.75" fill="#0086fa"/>
<circle cx="357.5" cy="437.7" r="2.75" fill="#8146c9"/>
<circle cx="336.6" cy="436.4" r="2.75" fill="#008bfb"/>
<circle cx="350.6" cy="435.9" r="2.75" fill="#575fdf"/>
<circle cx="332.1" cy="437.7" r="2.75" fill="#565fe0"/>
<circle cx="353.0" cy="438.1" r="2.75" fill="#276cea"/>
<circle cx="355.2" cy="437.0" r="2.75" fill="#8344c7"/>
<circle cx="332.2" cy="438.1" r="2.75" fill="#3769e8"/>
<circle cx="348.1" cy="437.1" r="2.75" fill="#4765e4"/>
<circle cx="361.9" cy="439.5" r="2.75" fill="#5460e0"/>
<circle cx="339.2" cy="436.7" r="2.75" fill="#008bfb"/>
<circle cx="369.3" cy="438.1" r="2.75" fill="#4565e5"/>
<circle cx="332.2" cy="438.5" r="2.75" fill="#4d63e3"/>
<circle cx="338.9" cy="438.1" r="2.75" fill="#008bfb"/>
<circle cx="368.8" cy="438.7" r="2.75" fill="#4b63e3"/>
<circle cx="334.2" cy="437.0" r="2.75" fill="#4166e6"/>
<circle cx="337.1" cy="438.1" r="2.75" fill="#5a5ede"/>
<circle cx="366.8" cy="438.1" r="2.75" fill="#336ae8"/>
<circle cx="352.7" cy="437.6" r="2.75" fill="#4f62e2"/>
<circle cx="350.8" cy="439.1" r="2.75" fill="#7350d2"/>
<circle cx="371.0" cy="436.5" r="2.75" fill="#3968e7"/>
<circle cx="362.0" cy="436.7" r="2.75" fill="#2e6be9"/>
<circle cx="366.5" cy="438.7" r="2.75" fill="#306ae9"/>
<circle cx="373.5" cy="438.0" r="2.75" fill="#4665e4"/>
<circle cx="359.8" cy="436.3" r="2.75" fill="#326ae9"/>
<circle cx="371.3" cy="438.1" r="2.75" fill="#5261e1"/>
<circle cx="360.0" cy="438.1" r="2.75" fill="#2d6be9"/>
<circle cx="350.2" cy="438.1" r="2.75" fill="#4b63e3"/>
<circle cx="338.8" cy="439.4" r="2.75" fill="#0087fa"/>
<circle cx="346.1" cy="438.1" r="2.75" fill="#2f6ae9"/>
<circle cx="357.6" cy="438.5" r="2.75" fill="#3569e8"/>
<circle cx="364.5" cy="438.1" r="2.75" fill="#5161e1"/>
<circle cx="341.5" cy="438.1" r="2.75" fill="#4466e5"/>
<circle cx="330.0" cy="437.8" r="2.75" fill="#585fdf"/>
<circle cx="369.0" cy="437.5" r="2.75" fill="#3d67e7"/>
<circle cx="346.2" cy="439.5" r="2.75" fill="#4067e6"/>
<circle cx="354.9" cy="439.2" r="2.75" fill="#595edf"/>
<circle cx="362.0" cy="438.1" r="2.75" fill="#3d67e7"/>
<circle cx="344.1" cy="438.2" r="2.75" fill="#595edf"/>
<circle cx="350.8" cy="440.2" r="2.75" fill="#8740c3"/>
<circle cx="359.8" cy="439.8" r="2.75" fill="#774ed0"/>
<circle cx="343.5" cy="438.1" r="2.75" fill="#4764e4"/>
<circle cx="350.4" cy="437.0" r="2.75" fill="#883fc2"/>
<circle cx="352.7" cy="438.6" r="2.75" fill="#2e6be9"/>
<circle cx="371.1" cy="439.7" r="2.75" fill="#5460e0"/>
<circle cx="343.6" cy="437.9" r="2.75" fill="#0088fa"/>
<circle cx="346.2" cy="436.7" r="2.75" fill="#5061e2"/>
<circle cx="334.7" cy="439.2" r="2.75" fill="#4a64e3"/>
<circle cx="336.8" cy="439.7" r="2.75" fill="#008bfb"/>
<circle cx="357.5" cy="438.1" r="2.75" fill="#893fc2"/>
<circle cx="366.9" cy="437.4" r="2.75" fill="#2d6be9"/>
<circle cx="348.5" cy="438.1" r="2.75" fill="#5261e1"/>
<circle cx="254.7" cy="451.0" r="2.75" fill="#008bfb"/>
<circle cx="259.4" cy="452.3" r="2.75" fill="#595edf"/>
<circle cx="231.9" cy="453.7" r="2.75" fill="#008bfb"/>
<circle cx="252.3" cy="452.0" r="2.75" fill="#008bfb"/>
<circle cx="278.1" cy="451.0" r="2.75" fill="#008bfb"/>
<circle cx="272.9" cy="451.5" r="2.75" fill="#4565e5"/>
<circle cx="270.9" cy="452.1" r="2.75" fill="#8146c9"/>
<circle cx="233.8" cy="453.5" r="2.75" fill="#0085f9"/>
<circle cx="278.1" cy="452.3" r="2.75" fill="#0087fa"/>
<circle cx="268.8" cy="450.2" r="2.75" fill="#5261e1"/>
<circle cx="256.9" cy="454.7" r="2.75" fill="#0089fa"/>
<circle cx="282.5" cy="453.5" r="2.75" fill="#0088fa"/>
<circle cx="273.1" cy="453.5" r="2.75" fill="#7350d2"/>
<circle cx="280.4" cy="454.7" r="2.75" fill="#0088fa"/>
<circle cx="250.5" cy="452.4" r="2.75" fill="#0078f3"/>
<circle cx="236.3" cy="452.5" r="2.75" fill="#0089fa"/>
<circle cx="264.3" cy="451.4" r="2.75" fill="#4964e4"/>
<circle cx="259.7" cy="453.5" r="2.75" fill="#008bfb"/>
<circle cx="234.2" cy="456.6" r="2.75" fill="#008afb"/>
<circle cx="266.5" cy="453.5" r="2.75" fill="#5560e0"/>
<circle cx="265.9" cy="455.1" r="2.75" fill="#2b6bea"/>
<circle cx="268.3" cy="451.9" r="2.75" fill="#4b63e3"/>
<circle cx="284.7" cy="453.6" r="2.75" fill="#0087fa"/>
<circle cx="270.9" cy="453.5" r="2.75" fill="#774ed0"/>
<circle cx="280.4" cy="455.9" r="2.75" fill="#008bfb"/>
<circle cx="280.1" cy="451.2" r="2.75" fill="#008afb"/>
<circle cx="282.3" cy="451.2" r="2.75" fill="#0087fa"/>
<circle cx="254.9" cy="456.0" r="2.75" fill="#008bfb"/>
<circle cx="257.1" cy="455.8" r="2.75" fill="#0087fa"/>
<circle cx="246.0" cy="455.6" r="2.75" fill="#007cf5"/>
<circle cx="247.9" cy="452.5" r="2.75" fill="#5a5ede"/>
<circle cx="247.8" cy="451.4" r="2.75" fill="#0076f1"/>
<circle cx="278.1" cy="453.5" r="2.75" fill="#008bfb"/>
<circle cx="245.5" cy="452.5" r="2.75" fill="#0076f1"/>
<circle cx="273.1" cy="455.5" r="2.75" fill="#8542c5"/>
<circle cx="277.8" cy="456.0" r="2.75" fill="#008afb"/>
<circle cx="275.4" cy="453.5" r="2.75" fill="#0088fa"/>
<circle cx="241.4" cy="452.4" r="2.75" fill="#0088fa"/>
<circle cx="259.6" cy="454.7" r="2.75" fill="#0086f9"/>
<circle cx="264.1" cy="455.6" r="2.75" fill="#0087fa"/>
<circle cx="255.2" cy="453.5" r="2.75" fill="#0089fa"/>
<circle cx="266.7" cy="451.9" r="2.75" fill="#4f62e2"/>
<circle cx="259.1" cy="451.1" r="2.75" fill="#008bfb"/>
<circle cx="259.2" cy="455.9" r="2.75" fill="#008bfb"/>
<circle cx="243.2" cy="455.0" r="2.75" fill="#0078f3"/>
<circle cx="282.1" cy="455.9" r="2.75" fill="#008bfb"/>
<circle cx="248.0" cy="454.6" r="2.75" fill="#0088fa"/>
<circle cx="261.7" cy="452.7" r="2.75" fill="#008bfb"/>
<circle cx="268.3" cy="455.2" r="2.75" fill="#7c4acd"/>
<circle cx="254.6" cy="452.3" r="2.75" fill="#4964e4"/>
<circle cx="243.3" cy="452.0" r="2.75" fill="#0089fa"/>
<circle cx="243.5" cy="453.5" r="2.75" fill="#008bfb"/>
<circle cx="270.8" cy="455.0" r="2.75" fill="#794cce"/>
<circle cx="238.6" cy="451.6" r="2.75" fill="#0089fa"/>
<circle cx="254.9" cy="454.8" r="2.75" fill="#5560e0"/>
<circle cx="252.5" cy="453.5" r="2.75" fill="#0086f9"/>
<circle cx="243.3" cy="456.5" r="2.75" fill="#0079f3"/>
<circle cx="264.2" cy="452.5" r="2.75" fill="#3a68e7"/>
<circle cx="238.9" cy="453.5" r="2.75" fill="#008afb"/>
<circle cx="241.1" cy="453.5" r="2.75" fill="#0086f9"/>
<circle cx="252.6" cy="455.1" r="2.75" fill="#4864e4"/>
<circle cx="245.5" cy="451.4" r="2.75" fill="#008bfb"/>
<circle cx="236.8" cy="453.5" r="2.75" fill="#008bfb"/>
<circle cx="264.2" cy="454.6" r="2.75" fill="#4665e5"/>
<circle cx="234.4" cy="455.1" r="2.75" fill="#008bfb"/>
<circle cx="279.9" cy="452.3" r="2.75" fill="#0086f9"/>
<circle cx="282.1" cy="452.3" r="2.75" fill="#008bfb"/>
<circle cx="246.1" cy="453.5" r="2.75" fill="#008afb"/>
<circle cx="282.6" cy="454.7" r="2.75" fill="#008bfb"/>
<circle cx="250.3" cy="454.7" r="2.75" fill="#008bfb"/>
<circle cx="241.2" cy="454.6" r="2.75" fill="#008bfb"/>
<circle cx="234.1" cy="452.0" r="2.75" fill="#0089fa"/>
<circle cx="278.1" cy="454.8" r="2.75" fill="#0087fa"/>
<circle cx="236.5" cy="454.6" r="2.75" fill="#008bfb"/>
<circle cx="256.9" cy="452.4" r="2.75" fill="#008bfb"/>
<circle cx="268.7" cy="456.8" r="2.75" fill="#336ae8"/>
<circle cx="245.5" cy="454.6" r="2.75" fill="#007cf5"/>
<circle cx="279.8" cy="453.5" r="2.75" fill="#0087fa"/>
<circle cx="238.5" cy="455.4" r="2.75" fill="#0075f0"/>
<circle cx="257.5" cy="451.2" r="2.75" fill="#0085f9"/>
<circle cx="275.3" cy="452.6" r="2.75" fill="#008afb"/>
<circle cx="247.9" cy="453.5" r="2.75" fill="#008bfb"/>
<circle cx="257.0" cy="453.5" r="2.75" fill="#0086fa"/>
<circle cx="263.7" cy="453.5" r="2.75" fill="#4c63e3"/>
<circle cx="248.0" cy="455.6" r="2.75" fill="#008afb"/>
<circle cx="275.6" cy="454.4" r="2.75" fill="#008bfb"/>
<circle cx="243.4" cy="450.6" r="2.75" fill="#007df6"/>
<circle cx="268.6" cy="453.5" r="2.75" fill="#4366e5"/>
<circle cx="250.2" cy="453.5" r="2.75" fill="#008bfb"/>
<circle cx="261.5" cy="453.5" r="2.75" fill="#336ae8"/>
<circle cx="261.8" cy="454.3" r="2.75" fill="#3b68e7"/>
<circle cx="234.1" cy="450.4" r="2.75" fill="#008bfb"/>
<circle cx="293.7" cy="453.5" r="2.75" fill="#d6008e"/>
<circle cx="307.5" cy="453.4" r="2.75" fill="#008afb"/>
<circle cx="305.5" cy="453.4" r="2.75" fill="#0089fa"/>
<circle cx="313.4" cy="453.5" r="2.75" fill="#ff0052"/>
<circle cx="316.5" cy="453.5" r="2.75" fill="#0088fa"/>
<circle cx="324.5" cy="453.7" r="2.75" fill="#ff0051"/>
<circle cx="323.0" cy="453.3" r="2.75" fill="#ff0051"/>
<circle cx="333.4" cy="453.5" r="2.75" fill="#ff0057"/>
<circle cx="354.0" cy="453.7" r="2.75" fill="#ff0051"/>
<circle cx="352.5" cy="453.4" r="2.75" fill="#ff0058"/>
<circle cx="365.6" cy="453.5" r="2.75" fill="#ff0051"/>
<circle cx="383.7" cy="453.5" r="2.75" fill="#aa18a8"/>
<circle cx="388.4" cy="453.7" r="2.75" fill="#ff0051"/>
<circle cx="268.7" cy="470.6" r="2.75" fill="#0086fa"/>
<circle cx="309.8" cy="467.8" r="2.75" fill="#008bfb"/>
<circle cx="296.4" cy="469.8" r="2.75" fill="#0087fa"/>
<circle cx="305.2" cy="467.4" r="2.75" fill="#008bfb"/>
<circle cx="301.0" cy="470.1" r="2.75" fill="#008bfb"/>
<circle cx="270.9" cy="468.0" r="2.75" fill="#0086f9"/>
<circle cx="255.0" cy="470.3" r="2.75" fill="#008bfb"/>
<circle cx="277.6" cy="470.8" r="2.75" fill="#008bfb"/>
<circle cx="295.7" cy="469.0" r="2.75" fill="#008afb"/>
<circle cx="300.5" cy="469.0" r="2.75" fill="#008bfb"/>
<circle cx="277.5" cy="467.1" r="2.75" fill="#0088fa"/>
<circle cx="310.0" cy="466.7" r="2.75" fill="#0089fa"/>
<circle cx="289.4" cy="467.5" r="2.75" fill="#008bfb"/>
<circle cx="250.4" cy="470.0" r="2.75" fill="#0086f9"/>
<circle cx="252.7" cy="470.7" r="2.75" fill="#008bfb"/>
<circle cx="255.2" cy="471.6" r="2.75" fill="#0088fa"/>
<circle cx="289.1" cy="466.1" r="2.75" fill="#008bfb"/>
<circle cx="289.2" cy="469.0" r="2.75" fill="#008bfb"/>
<circle cx="287.1" cy="470.3" r="2.75" fill="#008bfb"/>
<circle cx="250.6" cy="469.0" r="2.75" fill="#0085f9"/>
<circle cx="307.4" cy="468.3" r="2.75" fill="#0087fa"/>
<circle cx="275.7" cy="467.8" r="2.75" fill="#008bfb"/>
<circle cx="254.9" cy="467.6" r="2.75" fill="#0087fa"/>
<circle cx="280.3" cy="466.8" r="2.75" fill="#0085f9"/>
<circle cx="293.8" cy="470.5" r="2.75" fill="#0086f9"/>
<circle cx="300.8" cy="466.7" r="2.75" fill="#008afb"/>
<circle cx="302.6" cy="469.0" r="2.75" fill="#008bfb"/>
<circle cx="309.8" cy="471.2" r="2.75" fill="#008afb"/>
<circle cx="259.9" cy="469.0" r="2.75" fill="#0085f9"/>
<circle cx="275.8" cy="469.0" r="2.75" fill="#0088fa"/>
<circle cx="264.0" cy="469.0" r="2.75" fill="#0089fa"/>
<circle cx="280.1" cy="469.0" r="2.75" fill="#0087fa"/>
<circle cx="309.7" cy="469.0" r="2.75" fill="#008bfb"/>
<circle cx="259.8" cy="470.6" r="2.75" fill="#008afb"/>
<circle cx="298.0" cy="470.0" r="2.75" fill="#0087fa"/>
<circle cx="307.8" cy="469.6" r="2.75" fill="#008bfb"/>
<circle cx="300.9" cy="467.8" r="2.75" fill="#0087fa"/>
<circle cx="312.0" cy="468.9" r="2.75" fill="#008bfb"/>
<circle cx="264.4" cy="467.6" r="2.75" fill="#008afb"/>
<circle cx="284.6" cy="467.1" r="2.75" fill="#008afb"/>
<circle cx="261.7" cy="470.0" r="2.75" fill="#008bfb"/>
<circle cx="273.6" cy="467.7" r="2.75" fill="#0086f9"/>
<circle cx="248.2" cy="468.9" r="2.75" fill="#008bfb"/>
<circle cx="305.0" cy="469.0" r="2.75" fill="#008bfb"/>
<circle cx="298.3" cy="468.0" r="2.75" fill="#008bfb"/>
<circle cx="293.8" cy="467.4" r="2.75" fill="#008afa"/>
<circle cx="289.1" cy="471.8" r="2.75" fill="#008bfb"/>
<circle cx="264.5" cy="466.3" r="2.75" fill="#008bfb"/>
<circle cx="259.5" cy="467.3" r="2.75" fill="#008bfb"/>
<circle cx="257.6" cy="468.3" r="2.75" fill="#0088fa"/>
<circle cx="284.6" cy="469.0" r="2.75" fill="#008bfb"/>
<circle cx="268.7" cy="467.3" r="2.75" fill="#008bfb"/>
<circle cx="277.4" cy="469.0" r="2.75" fill="#0087fa"/>
<circle cx="298.5" cy="467.0" r="2.75" fill="#0087fa"/>
<circle cx="268.8" cy="469.0" r="2.75" fill="#0086fa"/>
<circle cx="309.6" cy="470.1" r="2.75" fill="#008bfb"/>
<circle cx="275.7" cy="466.6" r="2.75" fill="#008bfb"/>
<circle cx="254.9" cy="469.0" r="2.75" fill="#0088fa"/>
<circle cx="261.9" cy="468.0" r="2.75" fill="#0089fa"/>
<circle cx="273.0" cy="470.3" r="2.75" fill="#008bfb"/>
<circle cx="291.6" cy="469.0" r="2.75" fill="#008bfb"/>
<circle cx="266.1" cy="469.0" r="2.75" fill="#008bfb"/>
<circle cx="252.5" cy="467.2" r="2.75" fill="#008bfb"/>
<circle cx="250.4" cy="471.1" r="2.75" fill="#008afa"/>
<circle cx="298.2" cy="471.0" r="2.75" fill="#0085f9"/>
<circle cx="298.6" cy="469.0" r="2.75" fill="#008bfb"/>
<circle cx="287.3" cy="467.6" r="2.75" fill="#008bfb"/>
<circle cx="284.5" cy="470.9" r="2.75" fill="#0088fa"/>
<circle cx="287.2" cy="469.0" r="2.75" fill="#008bfb"/>
<circle cx="261.8" cy="469.0" r="2.75" fill="#008bfb"/>
<circle cx="296.4" cy="468.1" r="2.75" fill="#008bfb"/>
<circle cx="279.8" cy="467.9" r="2.75" fill="#0085f9"/>
<circle cx="294.0" cy="469.0" r="2.75" fill="#008bfb"/>
<circle cx="272.9" cy="469.0" r="2.75" fill="#008bfb"/>
<circle cx="282.4" cy="468.5" r="2.75" fill="#008bfb"/>
<circle cx="291.8" cy="467.7" r="2.75" fill="#008bfb"/>
<circle cx="250.2" cy="466.8" r="2.75" fill="#008bfb"/>
<circle cx="253.0" cy="469.0" r="2.75" fill="#0088fa"/>
<circle cx="270.7" cy="469.9" r="2.75" fill="#008bfb"/>
<circle cx="271.0" cy="469.0" r="2.75" fill="#0087fa"/>
<circle cx="280.3" cy="470.0" r="2.75" fill="#008bfb"/>
<circle cx="250.7" cy="467.9" r="2.75" fill="#008bfb"/>
<circle cx="275.7" cy="470.1" r="2.75" fill="#0089fa"/>
<circle cx="302.5" cy="470.7" r="2.75" fill="#008bfb"/>
<circle cx="302.5" cy="467.2" r="2.75" fill="#0086f9"/>
<circle cx="266.8" cy="467.1" r="2.75" fill="#008bfb"/>
<circle cx="266.7" cy="470.8" r="2.75" fill="#0088fa"/>
<circle cx="263.8" cy="470.3" r="2.75" fill="#0089fa"/>
<circle cx="300.7" cy="471.3" r="2.75" fill="#008bfb"/>
<circle cx="282.7" cy="469.0" r="2.75" fill="#008bfb"/>
<circle cx="291.5" cy="470.2" r="2.75" fill="#0089fa"/>
<circle cx="257.5" cy="469.7" r="2.75" fill="#0088fa"/>
<circle cx="305.0" cy="470.5" r="2.75" fill="#008bfb"/>
<circle cx="275.9" cy="471.3" r="2.75" fill="#008bfb"/>
<circle cx="289.5" cy="470.4" r="2.75" fill="#0089fa"/>
<circle cx="257.2" cy="469.0" r="2.75" fill="#0089fa"/>
<circle cx="279.8" cy="471.1" r="2.75" fill="#008bfb"/>
<circle cx="255.3" cy="466.3" r="2.75" fill="#008bfb"/>
<circle cx="282.6" cy="469.4" r="2.75" fill="#008bfb"/>
<circle cx="263.9" cy="471.6" r="2.75" fill="#008afb"/>
<circle cx="307.1" cy="469.0" r="2.75" fill="#0086f9"/>
<circle cx="265.4" cy="466.5" r="2.75" fill="#ff0051"/>
<circle cx="265.4" cy="471.5" r="2.75" fill="#ff0051"/>
<circle cx="276.3" cy="469.0" r="2.75" fill="#ff0054"/>
<circle cx="250.7" cy="484.4" r="2.75" fill="#d40090"/>
<circle cx="255.5" cy="484.4" r="2.75" fill="#dc008a"/>
<circle cx="276.5" cy="484.5" r="2.75" fill="#ff0056"/>
<circle cx="283.8" cy="486.0" r="2.75" fill="#3c68e7"/>
<circle cx="280.0" cy="484.9" r="2.75" fill="#3569e8"/>
<circle cx="281.8" cy="487.6" r="2.75" fill="#4c63e3"/>
<circle cx="282.2" cy="484.4" r="2.75" fill="#346ae8"/>
<circle cx="283.9" cy="487.6" r="2.75" fill="#585fdf"/>
<circle cx="282.0" cy="482.8" r="2.75" fill="#3469e8"/>
<circle cx="283.6" cy="484.4" r="2.75" fill="#575fe0"/>
<circle cx="282.4" cy="481.2" r="2.75" fill="#585edf"/>
<circle cx="286.1" cy="483.9" r="2.75" fill="#595edf"/>
<circle cx="283.8" cy="481.2" r="2.75" fill="#5061e2"/>
<circle cx="286.2" cy="484.9" r="2.75" fill="#5460e0"/>
<circle cx="284.4" cy="482.8" r="2.75" fill="#296bea"/>
<circle cx="280.5" cy="484.4" r="2.75" fill="#4d63e3"/>
<circle cx="282.3" cy="486.0" r="2.75" fill="#256cea"/>
<circle cx="280.3" cy="483.9" r="2.75" fill="#4f62e2"/>
<circle cx="286.0" cy="484.4" r="2.75" fill="#585edf"/>
<circle cx="291.9" cy="487.4" r="2.75" fill="#0088fa"/>
<circle cx="294.6" cy="484.5" r="2.75" fill="#0087fa"/>
<circle cx="294.8" cy="484.3" r="2.75" fill="#008bfb"/>
<circle cx="292.3" cy="484.4" r="2.75" fill="#008bfb"/>
<circle cx="292.4" cy="481.4" r="2.75" fill="#0086fa"/>
<circle cx="289.5" cy="484.1" r="2.75" fill="#008bfb"/>
<circle cx="292.2" cy="485.9" r="2.75" fill="#0088fa"/>
<circle cx="292.4" cy="482.9" r="2.75" fill="#008bfb"/>
<circle cx="294.1" cy="484.4" r="2.75" fill="#008bfb"/>
<circle cx="300.3" cy="484.4" r="2.75" fill="#ff0051"/>
<circle cx="322.8" cy="482.9" r="2.75" fill="#a31eab"/>
<circle cx="322.8" cy="485.9" r="2.75" fill="#ab17a7"/></g>
<line x1="88.6" y1="500.7" x2="466.0" y2="500.7" stroke="#111" stroke-width="1.4"/>
<line x1="138.0" y1="500.7" x2="138.0" y2="508.1" stroke="#111" stroke-width="1.1"/>
<text x="138.0" y="526.7" text-anchor="middle" font-family='"Liberation Serif","Times New Roman",serif' font-size="16.0" fill="#1a1a1a">−2</text>
<line x1="213.2" y1="500.7" x2="213.2" y2="508.1" stroke="#111" stroke-width="1.1"/>
<text x="213.2" y="526.7" text-anchor="middle" font-family='"Liberation Serif","Times New Roman",serif' font-size="16.0" fill="#1a1a1a">−1</text>
<line x1="288.4" y1="500.7" x2="288.4" y2="508.1" stroke="#111" stroke-width="1.1"/>
<text x="288.4" y="526.7" text-anchor="middle" font-family='"Liberation Serif","Times New Roman",serif' font-size="16.0" fill="#1a1a1a">0</text>
<line x1="363.6" y1="500.7" x2="363.6" y2="508.1" stroke="#111" stroke-width="1.1"/>
<text x="363.6" y="526.7" text-anchor="middle" font-family='"Liberation Serif","Times New Roman",serif' font-size="16.0" fill="#1a1a1a">1</text>
<line x1="438.8" y1="500.7" x2="438.8" y2="508.1" stroke="#111" stroke-width="1.1"/>
<text x="438.8" y="526.7" text-anchor="middle" font-family='"Liberation Serif","Times New Roman",serif' font-size="16.0" fill="#1a1a1a">2</text>
<text x="277.0" y="547.3" text-anchor="middle" font-family='"Liberation Serif","Times New Roman",serif' font-size="16.37" fill="#1a1a1a">mean(|SHAP values|) (average impact on model output)</text>
<text x="277.5" y="307.2" text-anchor="middle" font-family='"Liberation Serif","Times New Roman",serif' font-size="17.10" fill="#1a1a1a">b) SF mode</text>
<text transform="translate(22.5 408.0) rotate(-90)" text-anchor="middle" font-family='"Liberation Serif","Times New Roman",serif' font-size="20.40" fill="#1a1a1a">Input variable</text>
<text x="54.9" y="336.3" text-anchor="end" font-size="16.0" fill="#1a1a1a"><tspan font-family='"Liberation Serif","Times New Roman",serif'>t</tspan><tspan font-family='"DejaVu Sans","Liberation Sans",sans-serif' font-style="italic" font-size="11.2" dy="2.2">w</tspan></text>
<text x="54.9" y="351.7" text-anchor="end" font-size="16.0" fill="#1a1a1a"><tspan font-family='"Liberation Serif","Times New Roman",serif'>H</tspan></text>
<text x="54.9" y="367.2" text-anchor="end" font-size="16.0" fill="#1a1a1a"><tspan font-family='"Liberation Serif","Times New Roman",serif'>f</tspan><tspan font-family='"DejaVu Sans","Liberation Sans",sans-serif' font-style="italic" font-size="11.2" dy="2.2">yl</tspan></text>
<text x="54.9" y="382.6" text-anchor="end" font-size="16.0" fill="#1a1a1a"><tspan font-family='"Liberation Serif","Times New Roman",serif'>f</tspan><tspan font-family='"DejaVu Sans","Liberation Sans",sans-serif' font-style="italic" font-size="11.2" dy="2.2">yw</tspan></text>
<text x="54.9" y="398.1" text-anchor="end" font-size="16.0" fill="#1a1a1a"><tspan font-family='"DejaVu Sans","Liberation Sans",sans-serif' font-style="italic">ρ</tspan><tspan font-family='"DejaVu Sans","Liberation Sans",sans-serif' font-style="italic" font-size="11.2" dy="2.2">l</tspan></text>
<text x="54.9" y="413.5" text-anchor="end" font-size="16.0" fill="#1a1a1a"><tspan font-family='"Liberation Serif","Times New Roman",serif'>L</tspan><tspan font-family='"DejaVu Sans","Liberation Sans",sans-serif' font-style="italic" font-size="11.2" dy="2.2">w</tspan></text>
<text x="54.9" y="428.9" text-anchor="end" font-size="16.0" fill="#1a1a1a"><tspan font-family='"Liberation Serif","Times New Roman",serif'>P</tspan></text>
<text x="54.9" y="444.4" text-anchor="end" font-size="16.0" fill="#1a1a1a"><tspan font-family='"Liberation Serif","Times New Roman",serif'>f</tspan><tspan font-family='"DejaVu Sans","Liberation Sans",sans-serif' font-style="italic" font-size="11.2" dy="2.2">c</tspan></text>
<text x="54.9" y="459.8" text-anchor="end" font-size="16.0" fill="#1a1a1a"><tspan font-family='"Liberation Serif","Times New Roman",serif'>B</tspan></text>
<text x="54.9" y="475.3" text-anchor="end" font-size="16.0" fill="#1a1a1a"><tspan font-family='"Liberation Serif","Times New Roman",serif'>s</tspan></text>
<text x="54.9" y="490.7" text-anchor="end" font-size="16.0" fill="#1a1a1a"><tspan font-family='"DejaVu Sans","Liberation Sans",sans-serif' font-style="italic">ρ</tspan><tspan font-family='"DejaVu Sans","Liberation Sans",sans-serif' font-style="italic" font-size="11.2" dy="2.2">w</tspan></text>
<rect x="489.0" y="315.5" width="7.2" height="184.8" fill="url(#cb)"/>
<text x="501.2" y="319.7" font-family='"Liberation Serif","Times New Roman",serif' font-size="14.7" fill="#1a1a1a">High</text>
<text x="501.6" y="506.1" font-family='"Liberation Serif","Times New Roman",serif' font-size="14.7" fill="#1a1a1a">Low</text>
<text transform="translate(541.8 408.4) rotate(-90)" text-anchor="middle" font-family='"Liberation Serif","Times New Roman",serif' font-size="16.7" fill="#1a1a1a">Feature value</text>
<line x1="86.0" y1="622.00" x2="466.8" y2="622.00" stroke="#dcdcdc" stroke-width="0.7" stroke-dasharray="1.2 3"/>
<line x1="86.0" y1="637.68" x2="466.8" y2="637.68" stroke="#dcdcdc" stroke-width="0.7" stroke-dasharray="1.2 3"/>
<line x1="86.0" y1="653.36" x2="466.8" y2="653.36" stroke="#dcdcdc" stroke-width="0.7" stroke-dasharray="1.2 3"/>
<line x1="86.0" y1="669.04" x2="466.8" y2="669.04" stroke="#dcdcdc" stroke-width="0.7" stroke-dasharray="1.2 3"/>
<line x1="86.0" y1="684.72" x2="466.8" y2="684.72" stroke="#dcdcdc" stroke-width="0.7" stroke-dasharray="1.2 3"/>
<line x1="86.0" y1="700.40" x2="466.8" y2="700.40" stroke="#dcdcdc" stroke-width="0.7" stroke-dasharray="1.2 3"/>
<line x1="86.0" y1="716.08" x2="466.8" y2="716.08" stroke="#dcdcdc" stroke-width="0.7" stroke-dasharray="1.2 3"/>
<line x1="86.0" y1="731.76" x2="466.8" y2="731.76" stroke="#dcdcdc" stroke-width="0.7" stroke-dasharray="1.2 3"/>
<line x1="86.0" y1="747.44" x2="466.8" y2="747.44" stroke="#dcdcdc" stroke-width="0.7" stroke-dasharray="1.2 3"/>
<line x1="86.0" y1="763.12" x2="466.8" y2="763.12" stroke="#dcdcdc" stroke-width="0.7" stroke-dasharray="1.2 3"/>
<line x1="86.0" y1="778.80" x2="466.8" y2="778.80" stroke="#dcdcdc" stroke-width="0.7" stroke-dasharray="1.2 3"/>
<line x1="313.0" y1="606.4" x2="313.0" y2="794.8" stroke="#8e8e8e" stroke-width="1.5"/>
<g><circle cx="202.4" cy="622.3" r="2.75" fill="#0085f9"/>
<circle cx="186.4" cy="621.8" r="2.75" fill="#008bfb"/>
<circle cx="193.2" cy="621.9" r="2.75" fill="#0087fa"/>
<circle cx="188.6" cy="622.2" r="2.75" fill="#008bfb"/>
<circle cx="190.9" cy="621.9" r="2.75" fill="#0089fa"/>
<circle cx="181.8" cy="622.0" r="2.75" fill="#008bfb"/>
<circle cx="195.5" cy="622.2" r="2.75" fill="#0087fa"/>
<circle cx="179.5" cy="622.2" r="2.75" fill="#008bfb"/>
<circle cx="197.8" cy="622.0" r="2.75" fill="#008bfb"/>
<circle cx="184.1" cy="622.2" r="2.75" fill="#008bfb"/>
<circle cx="211.5" cy="622.1" r="2.75" fill="#008bfb"/>
<circle cx="200.1" cy="622.1" r="2.75" fill="#0085f9"/>
<circle cx="213.8" cy="622.1" r="2.75" fill="#008bfb"/>
<circle cx="206.9" cy="621.8" r="2.75" fill="#008bfb"/>
<circle cx="204.7" cy="621.9" r="2.75" fill="#0086f9"/>
<circle cx="209.2" cy="622.1" r="2.75" fill="#008bfb"/>
<circle cx="187.4" cy="621.8" r="2.75" fill="#0088fa"/>
<circle cx="183.4" cy="622.0" r="2.75" fill="#0087fa"/>
<circle cx="185.1" cy="623.9" r="2.75" fill="#0089fa"/>
<circle cx="185.8" cy="620.1" r="2.75" fill="#008bfb"/>
<circle cx="185.4" cy="622.0" r="2.75" fill="#008afb"/>
<circle cx="181.6" cy="621.7" r="2.75" fill="#008bfb"/>
<circle cx="183.3" cy="623.9" r="2.75" fill="#008bfb"/>
<circle cx="183.4" cy="620.1" r="2.75" fill="#008bfb"/>
<circle cx="222.8" cy="622.0" r="2.75" fill="#0087fa"/>
<circle cx="251.1" cy="621.7" r="2.75" fill="#0089fa"/>
<circle cx="248.7" cy="622.3" r="2.75" fill="#008bfb"/>
<circle cx="248.7" cy="621.7" r="2.75" fill="#008afb"/>
<circle cx="257.8" cy="622.3" r="2.75" fill="#0087fa"/>
<circle cx="259.7" cy="621.7" r="2.75" fill="#008bfb"/>
<circle cx="252.9" cy="622.3" r="2.75" fill="#0086fa"/>
<circle cx="248.7" cy="622.0" r="2.75" fill="#008bfb"/>
<circle cx="253.4" cy="622.0" r="2.75" fill="#008bfb"/>
<circle cx="261.9" cy="622.0" r="2.75" fill="#008bfb"/>
<circle cx="264.5" cy="622.3" r="2.75" fill="#008afb"/>
<circle cx="262.1" cy="622.3" r="2.75" fill="#0085f9"/>
<circle cx="243.7" cy="622.0" r="2.75" fill="#0086f9"/>
<circle cx="259.9" cy="622.0" r="2.75" fill="#0085f9"/>
<circle cx="264.5" cy="622.0" r="2.75" fill="#008bfb"/>
<circle cx="246.3" cy="622.0" r="2.75" fill="#008bfb"/>
<circle cx="260.0" cy="622.3" r="2.75" fill="#008bfb"/>
<circle cx="253.6" cy="621.7" r="2.75" fill="#008bfb"/>
<circle cx="241.6" cy="622.3" r="2.75" fill="#008bfb"/>
<circle cx="244.1" cy="621.7" r="2.75" fill="#008bfb"/>
<circle cx="257.5" cy="621.7" r="2.75" fill="#008bfb"/>
<circle cx="243.9" cy="622.3" r="2.75" fill="#008bfb"/>
<circle cx="250.8" cy="622.0" r="2.75" fill="#008afb"/>
<circle cx="262.1" cy="621.7" r="2.75" fill="#008bfb"/>
<circle cx="241.5" cy="622.0" r="2.75" fill="#0087fa"/>
<circle cx="246.4" cy="621.7" r="2.75" fill="#008bfb"/>
<circle cx="266.9" cy="621.9" r="2.75" fill="#0089fa"/>
<circle cx="239.5" cy="622.1" r="2.75" fill="#008bfb"/>
<circle cx="255.6" cy="622.3" r="2.75" fill="#0088fa"/>
<circle cx="250.5" cy="622.3" r="2.75" fill="#0088fa"/>
<circle cx="264.4" cy="621.7" r="2.75" fill="#0085f9"/>
<circle cx="257.4" cy="622.0" r="2.75" fill="#008bfb"/>
<circle cx="255.2" cy="621.7" r="2.75" fill="#0086f9"/>
<circle cx="242.1" cy="621.7" r="2.75" fill="#008bfb"/>
<circle cx="246.7" cy="622.3" r="2.75" fill="#008bfb"/>
<circle cx="255.3" cy="622.0" r="2.75" fill="#008bfb"/>
<circle cx="255.0" cy="623.5" r="2.75" fill="#008bfb"/>
<circle cx="247.8" cy="622.0" r="2.75" fill="#0087fa"/>
<circle cx="256.7" cy="621.0" r="2.75" fill="#008bfb"/>
<circle cx="254.9" cy="625.1" r="2.75" fill="#008bfb"/>
<circle cx="251.5" cy="620.5" r="2.75" fill="#008bfb"/>
<circle cx="252.9" cy="623.5" r="2.75" fill="#0086fa"/>
<circle cx="249.5" cy="618.9" r="2.75" fill="#008bfb"/>
<circle cx="251.2" cy="619.0" r="2.75" fill="#0085f9"/>
<circle cx="247.6" cy="621.0" r="2.75" fill="#008bfb"/>
<circle cx="252.9" cy="625.0" r="2.75" fill="#008bfb"/>
<circle cx="253.3" cy="619.0" r="2.75" fill="#008bfb"/>
<circle cx="254.8" cy="622.0" r="2.75" fill="#0089fa"/>
<circle cx="256.0" cy="622.0" r="2.75" fill="#008bfb"/>
<circle cx="249.7" cy="620.5" r="2.75" fill="#0089fa"/>
<circle cx="251.3" cy="622.0" r="2.75" fill="#008bfb"/>
<circle cx="251.3" cy="617.5" r="2.75" fill="#008bfb"/>
<circle cx="252.8" cy="620.5" r="2.75" fill="#008bfb"/>
<circle cx="254.8" cy="618.9" r="2.75" fill="#0088fa"/>
<circle cx="253.3" cy="626.5" r="2.75" fill="#008bfb"/>
<circle cx="247.5" cy="623.0" r="2.75" fill="#008bfb"/>
<circle cx="254.4" cy="620.5" r="2.75" fill="#0089fa"/>
<circle cx="252.8" cy="617.5" r="2.75" fill="#0087fa"/>
<circle cx="251.0" cy="625.0" r="2.75" fill="#008bfb"/>
<circle cx="249.0" cy="625.1" r="2.75" fill="#0085f9"/>
<circle cx="251.5" cy="626.5" r="2.75" fill="#0086f9"/>
<circle cx="250.8" cy="623.5" r="2.75" fill="#008bfb"/>
<circle cx="253.1" cy="622.0" r="2.75" fill="#008bfb"/>
<circle cx="249.0" cy="622.0" r="2.75" fill="#008bfb"/>
<circle cx="256.2" cy="623.0" r="2.75" fill="#008afb"/>
<circle cx="249.7" cy="623.5" r="2.75" fill="#008afb"/>
<circle cx="338.8" cy="622.0" r="2.75" fill="#4665e4"/>
<circle cx="355.2" cy="622.1" r="2.75" fill="#3c67e7"/>
<circle cx="353.5" cy="621.7" r="2.75" fill="#286cea"/>
<circle cx="372.1" cy="622.0" r="2.75" fill="#ff0053"/>
<circle cx="370.0" cy="622.0" r="2.75" fill="#4c63e3"/>
<circle cx="367.9" cy="622.3" r="2.75" fill="#ff0055"/>
<circle cx="378.0" cy="622.0" r="2.75" fill="#575fdf"/>
<circle cx="388.0" cy="622.5" r="2.75" fill="#5360e1"/>
<circle cx="388.0" cy="622.0" r="2.75" fill="#4465e5"/>
<circle cx="388.2" cy="621.5" r="2.75" fill="#565fe0"/>
<circle cx="392.9" cy="622.0" r="2.75" fill="#ff0051"/>
<circle cx="390.5" cy="622.0" r="2.75" fill="#d5008f"/>
<circle cx="385.9" cy="621.9" r="2.75" fill="#ff0057"/>
<circle cx="391.0" cy="623.3" r="2.75" fill="#d9008c"/>
<circle cx="390.3" cy="620.7" r="2.75" fill="#296cea"/>
<circle cx="399.7" cy="622.0" r="2.75" fill="#d30090"/>
<circle cx="408.5" cy="622.0" r="2.75" fill="#ac16a7"/>
<circle cx="437.5" cy="622.3" r="2.75" fill="#7251d3"/>
<circle cx="423.2" cy="622.2" r="2.75" fill="#784dcf"/>
<circle cx="447.1" cy="622.2" r="2.75" fill="#8542c5"/>
<circle cx="439.9" cy="622.1" r="2.75" fill="#7b4bcd"/>
<circle cx="432.8" cy="621.8" r="2.75" fill="#794cce"/>
<circle cx="435.1" cy="621.9" r="2.75" fill="#883fc3"/>
<circle cx="444.7" cy="622.1" r="2.75" fill="#7350d2"/>
<circle cx="449.5" cy="622.3" r="2.75" fill="#7a4bce"/>
<circle cx="428.0" cy="622.0" r="2.75" fill="#7e49cb"/>
<circle cx="425.6" cy="621.8" r="2.75" fill="#784dcf"/>
<circle cx="430.4" cy="622.0" r="2.75" fill="#794dcf"/>
<circle cx="420.8" cy="622.0" r="2.75" fill="#764ed0"/>
<circle cx="442.3" cy="622.0" r="2.75" fill="#8542c5"/>
<circle cx="104.6" cy="637.7" r="2.75" fill="#555fe0"/>
<circle cx="116.0" cy="637.7" r="2.75" fill="#2e6be9"/>
<circle cx="117.5" cy="637.7" r="2.75" fill="#3769e8"/>
<circle cx="126.5" cy="637.7" r="2.75" fill="#595edf"/>
<circle cx="129.7" cy="637.7" r="2.75" fill="#3569e8"/>
<circle cx="143.0" cy="637.7" r="2.75" fill="#5560e0"/>
<circle cx="145.0" cy="637.7" r="2.75" fill="#326ae9"/>
<circle cx="150.5" cy="637.7" r="2.75" fill="#3b68e7"/>
<circle cx="153.0" cy="637.7" r="2.75" fill="#3c68e7"/>
<circle cx="155.0" cy="637.7" r="2.75" fill="#3f67e6"/>
<circle cx="160.3" cy="637.7" r="2.75" fill="#336ae8"/>
<circle cx="209.7" cy="637.7" r="2.75" fill="#9a27af"/>
<circle cx="216.3" cy="637.7" r="2.75" fill="#ae14a6"/>
<circle cx="224.0" cy="637.7" r="2.75" fill="#9f21ac"/>
<circle cx="230.5" cy="637.7" r="2.75" fill="#ff0051"/>
<circle cx="228.5" cy="637.8" r="2.75" fill="#ff0052"/>
<circle cx="235.2" cy="637.9" r="2.75" fill="#9b24ae"/>
<circle cx="243.3" cy="639.6" r="2.75" fill="#ff0051"/>
<circle cx="245.3" cy="637.7" r="2.75" fill="#ff0055"/>
<circle cx="246.9" cy="637.7" r="2.75" fill="#ff0055"/>
<circle cx="246.6" cy="636.1" r="2.75" fill="#ff0051"/>
<circle cx="245.5" cy="634.6" r="2.75" fill="#ff0058"/>
<circle cx="250.2" cy="638.0" r="2.75" fill="#ff0051"/>
<circle cx="243.0" cy="637.7" r="2.75" fill="#ff0051"/>
<circle cx="241.9" cy="637.4" r="2.75" fill="#ff0051"/>
<circle cx="241.2" cy="638.0" r="2.75" fill="#ff0051"/>
<circle cx="248.3" cy="639.6" r="2.75" fill="#ff005a"/>
<circle cx="246.8" cy="639.2" r="2.75" fill="#ff0051"/>
<circle cx="250.1" cy="637.4" r="2.75" fill="#ff0051"/>
<circle cx="245.0" cy="636.1" r="2.75" fill="#ff0051"/>
<circle cx="244.7" cy="639.2" r="2.75" fill="#ff0051"/>
<circle cx="248.9" cy="635.7" r="2.75" fill="#ff0058"/>
<circle cx="246.7" cy="640.7" r="2.75" fill="#ff0056"/>
<circle cx="243.0" cy="635.7" r="2.75" fill="#ff0051"/>
<circle cx="246.9" cy="634.6" r="2.75" fill="#ff0059"/>
<circle cx="245.1" cy="640.7" r="2.75" fill="#ff0058"/>
<circle cx="241.4" cy="637.7" r="2.75" fill="#ff0056"/>
<circle cx="248.8" cy="637.7" r="2.75" fill="#ff0051"/>
<circle cx="250.0" cy="637.7" r="2.75" fill="#ff0051"/>
<circle cx="255.7" cy="637.6" r="2.75" fill="#ae14a6"/>
<circle cx="264.3" cy="637.7" r="2.75" fill="#ff0051"/>
<circle cx="272.2" cy="637.5" r="2.75" fill="#af13a6"/>
<circle cx="276.7" cy="637.9" r="2.75" fill="#a61ca9"/>
<circle cx="274.4" cy="637.7" r="2.75" fill="#9a26af"/>
<circle cx="278.9" cy="637.6" r="2.75" fill="#a41daa"/>
<circle cx="291.5" cy="637.7" r="2.75" fill="#982bb2"/>
<circle cx="288.2" cy="637.6" r="2.75" fill="#a21fab"/>
<circle cx="295.6" cy="637.6" r="2.75" fill="#ff0051"/>
<circle cx="303.2" cy="637.7" r="2.75" fill="#aa18a8"/>
<circle cx="322.0" cy="637.7" r="2.75" fill="#008bfb"/>
<circle cx="333.2" cy="637.7" r="2.75" fill="#008bfb"/>
<circle cx="331.0" cy="637.7" r="2.75" fill="#0089fa"/>
<circle cx="326.5" cy="637.6" r="2.75" fill="#008bfb"/>
<circle cx="324.2" cy="637.8" r="2.75" fill="#008bfb"/>
<circle cx="328.8" cy="637.5" r="2.75" fill="#008afb"/>
<circle cx="335.5" cy="637.5" r="2.75" fill="#0089fa"/>
<circle cx="348.0" cy="637.7" r="2.75" fill="#982bb2"/>
<circle cx="377.7" cy="637.0" r="2.75" fill="#008afb"/>
<circle cx="380.2" cy="637.4" r="2.75" fill="#008bfb"/>
<circle cx="369.0" cy="638.5" r="2.75" fill="#0088fa"/>
<circle cx="375.8" cy="637.6" r="2.75" fill="#0086f9"/>
<circle cx="380.6" cy="638.0" r="2.75" fill="#0087fa"/>
<circle cx="360.1" cy="637.2" r="2.75" fill="#0089fa"/>
<circle cx="362.3" cy="636.9" r="2.75" fill="#0087fa"/>
<circle cx="371.5" cy="636.8" r="2.75" fill="#008bfb"/>
<circle cx="377.7" cy="637.7" r="2.75" fill="#008bfb"/>
<circle cx="362.2" cy="638.5" r="2.75" fill="#0087fa"/>
<circle cx="380.1" cy="637.7" r="2.75" fill="#008bfb"/>
<circle cx="373.5" cy="637.7" r="2.75" fill="#008bfb"/>
<circle cx="366.9" cy="637.1" r="2.75" fill="#0087fa"/>
<circle cx="367.1" cy="637.7" r="2.75" fill="#0088fa"/>
<circle cx="366.6" cy="638.3" r="2.75" fill="#008bfb"/>
<circle cx="360.0" cy="638.1" r="2.75" fill="#008bfb"/>
<circle cx="373.2" cy="638.4" r="2.75" fill="#008afb"/>
<circle cx="378.4" cy="638.3" r="2.75" fill="#0086f9"/>
<circle cx="382.5" cy="637.4" r="2.75" fill="#0089fa"/>
<circle cx="369.4" cy="637.7" r="2.75" fill="#0086fa"/>
<circle cx="360.3" cy="637.7" r="2.75" fill="#008bfb"/>
<circle cx="362.4" cy="637.7" r="2.75" fill="#008afb"/>
<circle cx="364.7" cy="637.4" r="2.75" fill="#008bfb"/>
<circle cx="369.1" cy="636.9" r="2.75" fill="#008bfb"/>
<circle cx="371.4" cy="637.7" r="2.75" fill="#008bfb"/>
<circle cx="373.8" cy="636.9" r="2.75" fill="#008bfb"/>
<circle cx="371.4" cy="638.6" r="2.75" fill="#008bfb"/>
<circle cx="358.0" cy="637.9" r="2.75" fill="#0089fa"/>
<circle cx="370.6" cy="639.0" r="2.75" fill="#008bfb"/>
<circle cx="377.4" cy="635.8" r="2.75" fill="#008bfb"/>
<circle cx="372.1" cy="635.8" r="2.75" fill="#008bfb"/>
<circle cx="375.3" cy="633.1" r="2.75" fill="#008bfb"/>
<circle cx="380.4" cy="638.6" r="2.75" fill="#0086fa"/>
<circle cx="378.4" cy="635.1" r="2.75" fill="#0089fa"/>
<circle cx="375.3" cy="639.2" r="2.75" fill="#008bfb"/>
<circle cx="375.5" cy="640.8" r="2.75" fill="#008afb"/>
<circle cx="376.8" cy="637.7" r="2.75" fill="#0086fa"/>
<circle cx="370.3" cy="640.2" r="2.75" fill="#008bfb"/>
<circle cx="368.8" cy="638.6" r="2.75" fill="#008bfb"/>
<circle cx="370.3" cy="637.7" r="2.75" fill="#0089fa"/>
<circle cx="371.7" cy="637.7" r="2.75" fill="#008afb"/>
<circle cx="379.0" cy="637.7" r="2.75" fill="#008bfb"/>
<circle cx="375.1" cy="637.7" r="2.75" fill="#008bfb"/>
<circle cx="380.5" cy="637.7" r="2.75" fill="#008bfb"/>
<circle cx="368.9" cy="637.7" r="2.75" fill="#0089fa"/>
<circle cx="375.5" cy="634.6" r="2.75" fill="#008bfb"/>
<circle cx="378.4" cy="640.2" r="2.75" fill="#0086f9"/>
<circle cx="368.7" cy="636.7" r="2.75" fill="#0086f9"/>
<circle cx="373.8" cy="639.2" r="2.75" fill="#0085f9"/>
<circle cx="372.0" cy="641.5" r="2.75" fill="#008bfb"/>
<circle cx="378.9" cy="639.0" r="2.75" fill="#008afb"/>
<circle cx="373.5" cy="636.1" r="2.75" fill="#008bfb"/>
<circle cx="373.7" cy="634.6" r="2.75" fill="#008bfb"/>
<circle cx="375.1" cy="636.1" r="2.75" fill="#008bfb"/>
<circle cx="373.8" cy="637.7" r="2.75" fill="#008bfb"/>
<circle cx="375.0" cy="642.3" r="2.75" fill="#0086f9"/>
<circle cx="376.9" cy="641.5" r="2.75" fill="#0088fa"/>
<circle cx="369.9" cy="635.1" r="2.75" fill="#008bfb"/>
<circle cx="376.8" cy="633.9" r="2.75" fill="#008bfb"/>
<circle cx="373.6" cy="640.8" r="2.75" fill="#0086f9"/>
<circle cx="373.5" cy="642.3" r="2.75" fill="#008bfb"/>
<circle cx="371.6" cy="633.9" r="2.75" fill="#0087fa"/>
<circle cx="377.2" cy="639.6" r="2.75" fill="#0087fa"/>
<circle cx="370.6" cy="636.4" r="2.75" fill="#008bfb"/>
<circle cx="372.4" cy="639.6" r="2.75" fill="#0086f9"/>
<circle cx="380.6" cy="636.7" r="2.75" fill="#0089fa"/>
<circle cx="378.7" cy="636.4" r="2.75" fill="#008bfb"/>
<circle cx="374.0" cy="633.1" r="2.75" fill="#008bfb"/>
<circle cx="392.4" cy="637.7" r="2.75" fill="#0085f9"/>
<circle cx="392.7" cy="636.5" r="2.75" fill="#008bfb"/>
<circle cx="393.1" cy="638.9" r="2.75" fill="#008afb"/>
<circle cx="390.5" cy="637.7" r="2.75" fill="#008bfb"/>
<circle cx="395.5" cy="637.8" r="2.75" fill="#008bfb"/>
<circle cx="387.5" cy="637.7" r="2.75" fill="#008afb"/>
<circle cx="390.5" cy="638.4" r="2.75" fill="#008afb"/>
<circle cx="390.2" cy="636.9" r="2.75" fill="#008bfb"/>
<circle cx="401.3" cy="638.8" r="2.75" fill="#008afb"/>
<circle cx="404.5" cy="637.7" r="2.75" fill="#008bfb"/>
<circle cx="399.9" cy="637.4" r="2.75" fill="#008bfb"/>
<circle cx="399.5" cy="637.7" r="2.75" fill="#008bfb"/>
<circle cx="404.7" cy="635.4" r="2.75" fill="#008bfb"/>
<circle cx="403.2" cy="636.0" r="2.75" fill="#0086f9"/>
<circle cx="406.4" cy="637.7" r="2.75" fill="#0087fa"/>
<circle cx="401.2" cy="636.5" r="2.75" fill="#0088fa"/>
<circle cx="404.7" cy="640.0" r="2.75" fill="#0085f9"/>
<circle cx="404.7" cy="638.8" r="2.75" fill="#008afb"/>
<circle cx="404.9" cy="636.5" r="2.75" fill="#0087fa"/>
<circle cx="401.6" cy="640.0" r="2.75" fill="#008bfb"/>
<circle cx="403.0" cy="637.7" r="2.75" fill="#008bfb"/>
<circle cx="401.0" cy="635.4" r="2.75" fill="#008bfb"/>
<circle cx="403.4" cy="634.4" r="2.75" fill="#0088fa"/>
<circle cx="399.9" cy="638.0" r="2.75" fill="#008bfb"/>
<circle cx="406.6" cy="638.0" r="2.75" fill="#0087fa"/>
<circle cx="402.7" cy="641.0" r="2.75" fill="#0087fa"/>
<circle cx="403.3" cy="639.3" r="2.75" fill="#008bfb"/>
<circle cx="401.1" cy="637.7" r="2.75" fill="#008afb"/>
<circle cx="406.0" cy="637.4" r="2.75" fill="#0088fa"/>
<circle cx="409.5" cy="637.8" r="2.75" fill="#008bfb"/>
<circle cx="430.8" cy="637.5" r="2.75" fill="#008bfb"/>
<circle cx="428.4" cy="637.9" r="2.75" fill="#008bfb"/>
<circle cx="414.2" cy="637.5" r="2.75" fill="#008bfb"/>
<circle cx="435.5" cy="637.5" r="2.75" fill="#0089fa"/>
<circle cx="416.6" cy="637.6" r="2.75" fill="#0086fa"/>
<circle cx="411.9" cy="637.9" r="2.75" fill="#0088fa"/>
<circle cx="419.0" cy="637.6" r="2.75" fill="#008bfb"/>
<circle cx="421.3" cy="637.9" r="2.75" fill="#0087fa"/>
<circle cx="423.7" cy="637.5" r="2.75" fill="#0087fa"/>
<circle cx="426.0" cy="637.9" r="2.75" fill="#0087fa"/>
<circle cx="433.1" cy="637.7" r="2.75" fill="#008bfb"/>
<circle cx="203.7" cy="653.7" r="2.75" fill="#9f21ac"/>
<circle cx="205.8" cy="653.4" r="2.75" fill="#5460e0"/>
<circle cx="188.9" cy="653.4" r="2.75" fill="#3669e8"/>
<circle cx="194.3" cy="653.4" r="2.75" fill="#ae13a6"/>
<circle cx="193.8" cy="653.4" r="2.75" fill="#2e6be9"/>
<circle cx="196.4" cy="653.4" r="2.75" fill="#4864e4"/>
<circle cx="182.3" cy="653.1" r="2.75" fill="#4266e5"/>
<circle cx="179.6" cy="654.2" r="2.75" fill="#326ae9"/>
<circle cx="184.1" cy="653.4" r="2.75" fill="#4066e6"/>
<circle cx="177.3" cy="653.5" r="2.75" fill="#5261e1"/>
<circle cx="200.9" cy="653.4" r="2.75" fill="#5560e0"/>
<circle cx="182.3" cy="653.6" r="2.75" fill="#5a5ede"/>
<circle cx="200.8" cy="652.0" r="2.75" fill="#3569e8"/>
<circle cx="191.2" cy="654.3" r="2.75" fill="#ae14a6"/>
<circle cx="208.3" cy="653.4" r="2.75" fill="#2b6bea"/>
<circle cx="184.1" cy="653.5" r="2.75" fill="#2f6be9"/>
<circle cx="193.7" cy="653.3" r="2.75" fill="#aa18a8"/>
<circle cx="186.7" cy="653.4" r="2.75" fill="#4964e4"/>
<circle cx="199.0" cy="653.7" r="2.75" fill="#a120ab"/>
<circle cx="196.4" cy="653.8" r="2.75" fill="#982ab2"/>
<circle cx="198.5" cy="653.0" r="2.75" fill="#a120ab"/>
<circle cx="201.2" cy="654.7" r="2.75" fill="#3f67e6"/>
<circle cx="198.8" cy="653.4" r="2.75" fill="#4465e5"/>
<circle cx="189.0" cy="652.5" r="2.75" fill="#2b6bea"/>
<circle cx="179.9" cy="652.5" r="2.75" fill="#4166e6"/>
<circle cx="192.0" cy="653.4" r="2.75" fill="#a41daa"/>
<circle cx="205.7" cy="654.0" r="2.75" fill="#4466e5"/>
<circle cx="187.2" cy="654.1" r="2.75" fill="#286cea"/>
<circle cx="187.1" cy="652.7" r="2.75" fill="#3e67e6"/>
<circle cx="189.0" cy="654.2" r="2.75" fill="#4565e5"/>
<circle cx="192.0" cy="652.4" r="2.75" fill="#a41daa"/>
<circle cx="184.8" cy="653.2" r="2.75" fill="#4864e4"/>
<circle cx="196.3" cy="652.9" r="2.75" fill="#9b24ad"/>
<circle cx="203.2" cy="653.0" r="2.75" fill="#4565e5"/>
<circle cx="205.8" cy="652.7" r="2.75" fill="#2a6bea"/>
<circle cx="182.0" cy="653.4" r="2.75" fill="#2e6be9"/>
<circle cx="203.5" cy="653.4" r="2.75" fill="#306ae9"/>
<circle cx="179.9" cy="653.4" r="2.75" fill="#4765e4"/>
<circle cx="192.2" cy="652.4" r="2.75" fill="#9d23ad"/>
<circle cx="198.7" cy="651.8" r="2.75" fill="#ac16a7"/>
<circle cx="200.1" cy="652.4" r="2.75" fill="#9f21ac"/>
<circle cx="194.1" cy="654.9" r="2.75" fill="#a020ac"/>
<circle cx="194.5" cy="651.8" r="2.75" fill="#9b24ae"/>
<circle cx="195.8" cy="648.9" r="2.75" fill="#a21fab"/>
<circle cx="192.6" cy="653.4" r="2.75" fill="#a81aa9"/>
<circle cx="195.5" cy="650.4" r="2.75" fill="#9e22ac"/>
<circle cx="196.1" cy="651.9" r="2.75" fill="#a61ba9"/>
<circle cx="197.2" cy="653.4" r="2.75" fill="#a21fab"/>
<circle cx="195.7" cy="656.4" r="2.75" fill="#982bb2"/>
<circle cx="197.5" cy="654.9" r="2.75" fill="#ae14a6"/>
<circle cx="195.8" cy="654.9" r="2.75" fill="#9c23ad"/>
<circle cx="194.4" cy="656.5" r="2.75" fill="#a31eaa"/>
<circle cx="200.1" cy="653.4" r="2.75" fill="#ae14a6"/>
<circle cx="198.8" cy="656.5" r="2.75" fill="#9b25ae"/>
<circle cx="194.0" cy="653.4" r="2.75" fill="#9829b1"/>
<circle cx="197.4" cy="650.4" r="2.75" fill="#9b25ae"/>
<circle cx="198.5" cy="654.9" r="2.75" fill="#9a27af"/>
<circle cx="194.2" cy="650.3" r="2.75" fill="#ab17a7"/>
<circle cx="197.5" cy="657.9" r="2.75" fill="#a31eab"/>
<circle cx="195.5" cy="653.4" r="2.75" fill="#982ab2"/>
<circle cx="196.9" cy="648.9" r="2.75" fill="#9c23ad"/>
<circle cx="197.0" cy="651.9" r="2.75" fill="#a21fab"/>
<circle cx="192.7" cy="654.3" r="2.75" fill="#9a26af"/>
<circle cx="200.6" cy="654.3" r="2.75" fill="#9d23ad"/>
<circle cx="197.6" cy="656.4" r="2.75" fill="#ad15a7"/>
<circle cx="195.4" cy="657.9" r="2.75" fill="#a120ab"/>
<circle cx="198.5" cy="650.3" r="2.75" fill="#9b24ae"/>
<circle cx="199.0" cy="653.4" r="2.75" fill="#a51daa"/>
<circle cx="216.3" cy="653.4" r="2.75" fill="#2e6be9"/>
<circle cx="224.0" cy="653.4" r="2.75" fill="#a31eab"/>
<circle cx="245.5" cy="653.2" r="2.75" fill="#a021ac"/>
<circle cx="238.5" cy="653.4" r="2.75" fill="#9929b1"/>
<circle cx="243.2" cy="653.4" r="2.75" fill="#a819a8"/>
<circle cx="240.8" cy="653.1" r="2.75" fill="#316ae9"/>
<circle cx="269.0" cy="653.4" r="2.75" fill="#ad15a7"/>
<circle cx="271.2" cy="653.6" r="2.75" fill="#4864e4"/>
<circle cx="266.8" cy="653.5" r="2.75" fill="#df0087"/>
<circle cx="277.9" cy="653.1" r="2.75" fill="#d30091"/>
<circle cx="260.2" cy="653.4" r="2.75" fill="#9929b1"/>
<circle cx="262.4" cy="653.1" r="2.75" fill="#a71ba9"/>
<circle cx="273.5" cy="653.1" r="2.75" fill="#296bea"/>
<circle cx="275.7" cy="653.4" r="2.75" fill="#9a25ae"/>
<circle cx="280.1" cy="653.5" r="2.75" fill="#d5008f"/>
<circle cx="264.6" cy="653.6" r="2.75" fill="#dd0089"/>
<circle cx="282.3" cy="653.2" r="2.75" fill="#9b25ae"/>
<circle cx="284.5" cy="653.1" r="2.75" fill="#9d22ad"/>
<circle cx="291.0" cy="653.4" r="2.75" fill="#4565e5"/>
<circle cx="297.7" cy="653.4" r="2.75" fill="#ff0058"/>
<circle cx="301.0" cy="653.4" r="2.75" fill="#008bfb"/>
<circle cx="372.8" cy="655.8" r="2.75" fill="#9929b1"/>
<circle cx="353.6" cy="651.9" r="2.75" fill="#0087fa"/>
<circle cx="337.4" cy="655.9" r="2.75" fill="#0088fa"/>
<circle cx="386.6" cy="652.3" r="2.75" fill="#008bfb"/>
<circle cx="395.2" cy="653.4" r="2.75" fill="#0087fa"/>
<circle cx="367.8" cy="651.9" r="2.75" fill="#982ab2"/>
<circle cx="375.1" cy="654.9" r="2.75" fill="#0085f9"/>
<circle cx="344.7" cy="653.9" r="2.75" fill="#008bfb"/>
<circle cx="326.2" cy="651.8" r="2.75" fill="#008bfb"/>
<circle cx="316.8" cy="653.4" r="2.75" fill="#008bfb"/>
<circle cx="358.6" cy="653.4" r="2.75" fill="#0089fa"/>
<circle cx="358.4" cy="654.9" r="2.75" fill="#008bfb"/>
<circle cx="397.9" cy="652.1" r="2.75" fill="#0089fa"/>
<circle cx="376.8" cy="651.3" r="2.75" fill="#ff0055"/>
<circle cx="328.1" cy="650.9" r="2.75" fill="#0087fa"/>
<circle cx="388.6" cy="651.7" r="2.75" fill="#008bfb"/>
<circle cx="328.2" cy="652.1" r="2.75" fill="#008bfb"/>
<circle cx="395.2" cy="654.6" r="2.75" fill="#0086fa"/>
<circle cx="319.3" cy="652.0" r="2.75" fill="#0088fa"/>
<circle cx="344.7" cy="653.4" r="2.75" fill="#008bfb"/>
<circle cx="379.2" cy="653.9" r="2.75" fill="#008afb"/>
<circle cx="353.7" cy="654.8" r="2.75" fill="#ff0058"/>
<circle cx="321.5" cy="654.0" r="2.75" fill="#ff0051"/>
<circle cx="356.4" cy="653.4" r="2.75" fill="#ff0051"/>
<circle cx="332.8" cy="651.9" r="2.75" fill="#008bfb"/>
<circle cx="318.8" cy="654.7" r="2.75" fill="#0089fa"/>
<circle cx="370.4" cy="653.9" r="2.75" fill="#aa18a8"/>
<circle cx="392.9" cy="653.4" r="2.75" fill="#ff0051"/>
<circle cx="384.3" cy="654.9" r="2.75" fill="#008bfb"/>
<circle cx="372.6" cy="652.2" r="2.75" fill="#008bfb"/>
<circle cx="323.4" cy="651.5" r="2.75" fill="#ff0051"/>
<circle cx="347.0" cy="651.9" r="2.75" fill="#008afa"/>
<circle cx="344.5" cy="652.8" r="2.75" fill="#0088fa"/>
<circle cx="386.1" cy="654.4" r="2.75" fill="#008bfb"/>
<circle cx="390.8" cy="653.4" r="2.75" fill="#008afb"/>
<circle cx="372.4" cy="654.6" r="2.75" fill="#ad15a6"/>
<circle cx="402.5" cy="653.3" r="2.75" fill="#008bfb"/>
<circle cx="397.6" cy="650.8" r="2.75" fill="#008bfb"/>
<circle cx="370.2" cy="653.4" r="2.75" fill="#008bfb"/>
<circle cx="365.7" cy="654.2" r="2.75" fill="#008bfb"/>
<circle cx="331.1" cy="652.7" r="2.75" fill="#008bfb"/>
<circle cx="365.2" cy="653.4" r="2.75" fill="#008bfb"/>
<circle cx="324.1" cy="655.2" r="2.75" fill="#ff0051"/>
<circle cx="317.1" cy="655.1" r="2.75" fill="#008afb"/>
<circle cx="376.9" cy="653.4" r="2.75" fill="#ff0051"/>
<circle cx="321.3" cy="653.4" r="2.75" fill="#ff0058"/>
<circle cx="374.8" cy="653.4" r="2.75" fill="#008bfb"/>
<circle cx="323.8" cy="653.4" r="2.75" fill="#ff0051"/>
<circle cx="355.8" cy="652.7" r="2.75" fill="#0088fa"/>
<circle cx="349.2" cy="655.2" r="2.75" fill="#008bfb"/>
<circle cx="337.7" cy="653.4" r="2.75" fill="#0085f9"/>
<circle cx="333.0" cy="653.4" r="2.75" fill="#0085f9"/>
<circle cx="398.1" cy="654.6" r="2.75" fill="#008bfb"/>
<circle cx="347.3" cy="654.9" r="2.75" fill="#008bfb"/>
<circle cx="377.2" cy="655.4" r="2.75" fill="#ff0056"/>
<circle cx="335.7" cy="654.1" r="2.75" fill="#0087fa"/>
<circle cx="330.9" cy="654.0" r="2.75" fill="#008bfb"/>
<circle cx="330.5" cy="653.4" r="2.75" fill="#0087fa"/>
<circle cx="335.2" cy="653.4" r="2.75" fill="#0087fa"/>
<circle cx="386.5" cy="651.2" r="2.75" fill="#008bfb"/>
<circle cx="341.9" cy="651.7" r="2.75" fill="#0089fa"/>
<circle cx="351.2" cy="653.4" r="2.75" fill="#008bfb"/>
<circle cx="337.8" cy="650.8" r="2.75" fill="#008afb"/>
<circle cx="328.3" cy="653.4" r="2.75" fill="#008bfb"/>
<circle cx="363.4" cy="655.9" r="2.75" fill="#008bfb"/>
<circle cx="325.9" cy="653.4" r="2.75" fill="#ff0058"/>
<circle cx="349.4" cy="653.4" r="2.75" fill="#0086f9"/>
<circle cx="398.0" cy="653.4" r="2.75" fill="#008bfb"/>
<circle cx="328.6" cy="655.8" r="2.75" fill="#0086f9"/>
<circle cx="372.8" cy="653.4" r="2.75" fill="#a71aa9"/>
<circle cx="360.5" cy="654.8" r="2.75" fill="#008bfb"/>
<circle cx="395.4" cy="652.1" r="2.75" fill="#ff0058"/>
<circle cx="349.5" cy="651.5" r="2.75" fill="#ff0051"/>
<circle cx="342.1" cy="653.4" r="2.75" fill="#008bfb"/>
<circle cx="337.6" cy="652.1" r="2.75" fill="#008bfb"/>
<circle cx="358.4" cy="651.8" r="2.75" fill="#0087fa"/>
<circle cx="340.3" cy="654.8" r="2.75" fill="#008bfb"/>
<circle cx="360.5" cy="651.9" r="2.75" fill="#008bfb"/>
<circle cx="391.2" cy="652.5" r="2.75" fill="#ff0051"/>
<circle cx="346.9" cy="653.4" r="2.75" fill="#008afb"/>
<circle cx="339.8" cy="653.4" r="2.75" fill="#008afa"/>
<circle cx="342.4" cy="655.1" r="2.75" fill="#0087fa"/>
<circle cx="351.4" cy="655.3" r="2.75" fill="#ff0057"/>
<circle cx="393.5" cy="654.6" r="2.75" fill="#008afb"/>
<circle cx="325.9" cy="654.9" r="2.75" fill="#008bfb"/>
<circle cx="353.5" cy="653.4" r="2.75" fill="#0086f9"/>
<circle cx="318.9" cy="653.4" r="2.75" fill="#008bfb"/>
<circle cx="317.1" cy="651.6" r="2.75" fill="#0088fa"/>
<circle cx="386.6" cy="655.5" r="2.75" fill="#0088fa"/>
<circle cx="388.7" cy="653.4" r="2.75" fill="#0089fa"/>
<circle cx="379.4" cy="653.4" r="2.75" fill="#0086f9"/>
<circle cx="377.0" cy="652.4" r="2.75" fill="#0085f9"/>
<circle cx="399.9" cy="654.5" r="2.75" fill="#008bfb"/>
<circle cx="388.7" cy="655.0" r="2.75" fill="#ff0053"/>
<circle cx="321.3" cy="652.8" r="2.75" fill="#ff0051"/>
<circle cx="381.5" cy="654.7" r="2.75" fill="#008bfb"/>
<circle cx="384.3" cy="651.8" r="2.75" fill="#008bfb"/>
<circle cx="367.4" cy="653.4" r="2.75" fill="#0086f9"/>
<circle cx="377.3" cy="654.4" r="2.75" fill="#ff0054"/>
<circle cx="400.1" cy="652.2" r="2.75" fill="#0086f9"/>
<circle cx="363.4" cy="653.4" r="2.75" fill="#008bfb"/>
<circle cx="398.0" cy="655.9" r="2.75" fill="#0088fa"/>
<circle cx="328.4" cy="654.6" r="2.75" fill="#008bfb"/>
<circle cx="379.0" cy="652.8" r="2.75" fill="#0087fa"/>
<circle cx="374.5" cy="651.8" r="2.75" fill="#0086f9"/>
<circle cx="390.6" cy="654.2" r="2.75" fill="#ff0051"/>
<circle cx="351.3" cy="651.4" r="2.75" fill="#0086f9"/>
<circle cx="314.5" cy="653.1" r="2.75" fill="#0089fa"/>
<circle cx="356.0" cy="654.0" r="2.75" fill="#0088fa"/>
<circle cx="393.5" cy="652.1" r="2.75" fill="#008afb"/>
<circle cx="386.7" cy="653.4" r="2.75" fill="#008afb"/>
<circle cx="363.3" cy="652.1" r="2.75" fill="#0087fa"/>
<circle cx="335.5" cy="652.6" r="2.75" fill="#008bfb"/>
<circle cx="340.3" cy="651.9" r="2.75" fill="#0086fa"/>
<circle cx="337.8" cy="654.6" r="2.75" fill="#008bfb"/>
<circle cx="363.3" cy="654.6" r="2.75" fill="#008bfb"/>
<circle cx="365.2" cy="652.5" r="2.75" fill="#0085f9"/>
<circle cx="381.8" cy="653.4" r="2.75" fill="#ff0057"/>
<circle cx="381.7" cy="652.0" r="2.75" fill="#008bfb"/>
<circle cx="361.0" cy="653.4" r="2.75" fill="#0088fa"/>
<circle cx="369.7" cy="652.8" r="2.75" fill="#0087fa"/>
<circle cx="367.4" cy="654.9" r="2.75" fill="#9929b1"/>
<circle cx="332.9" cy="654.8" r="2.75" fill="#008bfb"/>
<circle cx="363.2" cy="650.8" r="2.75" fill="#008bfb"/>
<circle cx="400.1" cy="653.4" r="2.75" fill="#0086f9"/>
<circle cx="384.0" cy="653.4" r="2.75" fill="#008bfb"/>
<circle cx="372.3" cy="651.0" r="2.75" fill="#0085f9"/>
<circle cx="226.9" cy="669.1" r="2.75" fill="#008bfb"/>
<circle cx="243.8" cy="669.1" r="2.75" fill="#ff0051"/>
<circle cx="241.5" cy="668.8" r="2.75" fill="#ff0055"/>
<circle cx="239.5" cy="668.5" r="2.75" fill="#ff0052"/>
<circle cx="237.1" cy="669.0" r="2.75" fill="#ff0051"/>
<circle cx="234.5" cy="669.0" r="2.75" fill="#ff0053"/>
<circle cx="239.4" cy="669.6" r="2.75" fill="#ff0051"/>
<circle cx="236.7" cy="668.3" r="2.75" fill="#ff0058"/>
<circle cx="234.5" cy="670.0" r="2.75" fill="#ff0053"/>
<circle cx="234.8" cy="668.1" r="2.75" fill="#ff0051"/>
<circle cx="237.2" cy="669.8" r="2.75" fill="#ff0053"/>
<circle cx="232.5" cy="668.9" r="2.75" fill="#ff0051"/>
<circle cx="239.5" cy="669.0" r="2.75" fill="#ff0051"/>
<circle cx="248.8" cy="669.2" r="2.75" fill="#008bfb"/>
<circle cx="251.5" cy="669.2" r="2.75" fill="#5062e2"/>
<circle cx="265.7" cy="669.0" r="2.75" fill="#df0087"/>
<circle cx="273.0" cy="669.0" r="2.75" fill="#e10085"/>
<circle cx="263.3" cy="670.4" r="2.75" fill="#dc0089"/>
<circle cx="268.1" cy="668.5" r="2.75" fill="#d8008c"/>
<circle cx="263.0" cy="669.0" r="2.75" fill="#d8008d"/>
<circle cx="275.3" cy="669.0" r="2.75" fill="#d9008c"/>
<circle cx="272.3" cy="670.3" r="2.75" fill="#d30091"/>
<circle cx="274.7" cy="669.6" r="2.75" fill="#d20092"/>
<circle cx="273.0" cy="667.8" r="2.75" fill="#d5008f"/>
<circle cx="267.5" cy="669.6" r="2.75" fill="#d30090"/>
<circle cx="265.1" cy="669.2" r="2.75" fill="#e00086"/>
<circle cx="268.2" cy="669.0" r="2.75" fill="#d7008e"/>
<circle cx="275.2" cy="668.5" r="2.75" fill="#e00086"/>
<circle cx="262.7" cy="667.6" r="2.75" fill="#db008b"/>
<circle cx="260.5" cy="668.9" r="2.75" fill="#e00086"/>
<circle cx="265.2" cy="668.9" r="2.75" fill="#e00086"/>
<circle cx="277.5" cy="668.9" r="2.75" fill="#dd0088"/>
<circle cx="270.2" cy="669.0" r="2.75" fill="#d8008c"/>
<circle cx="281.6" cy="667.7" r="2.75" fill="#3669e8"/>
<circle cx="283.8" cy="667.7" r="2.75" fill="#3569e8"/>
<circle cx="283.5" cy="671.8" r="2.75" fill="#4c63e3"/>
<circle cx="283.4" cy="666.3" r="2.75" fill="#575fdf"/>
<circle cx="285.6" cy="670.0" r="2.75" fill="#256cea"/>
<circle cx="281.8" cy="664.9" r="2.75" fill="#4f62e2"/>
<circle cx="281.6" cy="671.8" r="2.75" fill="#4964e4"/>
<circle cx="283.5" cy="670.4" r="2.75" fill="#4465e5"/>
<circle cx="283.2" cy="673.2" r="2.75" fill="#4166e6"/>
<circle cx="279.4" cy="670.0" r="2.75" fill="#256cea"/>
<circle cx="285.6" cy="668.1" r="2.75" fill="#3d67e6"/>
<circle cx="279.4" cy="668.1" r="2.75" fill="#4665e4"/>
<circle cx="285.4" cy="669.0" r="2.75" fill="#3c67e7"/>
<circle cx="281.5" cy="670.4" r="2.75" fill="#5a5ede"/>
<circle cx="281.9" cy="673.2" r="2.75" fill="#3d67e7"/>
<circle cx="281.2" cy="666.3" r="2.75" fill="#5460e0"/>
<circle cx="281.4" cy="669.0" r="2.75" fill="#5360e1"/>
<circle cx="279.7" cy="669.0" r="2.75" fill="#5261e1"/>
<circle cx="283.9" cy="664.9" r="2.75" fill="#4565e5"/>
<circle cx="283.8" cy="669.0" r="2.75" fill="#4565e5"/>
<circle cx="290.8" cy="669.0" r="2.75" fill="#9929b0"/>
<circle cx="292.8" cy="669.0" r="2.75" fill="#9927b0"/>
<circle cx="293.1" cy="668.4" r="2.75" fill="#a81aa9"/>
<circle cx="297.2" cy="668.4" r="2.75" fill="#e10085"/>
<circle cx="299.4" cy="669.3" r="2.75" fill="#aa18a8"/>
<circle cx="301.2" cy="667.7" r="2.75" fill="#d10092"/>
<circle cx="290.6" cy="668.0" r="2.75" fill="#9a27af"/>
<circle cx="299.2" cy="668.8" r="2.75" fill="#a120ab"/>
<circle cx="301.0" cy="669.0" r="2.75" fill="#dd0089"/>
<circle cx="294.9" cy="669.2" r="2.75" fill="#e20084"/>
<circle cx="288.5" cy="669.2" r="2.75" fill="#9d23ad"/>
<circle cx="301.0" cy="670.4" r="2.75" fill="#d9008c"/>
<circle cx="298.9" cy="669.0" r="2.75" fill="#ae14a6"/>
<circle cx="297.4" cy="669.0" r="2.75" fill="#df0086"/>
<circle cx="303.5" cy="669.1" r="2.75" fill="#d40090"/>
<circle cx="292.5" cy="669.7" r="2.75" fill="#d10092"/>
<circle cx="290.6" cy="670.1" r="2.75" fill="#ad14a6"/>
<circle cx="297.0" cy="669.7" r="2.75" fill="#ae14a6"/>
<circle cx="308.2" cy="668.7" r="2.75" fill="#ff0051"/>
<circle cx="320.5" cy="669.0" r="2.75" fill="#ff0058"/>
<circle cx="320.9" cy="668.2" r="2.75" fill="#ff0051"/>
<circle cx="318.1" cy="669.5" r="2.75" fill="#9c23ad"/>
<circle cx="315.5" cy="669.0" r="2.75" fill="#9c23ad"/>
<circle cx="318.2" cy="668.6" r="2.75" fill="#ac16a7"/>
<circle cx="322.9" cy="669.3" r="2.75" fill="#db008a"/>
<circle cx="316.0" cy="667.6" r="2.75" fill="#de0088"/>
<circle cx="316.0" cy="670.4" r="2.75" fill="#df0087"/>
<circle cx="318.2" cy="669.0" r="2.75" fill="#d8008c"/>
<circle cx="320.6" cy="669.9" r="2.75" fill="#ff0052"/>
<circle cx="313.5" cy="668.8" r="2.75" fill="#d8008d"/>
<circle cx="325.2" cy="669.1" r="2.75" fill="#d7008e"/>
<circle cx="336.5" cy="669.0" r="2.75" fill="#a919a8"/>
<circle cx="379.8" cy="669.0" r="2.75" fill="#0086fa"/>
<circle cx="363.5" cy="669.0" r="2.75" fill="#565fe0"/>
<circle cx="390.7" cy="668.1" r="2.75" fill="#306ae9"/>
<circle cx="356.6" cy="668.2" r="2.75" fill="#008bfb"/>
<circle cx="375.4" cy="669.0" r="2.75" fill="#0086f9"/>
<circle cx="366.3" cy="669.0" r="2.75" fill="#4e62e2"/>
<circle cx="377.0" cy="667.6" r="2.75" fill="#0088fa"/>
<circle cx="391.3" cy="669.0" r="2.75" fill="#2a6bea"/>
<circle cx="348.0" cy="668.5" r="2.75" fill="#0089fa"/>
<circle cx="389.2" cy="669.0" r="2.75" fill="#008bfb"/>
<circle cx="398.0" cy="669.7" r="2.75" fill="#0088fa"/>
<circle cx="368.3" cy="668.1" r="2.75" fill="#5261e1"/>
<circle cx="352.5" cy="669.0" r="2.75" fill="#008bfb"/>
<circle cx="368.4" cy="670.0" r="2.75" fill="#008bfb"/>
<circle cx="393.4" cy="669.5" r="2.75" fill="#5062e2"/>
<circle cx="361.4" cy="668.7" r="2.75" fill="#5a5ede"/>
<circle cx="375.0" cy="669.2" r="2.75" fill="#0089fa"/>
<circle cx="389.1" cy="669.8" r="2.75" fill="#008bfb"/>
<circle cx="395.7" cy="669.2" r="2.75" fill="#3c68e7"/>
<circle cx="363.7" cy="669.8" r="2.75" fill="#5360e1"/>
<circle cx="402.5" cy="669.1" r="2.75" fill="#0085f9"/>
<circle cx="398.1" cy="669.0" r="2.75" fill="#008bfb"/>
<circle cx="370.6" cy="669.3" r="2.75" fill="#008bfb"/>
<circle cx="389.1" cy="668.2" r="2.75" fill="#0085f9"/>
<circle cx="381.7" cy="669.7" r="2.75" fill="#008bfb"/>
<circle cx="354.6" cy="669.0" r="2.75" fill="#008bfb"/>
<circle cx="400.3" cy="669.0" r="2.75" fill="#008bfb"/>
<circle cx="361.1" cy="669.0" r="2.75" fill="#4f62e2"/>
<circle cx="352.3" cy="667.8" r="2.75" fill="#0085f9"/>
<circle cx="356.7" cy="669.0" r="2.75" fill="#008bfb"/>
<circle cx="393.1" cy="668.6" r="2.75" fill="#0087fa"/>
<circle cx="377.5" cy="669.0" r="2.75" fill="#008bfb"/>
<circle cx="354.6" cy="668.4" r="2.75" fill="#008bfb"/>
<circle cx="384.3" cy="669.3" r="2.75" fill="#0087fa"/>
<circle cx="400.6" cy="668.5" r="2.75" fill="#0085f9"/>
<circle cx="393.2" cy="669.0" r="2.75" fill="#0088fa"/>
<circle cx="347.5" cy="669.0" r="2.75" fill="#0088fa"/>
<circle cx="377.3" cy="670.5" r="2.75" fill="#0087fa"/>
<circle cx="350.1" cy="669.2" r="2.75" fill="#0086f9"/>
<circle cx="381.9" cy="669.0" r="2.75" fill="#0086f9"/>
<circle cx="373.1" cy="669.6" r="2.75" fill="#008afb"/>
<circle cx="386.5" cy="669.0" r="2.75" fill="#008bfb"/>
<circle cx="380.0" cy="669.4" r="2.75" fill="#008bfb"/>
<circle cx="368.1" cy="669.0" r="2.75" fill="#4665e4"/>
<circle cx="361.8" cy="669.3" r="2.75" fill="#3e67e6"/>
<circle cx="363.8" cy="668.3" r="2.75" fill="#246cea"/>
<circle cx="347.9" cy="669.6" r="2.75" fill="#0085f9"/>
<circle cx="365.6" cy="668.2" r="2.75" fill="#008bfb"/>
<circle cx="382.2" cy="668.3" r="2.75" fill="#0086f9"/>
<circle cx="357.1" cy="669.9" r="2.75" fill="#266cea"/>
<circle cx="386.2" cy="668.3" r="2.75" fill="#008bfb"/>
<circle cx="398.1" cy="668.4" r="2.75" fill="#5261e1"/>
<circle cx="359.2" cy="669.1" r="2.75" fill="#4d63e3"/>
<circle cx="352.5" cy="670.3" r="2.75" fill="#0089fa"/>
<circle cx="365.9" cy="669.9" r="2.75" fill="#4565e5"/>
<circle cx="400.0" cy="669.6" r="2.75" fill="#008bfb"/>
<circle cx="386.4" cy="669.8" r="2.75" fill="#0087fa"/>
<circle cx="372.7" cy="669.0" r="2.75" fill="#0088fa"/>
<circle cx="379.6" cy="668.7" r="2.75" fill="#008bfb"/>
<circle cx="372.6" cy="668.5" r="2.75" fill="#008afb"/>
<circle cx="354.7" cy="669.7" r="2.75" fill="#0087fa"/>
<circle cx="390.8" cy="670.0" r="2.75" fill="#4565e5"/>
<circle cx="374.8" cy="668.8" r="2.75" fill="#008bfb"/>
<circle cx="345.5" cy="669.3" r="2.75" fill="#008bfb"/>
<circle cx="221.6" cy="684.7" r="2.75" fill="#a81aa8"/>
<circle cx="228.8" cy="684.7" r="2.75" fill="#a81aa8"/>
<circle cx="245.4" cy="685.0" r="2.75" fill="#d7008d"/>
<circle cx="245.0" cy="684.7" r="2.75" fill="#ff0051"/>
<circle cx="240.2" cy="684.4" r="2.75" fill="#a21fab"/>
<circle cx="247.9" cy="685.0" r="2.75" fill="#dc0089"/>
<circle cx="242.8" cy="684.7" r="2.75" fill="#af13a6"/>
<circle cx="250.2" cy="684.4" r="2.75" fill="#ff0055"/>
<circle cx="243.1" cy="684.4" r="2.75" fill="#ff005a"/>
<circle cx="252.5" cy="684.6" r="2.75" fill="#ff0051"/>
<circle cx="237.9" cy="684.6" r="2.75" fill="#a31eab"/>
<circle cx="247.7" cy="684.7" r="2.75" fill="#ff0051"/>
<circle cx="239.9" cy="684.7" r="2.75" fill="#ff0051"/>
<circle cx="240.2" cy="685.0" r="2.75" fill="#ac16a7"/>
<circle cx="247.8" cy="684.4" r="2.75" fill="#d7008d"/>
<circle cx="244.9" cy="684.4" r="2.75" fill="#ff0051"/>
<circle cx="242.6" cy="685.0" r="2.75" fill="#9f21ac"/>
<circle cx="250.2" cy="684.7" r="2.75" fill="#ff0051"/>
<circle cx="250.1" cy="685.0" r="2.75" fill="#ff0051"/>
<circle cx="257.5" cy="684.7" r="2.75" fill="#008bfb"/>
<circle cx="265.4" cy="684.7" r="2.75" fill="#ff0051"/>
<circle cx="265.4" cy="684.9" r="2.75" fill="#ff0058"/>
<circle cx="267.5" cy="684.9" r="2.75" fill="#ff0051"/>
<circle cx="265.4" cy="684.5" r="2.75" fill="#ff0051"/>
<circle cx="263.5" cy="684.7" r="2.75" fill="#ff0051"/>
<circle cx="274.5" cy="685.7" r="2.75" fill="#d9008c"/>
<circle cx="270.7" cy="686.1" r="2.75" fill="#d40090"/>
<circle cx="272.9" cy="686.1" r="2.75" fill="#d40090"/>
<circle cx="272.1" cy="682.0" r="2.75" fill="#d20091"/>
<circle cx="272.8" cy="687.5" r="2.75" fill="#de0087"/>
<circle cx="268.3" cy="684.7" r="2.75" fill="#d6008e"/>
<circle cx="270.7" cy="682.0" r="2.75" fill="#d6008e"/>
<circle cx="272.1" cy="680.6" r="2.75" fill="#e00086"/>
<circle cx="270.5" cy="680.6" r="2.75" fill="#dd0089"/>
<circle cx="270.7" cy="683.3" r="2.75" fill="#d9008c"/>
<circle cx="272.2" cy="688.9" r="2.75" fill="#d10092"/>
<circle cx="272.6" cy="683.3" r="2.75" fill="#d20092"/>
<circle cx="270.4" cy="688.9" r="2.75" fill="#d6008e"/>
<circle cx="270.9" cy="684.7" r="2.75" fill="#de0087"/>
<circle cx="270.7" cy="687.5" r="2.75" fill="#da008b"/>
<circle cx="268.8" cy="683.8" r="2.75" fill="#d6008f"/>
<circle cx="274.2" cy="684.7" r="2.75" fill="#d8008d"/>
<circle cx="272.5" cy="684.7" r="2.75" fill="#d9008c"/>
<circle cx="274.5" cy="683.8" r="2.75" fill="#d20091"/>
<circle cx="268.6" cy="685.7" r="2.75" fill="#df0086"/>
<circle cx="277.5" cy="684.6" r="2.75" fill="#ad15a6"/>
<circle cx="280.5" cy="684.6" r="2.75" fill="#a71ba9"/>
<circle cx="286.5" cy="684.5" r="2.75" fill="#0086fa"/>
<circle cx="292.1" cy="684.7" r="2.75" fill="#008afb"/>
<circle cx="289.1" cy="683.6" r="2.75" fill="#008afb"/>
<circle cx="288.8" cy="685.8" r="2.75" fill="#008bfb"/>
<circle cx="292.2" cy="685.3" r="2.75" fill="#008bfb"/>
<circle cx="288.8" cy="684.7" r="2.75" fill="#0087fa"/>
<circle cx="291.7" cy="684.2" r="2.75" fill="#0086f9"/>
<circle cx="294.5" cy="684.9" r="2.75" fill="#008bfb"/>
<circle cx="300.0" cy="684.7" r="2.75" fill="#ad15a7"/>
<circle cx="325.7" cy="685.5" r="2.75" fill="#0089fa"/>
<circle cx="334.6" cy="684.7" r="2.75" fill="#0089fa"/>
<circle cx="377.8" cy="684.3" r="2.75" fill="#0087fa"/>
<circle cx="366.4" cy="685.6" r="2.75" fill="#0087fa"/>
<circle cx="389.2" cy="685.8" r="2.75" fill="#0089fa"/>
<circle cx="339.0" cy="684.7" r="2.75" fill="#0087fa"/>
<circle cx="359.9" cy="685.1" r="2.75" fill="#008bfb"/>
<circle cx="355.0" cy="683.8" r="2.75" fill="#0086f9"/>
<circle cx="364.1" cy="685.6" r="2.75" fill="#0089fa"/>
<circle cx="380.4" cy="685.5" r="2.75" fill="#008bfb"/>
<circle cx="370.9" cy="684.2" r="2.75" fill="#008bfb"/>
<circle cx="309.5" cy="684.9" r="2.75" fill="#0089fa"/>
<circle cx="321.2" cy="685.5" r="2.75" fill="#008bfb"/>
<circle cx="318.6" cy="684.7" r="2.75" fill="#0086f9"/>
<circle cx="346.4" cy="684.1" r="2.75" fill="#008bfb"/>
<circle cx="330.3" cy="685.7" r="2.75" fill="#008bfb"/>
<circle cx="321.3" cy="684.0" r="2.75" fill="#008bfb"/>
<circle cx="391.8" cy="684.7" r="2.75" fill="#0086f9"/>
<circle cx="364.6" cy="683.8" r="2.75" fill="#008bfb"/>
<circle cx="334.8" cy="684.7" r="2.75" fill="#0086fa"/>
<circle cx="352.6" cy="684.7" r="2.75" fill="#0088fa"/>
<circle cx="362.2" cy="685.4" r="2.75" fill="#008afb"/>
<circle cx="311.6" cy="684.7" r="2.75" fill="#0086f9"/>
<circle cx="353.0" cy="685.3" r="2.75" fill="#0086fa"/>
<circle cx="346.2" cy="685.3" r="2.75" fill="#0088fa"/>
<circle cx="339.4" cy="685.3" r="2.75" fill="#008afb"/>
<circle cx="313.9" cy="684.7" r="2.75" fill="#008bfb"/>
<circle cx="337.2" cy="685.3" r="2.75" fill="#008bfb"/>
<circle cx="373.2" cy="684.7" r="2.75" fill="#0089fa"/>
<circle cx="327.8" cy="685.5" r="2.75" fill="#008bfb"/>
<circle cx="350.9" cy="684.7" r="2.75" fill="#0089fa"/>
<circle cx="311.9" cy="684.2" r="2.75" fill="#008bfb"/>
<circle cx="332.4" cy="685.2" r="2.75" fill="#008bfb"/>
<circle cx="366.3" cy="684.7" r="2.75" fill="#0087fa"/>
<circle cx="330.1" cy="684.7" r="2.75" fill="#0087fa"/>
<circle cx="385.2" cy="685.5" r="2.75" fill="#0088fa"/>
<circle cx="380.2" cy="684.7" r="2.75" fill="#008bfb"/>
<circle cx="339.2" cy="684.1" r="2.75" fill="#008afb"/>
<circle cx="328.0" cy="684.0" r="2.75" fill="#0085f9"/>
<circle cx="316.5" cy="683.3" r="2.75" fill="#0086f9"/>
<circle cx="332.4" cy="684.7" r="2.75" fill="#0089fa"/>
<circle cx="359.5" cy="684.7" r="2.75" fill="#008bfb"/>
<circle cx="354.9" cy="685.7" r="2.75" fill="#0086f9"/>
<circle cx="350.6" cy="685.9" r="2.75" fill="#008bfb"/>
<circle cx="353.3" cy="684.1" r="2.75" fill="#008bfb"/>
<circle cx="316.1" cy="684.7" r="2.75" fill="#0089fa"/>
<circle cx="344.2" cy="684.8" r="2.75" fill="#008bfb"/>
<circle cx="373.6" cy="684.5" r="2.75" fill="#0088fa"/>
<circle cx="357.5" cy="684.9" r="2.75" fill="#0089fa"/>
<circle cx="341.3" cy="686.1" r="2.75" fill="#008bfb"/>
<circle cx="311.5" cy="685.2" r="2.75" fill="#0086f9"/>
<circle cx="341.9" cy="683.4" r="2.75" fill="#0085f9"/>
<circle cx="386.8" cy="684.0" r="2.75" fill="#0089fa"/>
<circle cx="371.4" cy="685.2" r="2.75" fill="#0085f9"/>
<circle cx="366.9" cy="683.8" r="2.75" fill="#0087fa"/>
<circle cx="389.8" cy="684.7" r="2.75" fill="#008bfb"/>
<circle cx="375.7" cy="684.7" r="2.75" fill="#0087fa"/>
<circle cx="360.1" cy="684.4" r="2.75" fill="#0086f9"/>
<circle cx="384.8" cy="684.7" r="2.75" fill="#0088fa"/>
<circle cx="330.3" cy="683.7" r="2.75" fill="#008bfb"/>
<circle cx="348.4" cy="685.0" r="2.75" fill="#008bfb"/>
<circle cx="375.9" cy="683.3" r="2.75" fill="#0088fa"/>
<circle cx="336.9" cy="684.7" r="2.75" fill="#008bfb"/>
<circle cx="387.5" cy="684.7" r="2.75" fill="#008bfb"/>
<circle cx="389.9" cy="683.7" r="2.75" fill="#008bfb"/>
<circle cx="334.4" cy="684.7" r="2.75" fill="#008bfb"/>
<circle cx="345.7" cy="684.7" r="2.75" fill="#008bfb"/>
<circle cx="371.0" cy="684.7" r="2.75" fill="#008bfb"/>
<circle cx="341.9" cy="684.7" r="2.75" fill="#0088fa"/>
<circle cx="327.9" cy="684.7" r="2.75" fill="#008bfb"/>
<circle cx="387.6" cy="685.4" r="2.75" fill="#0086f9"/>
<circle cx="378.4" cy="684.7" r="2.75" fill="#008bfb"/>
<circle cx="332.5" cy="684.3" r="2.75" fill="#0089fa"/>
<circle cx="385.1" cy="683.9" r="2.75" fill="#0089fa"/>
<circle cx="378.5" cy="685.1" r="2.75" fill="#008bfb"/>
<circle cx="318.7" cy="685.1" r="2.75" fill="#0089fa"/>
<circle cx="337.3" cy="684.1" r="2.75" fill="#008afb"/>
<circle cx="314.2" cy="684.9" r="2.75" fill="#0089fa"/>
<circle cx="351.0" cy="683.5" r="2.75" fill="#008bfb"/>
<circle cx="323.2" cy="685.0" r="2.75" fill="#008bfb"/>
<circle cx="361.7" cy="684.7" r="2.75" fill="#0087fa"/>
<circle cx="364.2" cy="684.7" r="2.75" fill="#0089fa"/>
<circle cx="314.1" cy="684.6" r="2.75" fill="#008bfb"/>
<circle cx="355.5" cy="684.7" r="2.75" fill="#008bfb"/>
<circle cx="344.1" cy="684.7" r="2.75" fill="#0086fa"/>
<circle cx="321.3" cy="684.7" r="2.75" fill="#008bfb"/>
<circle cx="368.9" cy="684.8" r="2.75" fill="#008bfb"/>
<circle cx="373.8" cy="684.9" r="2.75" fill="#008afb"/>
<circle cx="325.8" cy="684.7" r="2.75" fill="#008bfb"/>
<circle cx="362.0" cy="684.0" r="2.75" fill="#008bfb"/>
<circle cx="382.7" cy="684.9" r="2.75" fill="#008bfb"/>
<circle cx="380.2" cy="684.0" r="2.75" fill="#0087fa"/>
<circle cx="325.3" cy="684.0" r="2.75" fill="#008bfb"/>
<circle cx="318.9" cy="684.3" r="2.75" fill="#008bfb"/>
<circle cx="316.5" cy="686.2" r="2.75" fill="#008bfb"/>
<circle cx="376.0" cy="686.2" r="2.75" fill="#008bfb"/>
<circle cx="344.1" cy="684.6" r="2.75" fill="#008bfb"/>
<circle cx="342.3" cy="686.3" r="2.75" fill="#008bfb"/>
<circle cx="345.3" cy="684.7" r="2.75" fill="#0086f9"/>
<circle cx="347.5" cy="685.4" r="2.75" fill="#0085f9"/>
<circle cx="344.0" cy="680.4" r="2.75" fill="#0086fa"/>
<circle cx="347.4" cy="684.7" r="2.75" fill="#008bfb"/>
<circle cx="344.1" cy="689.0" r="2.75" fill="#008bfb"/>
<circle cx="345.4" cy="681.6" r="2.75" fill="#008afb"/>
<circle cx="342.2" cy="684.7" r="2.75" fill="#008bfb"/>
<circle cx="344.3" cy="681.9" r="2.75" fill="#0087fa"/>
<circle cx="343.6" cy="686.2" r="2.75" fill="#0088fa"/>
<circle cx="342.0" cy="683.2" r="2.75" fill="#0086f9"/>
<circle cx="342.5" cy="687.8" r="2.75" fill="#0089fa"/>
<circle cx="346.1" cy="687.8" r="2.75" fill="#008bfb"/>
<circle cx="340.8" cy="684.7" r="2.75" fill="#0089fa"/>
<circle cx="345.3" cy="686.3" r="2.75" fill="#008bfb"/>
<circle cx="346.0" cy="683.2" r="2.75" fill="#0088fa"/>
<circle cx="347.3" cy="684.0" r="2.75" fill="#008bfb"/>
<circle cx="343.7" cy="687.6" r="2.75" fill="#0086fa"/>
<circle cx="344.1" cy="684.7" r="2.75" fill="#0088fa"/>
<circle cx="340.4" cy="685.4" r="2.75" fill="#0088fa"/>
<circle cx="344.4" cy="683.3" r="2.75" fill="#0089fa"/>
<circle cx="340.9" cy="684.0" r="2.75" fill="#0087fa"/>
<circle cx="342.2" cy="681.6" r="2.75" fill="#008bfb"/>
<circle cx="354.2" cy="686.1" r="2.75" fill="#008afa"/>
<circle cx="352.0" cy="681.9" r="2.75" fill="#008bfb"/>
<circle cx="355.6" cy="684.7" r="2.75" fill="#0089fa"/>
<circle cx="350.7" cy="685.0" r="2.75" fill="#0087fa"/>
<circle cx="352.1" cy="683.3" r="2.75" fill="#0087fa"/>
<circle cx="353.7" cy="683.3" r="2.75" fill="#0085f9"/>
<circle cx="350.8" cy="684.4" r="2.75" fill="#0085f9"/>
<circle cx="352.0" cy="684.7" r="2.75" fill="#008bfb"/>
<circle cx="351.9" cy="687.5" r="2.75" fill="#0085f9"/>
<circle cx="350.7" cy="684.7" r="2.75" fill="#0088fa"/>
<circle cx="353.5" cy="681.9" r="2.75" fill="#008bfb"/>
<circle cx="355.0" cy="684.4" r="2.75" fill="#008bfb"/>
<circle cx="353.5" cy="687.5" r="2.75" fill="#008afb"/>
<circle cx="354.1" cy="684.7" r="2.75" fill="#0087fa"/>
<circle cx="352.5" cy="686.1" r="2.75" fill="#008bfb"/>
<circle cx="355.7" cy="685.0" r="2.75" fill="#0086fa"/>
<circle cx="241.1" cy="700.5" r="2.75" fill="#595edf"/>
<circle cx="245.5" cy="700.3" r="2.75" fill="#4266e5"/>
<circle cx="243.3" cy="700.5" r="2.75" fill="#2d6be9"/>
<circle cx="250.2" cy="700.3" r="2.75" fill="#0089fa"/>
<circle cx="263.6" cy="702.2" r="2.75" fill="#3d67e7"/>
<circle cx="260.9" cy="700.4" r="2.75" fill="#007df6"/>
<circle cx="254.6" cy="697.8" r="2.75" fill="#4d63e3"/>
<circle cx="263.7" cy="700.4" r="2.75" fill="#4266e5"/>
<circle cx="265.3" cy="700.1" r="2.75" fill="#4266e5"/>
<circle cx="256.7" cy="702.1" r="2.75" fill="#5560e0"/>
<circle cx="257.1" cy="698.7" r="2.75" fill="#0086f9"/>
<circle cx="253.0" cy="701.5" r="2.75" fill="#008bfb"/>
<circle cx="250.3" cy="700.5" r="2.75" fill="#008bfb"/>
<circle cx="258.7" cy="700.4" r="2.75" fill="#3b68e7"/>
<circle cx="252.9" cy="699.3" r="2.75" fill="#0085f9"/>
<circle cx="250.4" cy="700.4" r="2.75" fill="#0087fa"/>
<circle cx="254.6" cy="701.7" r="2.75" fill="#4565e5"/>
<circle cx="263.3" cy="698.6" r="2.75" fill="#4864e4"/>
<circle cx="261.4" cy="699.2" r="2.75" fill="#007cf5"/>
<circle cx="252.6" cy="698.2" r="2.75" fill="#008afb"/>
<circle cx="261.1" cy="698.0" r="2.75" fill="#007af4"/>
<circle cx="259.0" cy="699.4" r="2.75" fill="#008bfb"/>
<circle cx="257.1" cy="700.4" r="2.75" fill="#008bfb"/>
<circle cx="265.4" cy="700.7" r="2.75" fill="#2d6be9"/>
<circle cx="254.7" cy="703.0" r="2.75" fill="#565fe0"/>
<circle cx="252.6" cy="700.4" r="2.75" fill="#008afb"/>
<circle cx="254.8" cy="699.1" r="2.75" fill="#5061e2"/>
<circle cx="252.3" cy="702.6" r="2.75" fill="#0087fa"/>
<circle cx="265.6" cy="700.4" r="2.75" fill="#007af4"/>
<circle cx="261.6" cy="702.8" r="2.75" fill="#008bfb"/>
<circle cx="260.9" cy="701.6" r="2.75" fill="#0075f1"/>
<circle cx="259.0" cy="701.4" r="2.75" fill="#0076f1"/>
<circle cx="254.7" cy="700.4" r="2.75" fill="#256cea"/>
<circle cx="269.8" cy="699.4" r="2.75" fill="#4b63e3"/>
<circle cx="273.1" cy="702.0" r="2.75" fill="#306ae9"/>
<circle cx="275.4" cy="703.9" r="2.75" fill="#0087fa"/>
<circle cx="271.5" cy="698.6" r="2.75" fill="#0089fa"/>
<circle cx="271.8" cy="703.9" r="2.75" fill="#0089fa"/>
<circle cx="273.8" cy="698.8" r="2.75" fill="#3b68e7"/>
<circle cx="275.0" cy="696.9" r="2.75" fill="#5161e1"/>
<circle cx="269.7" cy="700.4" r="2.75" fill="#008afb"/>
<circle cx="275.1" cy="702.2" r="2.75" fill="#3c68e7"/>
<circle cx="272.1" cy="696.9" r="2.75" fill="#5a5ede"/>
<circle cx="276.8" cy="699.4" r="2.75" fill="#5161e1"/>
<circle cx="271.8" cy="702.2" r="2.75" fill="#0089fa"/>
<circle cx="273.3" cy="697.2" r="2.75" fill="#5460e0"/>
<circle cx="270.0" cy="701.4" r="2.75" fill="#0088fa"/>
<circle cx="275.1" cy="698.6" r="2.75" fill="#008bfb"/>
<circle cx="277.2" cy="701.4" r="2.75" fill="#0086f9"/>
<circle cx="273.5" cy="695.6" r="2.75" fill="#575fdf"/>
<circle cx="273.3" cy="705.2" r="2.75" fill="#4d63e3"/>
<circle cx="275.1" cy="700.4" r="2.75" fill="#008bfb"/>
<circle cx="273.6" cy="703.6" r="2.75" fill="#4565e5"/>
<circle cx="271.5" cy="700.4" r="2.75" fill="#008bfb"/>
<circle cx="276.9" cy="700.4" r="2.75" fill="#565fe0"/>
<circle cx="273.7" cy="700.4" r="2.75" fill="#5460e0"/>
<circle cx="298.8" cy="700.1" r="2.75" fill="#a120ab"/>
<circle cx="289.3" cy="699.3" r="2.75" fill="#575fdf"/>
<circle cx="294.4" cy="701.4" r="2.75" fill="#9f21ac"/>
<circle cx="315.1" cy="701.8" r="2.75" fill="#d30091"/>
<circle cx="309.9" cy="700.0" r="2.75" fill="#ae14a6"/>
<circle cx="294.2" cy="700.4" r="2.75" fill="#5161e1"/>
<circle cx="303.4" cy="700.4" r="2.75" fill="#ac15a7"/>
<circle cx="308.2" cy="700.4" r="2.75" fill="#e20084"/>
<circle cx="319.5" cy="700.4" r="2.75" fill="#d8008c"/>
<circle cx="282.5" cy="700.5" r="2.75" fill="#316ae9"/>
<circle cx="300.8" cy="701.0" r="2.75" fill="#a21fab"/>
<circle cx="291.5" cy="699.7" r="2.75" fill="#4565e5"/>
<circle cx="298.9" cy="700.7" r="2.75" fill="#9f21ac"/>
<circle cx="293.7" cy="699.4" r="2.75" fill="#5261e1"/>
<circle cx="296.0" cy="700.4" r="2.75" fill="#9b24ad"/>
<circle cx="300.8" cy="699.8" r="2.75" fill="#e10084"/>
<circle cx="312.5" cy="700.2" r="2.75" fill="#d40090"/>
<circle cx="284.8" cy="699.8" r="2.75" fill="#9c23ad"/>
<circle cx="317.2" cy="700.0" r="2.75" fill="#df0087"/>
<circle cx="287.1" cy="700.4" r="2.75" fill="#9b24ad"/>
<circle cx="284.4" cy="700.4" r="2.75" fill="#4f62e2"/>
<circle cx="310.0" cy="700.8" r="2.75" fill="#d5008f"/>
<circle cx="314.6" cy="699.0" r="2.75" fill="#d8008d"/>
<circle cx="308.0" cy="700.4" r="2.75" fill="#a11fab"/>
<circle cx="305.9" cy="700.4" r="2.75" fill="#d5008f"/>
<circle cx="312.2" cy="700.6" r="2.75" fill="#ab17a8"/>
<circle cx="314.5" cy="700.4" r="2.75" fill="#ad14a6"/>
<circle cx="310.2" cy="700.4" r="2.75" fill="#e10085"/>
<circle cx="298.4" cy="700.4" r="2.75" fill="#9a26af"/>
<circle cx="303.6" cy="701.3" r="2.75" fill="#982bb2"/>
<circle cx="285.2" cy="701.0" r="2.75" fill="#a020ab"/>
<circle cx="296.2" cy="700.4" r="2.75" fill="#5062e2"/>
<circle cx="312.5" cy="700.4" r="2.75" fill="#da008b"/>
<circle cx="317.4" cy="700.4" r="2.75" fill="#e10085"/>
<circle cx="301.3" cy="700.4" r="2.75" fill="#af13a6"/>
<circle cx="303.6" cy="699.5" r="2.75" fill="#dd0089"/>
<circle cx="292.0" cy="700.4" r="2.75" fill="#9c23ad"/>
<circle cx="317.5" cy="700.8" r="2.75" fill="#d8008d"/>
<circle cx="307.9" cy="700.4" r="2.75" fill="#d10092"/>
<circle cx="289.4" cy="701.5" r="2.75" fill="#4067e6"/>
<circle cx="305.3" cy="701.3" r="2.75" fill="#a919a8"/>
<circle cx="305.6" cy="699.5" r="2.75" fill="#9d22ad"/>
<circle cx="296.4" cy="700.4" r="2.75" fill="#9a26af"/>
<circle cx="289.6" cy="700.4" r="2.75" fill="#4765e4"/>
<circle cx="291.9" cy="701.1" r="2.75" fill="#ac15a7"/>
<circle cx="329.6" cy="700.5" r="2.75" fill="#ff0058"/>
<circle cx="341.1" cy="699.9" r="2.75" fill="#d9008c"/>
<circle cx="336.5" cy="700.4" r="2.75" fill="#a120ab"/>
<circle cx="346.0" cy="700.6" r="2.75" fill="#e10085"/>
<circle cx="343.3" cy="699.0" r="2.75" fill="#9a25ae"/>
<circle cx="341.6" cy="700.4" r="2.75" fill="#d10092"/>
<circle cx="338.8" cy="700.4" r="2.75" fill="#a41eaa"/>
<circle cx="338.6" cy="699.6" r="2.75" fill="#a41daa"/>
<circle cx="339.1" cy="701.2" r="2.75" fill="#da008b"/>
<circle cx="343.6" cy="701.8" r="2.75" fill="#dd0088"/>
<circle cx="341.1" cy="700.9" r="2.75" fill="#d8008c"/>
<circle cx="343.3" cy="700.4" r="2.75" fill="#d8008d"/>
<circle cx="370.2" cy="700.4" r="2.75" fill="#ff005a"/>
<circle cx="356.5" cy="700.3" r="2.75" fill="#ff0056"/>
<circle cx="363.4" cy="700.4" r="2.75" fill="#ff0051"/>
<circle cx="361.0" cy="699.8" r="2.75" fill="#ff0055"/>
<circle cx="361.2" cy="701.0" r="2.75" fill="#ff0051"/>
<circle cx="360.8" cy="700.4" r="2.75" fill="#ff0057"/>
<circle cx="358.7" cy="700.4" r="2.75" fill="#ff0051"/>
<circle cx="368.3" cy="700.4" r="2.75" fill="#ff0053"/>
<circle cx="358.8" cy="700.7" r="2.75" fill="#ff0057"/>
<circle cx="358.5" cy="700.1" r="2.75" fill="#ff0051"/>
<circle cx="367.9" cy="699.8" r="2.75" fill="#ff0054"/>
<circle cx="365.3" cy="699.3" r="2.75" fill="#ff0058"/>
<circle cx="365.5" cy="701.5" r="2.75" fill="#ff0055"/>
<circle cx="365.5" cy="700.4" r="2.75" fill="#ff0051"/>
<circle cx="367.7" cy="701.0" r="2.75" fill="#ff0051"/>
<circle cx="378.8" cy="700.4" r="2.75" fill="#ff0057"/>
<circle cx="397.5" cy="700.2" r="2.75" fill="#ff0056"/>
<circle cx="395.2" cy="700.6" r="2.75" fill="#ff0051"/>
<circle cx="393.0" cy="700.3" r="2.75" fill="#db008a"/>
<circle cx="390.8" cy="700.2" r="2.75" fill="#ff0053"/>
<circle cx="388.5" cy="700.4" r="2.75" fill="#dd0089"/>
<circle cx="405.5" cy="698.9" r="2.75" fill="#ff0051"/>
<circle cx="405.5" cy="701.9" r="2.75" fill="#ff0051"/>
<circle cx="227.0" cy="716.1" r="2.75" fill="#008bfb"/>
<circle cx="223.1" cy="716.1" r="2.75" fill="#008bfb"/>
<circle cx="225.4" cy="716.1" r="2.75" fill="#008bfb"/>
<circle cx="227.0" cy="715.8" r="2.75" fill="#0087fa"/>
<circle cx="229.5" cy="715.9" r="2.75" fill="#008bfb"/>
<circle cx="223.1" cy="715.8" r="2.75" fill="#008bfb"/>
<circle cx="225.3" cy="715.8" r="2.75" fill="#0086f9"/>
<circle cx="224.9" cy="716.4" r="2.75" fill="#008bfb"/>
<circle cx="227.2" cy="716.4" r="2.75" fill="#008afb"/>
<circle cx="220.5" cy="715.9" r="2.75" fill="#008bfb"/>
<circle cx="222.7" cy="716.4" r="2.75" fill="#008bfb"/>
<circle cx="248.5" cy="716.1" r="2.75" fill="#0086fa"/>
<circle cx="254.0" cy="716.1" r="2.75" fill="#0087fa"/>
<circle cx="264.8" cy="716.1" r="2.75" fill="#0087fa"/>
<circle cx="280.3" cy="716.3" r="2.75" fill="#9b24ae"/>
<circle cx="298.0" cy="716.1" r="2.75" fill="#a41daa"/>
<circle cx="312.0" cy="716.1" r="2.75" fill="#008bfb"/>
<circle cx="318.7" cy="714.2" r="2.75" fill="#ff0051"/>
<circle cx="293.7" cy="713.9" r="2.75" fill="#5161e1"/>
<circle cx="293.8" cy="717.2" r="2.75" fill="#3669e8"/>
<circle cx="314.2" cy="718.8" r="2.75" fill="#ae14a6"/>
<circle cx="300.4" cy="713.6" r="2.75" fill="#982ab1"/>
<circle cx="305.3" cy="716.1" r="2.75" fill="#9a27af"/>
<circle cx="305.3" cy="717.6" r="2.75" fill="#a51daa"/>
<circle cx="304.7" cy="714.5" r="2.75" fill="#dc0089"/>
<circle cx="313.9" cy="714.7" r="2.75" fill="#4a64e3"/>
<circle cx="309.9" cy="716.1" r="2.75" fill="#0086f9"/>
<circle cx="300.5" cy="716.1" r="2.75" fill="#ff0056"/>
<circle cx="320.9" cy="716.2" r="2.75" fill="#ff0059"/>
<circle cx="307.6" cy="717.2" r="2.75" fill="#a31eaa"/>
<circle cx="291.5" cy="715.8" r="2.75" fill="#9e22ac"/>
<circle cx="309.9" cy="714.2" r="2.75" fill="#008bfb"/>
<circle cx="298.1" cy="716.9" r="2.75" fill="#9f21ac"/>
<circle cx="300.7" cy="718.5" r="2.75" fill="#ac16a7"/>
<circle cx="314.4" cy="716.1" r="2.75" fill="#9c23ad"/>
<circle cx="309.4" cy="717.9" r="2.75" fill="#0088fa"/>
<circle cx="293.9" cy="716.1" r="2.75" fill="#4864e4"/>
<circle cx="300.8" cy="717.3" r="2.75" fill="#ff0055"/>
<circle cx="302.5" cy="718.0" r="2.75" fill="#ad15a7"/>
<circle cx="293.7" cy="718.2" r="2.75" fill="#008bfb"/>
<circle cx="316.2" cy="717.3" r="2.75" fill="#ff0055"/>
<circle cx="300.2" cy="714.9" r="2.75" fill="#9a25ae"/>
<circle cx="316.5" cy="714.9" r="2.75" fill="#a71aa9"/>
<circle cx="303.1" cy="714.2" r="2.75" fill="#a71ba9"/>
<circle cx="296.2" cy="718.0" r="2.75" fill="#008bfb"/>
<circle cx="316.5" cy="713.6" r="2.75" fill="#9928b0"/>
<circle cx="307.4" cy="715.0" r="2.75" fill="#a51daa"/>
<circle cx="311.6" cy="717.3" r="2.75" fill="#9e22ac"/>
<circle cx="316.7" cy="718.5" r="2.75" fill="#ff0051"/>
<circle cx="316.3" cy="716.1" r="2.75" fill="#4c63e3"/>
<circle cx="305.0" cy="712.9" r="2.75" fill="#972bb2"/>
<circle cx="302.7" cy="716.1" r="2.75" fill="#982ab1"/>
<circle cx="314.3" cy="717.4" r="2.75" fill="#aa18a8"/>
<circle cx="311.5" cy="714.9" r="2.75" fill="#0087fa"/>
<circle cx="318.3" cy="717.9" r="2.75" fill="#9929b1"/>
<circle cx="298.6" cy="715.3" r="2.75" fill="#ff0056"/>
<circle cx="307.2" cy="716.1" r="2.75" fill="#a020ac"/>
<circle cx="304.7" cy="719.2" r="2.75" fill="#df0087"/>
<circle cx="295.8" cy="716.1" r="2.75" fill="#008bfb"/>
<circle cx="293.8" cy="715.0" r="2.75" fill="#ae14a6"/>
<circle cx="319.0" cy="716.1" r="2.75" fill="#ff0058"/>
<circle cx="314.4" cy="713.4" r="2.75" fill="#575fdf"/>
<circle cx="296.1" cy="714.2" r="2.75" fill="#008bfb"/>
<circle cx="309.0" cy="716.1" r="2.75" fill="#9e22ac"/>
<circle cx="315.7" cy="716.1" r="2.75" fill="#9928b0"/>
<circle cx="313.7" cy="714.5" r="2.75" fill="#a71aa9"/>
<circle cx="314.0" cy="719.2" r="2.75" fill="#ae14a6"/>
<circle cx="308.8" cy="716.8" r="2.75" fill="#9f21ac"/>
<circle cx="311.9" cy="716.1" r="2.75" fill="#ad14a6"/>
<circle cx="310.6" cy="717.6" r="2.75" fill="#ad15a7"/>
<circle cx="312.2" cy="717.5" r="2.75" fill="#ab17a7"/>
<circle cx="310.7" cy="716.1" r="2.75" fill="#a31eaa"/>
<circle cx="312.2" cy="711.8" r="2.75" fill="#aa18a8"/>
<circle cx="310.1" cy="719.2" r="2.75" fill="#a51caa"/>
<circle cx="315.2" cy="715.4" r="2.75" fill="#ac16a7"/>
<circle cx="313.6" cy="713.0" r="2.75" fill="#9a26af"/>
<circle cx="315.6" cy="716.8" r="2.75" fill="#a020ac"/>
<circle cx="310.2" cy="714.5" r="2.75" fill="#9a25ae"/>
<circle cx="312.3" cy="720.4" r="2.75" fill="#9d22ac"/>
<circle cx="310.6" cy="713.0" r="2.75" fill="#982bb2"/>
<circle cx="313.4" cy="716.1" r="2.75" fill="#a11fab"/>
<circle cx="308.7" cy="715.4" r="2.75" fill="#a21fab"/>
<circle cx="311.8" cy="714.6" r="2.75" fill="#a120ab"/>
<circle cx="312.3" cy="713.2" r="2.75" fill="#9a26af"/>
<circle cx="312.1" cy="718.9" r="2.75" fill="#982ab2"/>
<circle cx="313.5" cy="717.6" r="2.75" fill="#af13a6"/>
<circle cx="352.0" cy="716.1" r="2.75" fill="#008bfb"/>
<circle cx="359.6" cy="716.1" r="2.75" fill="#008bfb"/>
<circle cx="362.0" cy="716.1" r="2.75" fill="#008bfb"/>
<circle cx="368.4" cy="716.1" r="2.75" fill="#0088fa"/>
<circle cx="374.5" cy="716.1" r="2.75" fill="#008bfb"/>
<circle cx="384.3" cy="716.1" r="2.75" fill="#0089fa"/>
<circle cx="413.2" cy="716.1" r="2.75" fill="#008bfb"/>
<circle cx="417.3" cy="716.1" r="2.75" fill="#0086f9"/>
<circle cx="425.0" cy="716.1" r="2.75" fill="#008bfb"/>
<circle cx="232.5" cy="732.0" r="2.75" fill="#ae14a6"/>
<circle cx="239.9" cy="731.9" r="2.75" fill="#ae13a6"/>
<circle cx="244.9" cy="731.9" r="2.75" fill="#a41daa"/>
<circle cx="237.5" cy="732.0" r="2.75" fill="#9e22ac"/>
<circle cx="242.4" cy="731.9" r="2.75" fill="#a61ca9"/>
<circle cx="235.0" cy="731.7" r="2.75" fill="#a81aa8"/>
<circle cx="253.4" cy="728.5" r="2.75" fill="#9c23ad"/>
<circle cx="251.5" cy="732.3" r="2.75" fill="#982ab2"/>
<circle cx="256.4" cy="731.8" r="2.75" fill="#a020ac"/>
<circle cx="253.1" cy="730.1" r="2.75" fill="#a41daa"/>
<circle cx="252.9" cy="733.4" r="2.75" fill="#9928b0"/>
<circle cx="254.6" cy="730.1" r="2.75" fill="#a919a8"/>
<circle cx="256.4" cy="732.3" r="2.75" fill="#a120ab"/>
<circle cx="251.7" cy="731.8" r="2.75" fill="#a51caa"/>
<circle cx="253.0" cy="731.8" r="2.75" fill="#a020ab"/>
<circle cx="254.7" cy="733.4" r="2.75" fill="#aa18a8"/>
<circle cx="256.8" cy="731.3" r="2.75" fill="#a71ba9"/>
<circle cx="254.6" cy="731.8" r="2.75" fill="#9928b0"/>
<circle cx="253.2" cy="735.0" r="2.75" fill="#a31eaa"/>
<circle cx="254.5" cy="728.5" r="2.75" fill="#9c23ad"/>
<circle cx="251.7" cy="731.3" r="2.75" fill="#a919a8"/>
<circle cx="254.7" cy="735.0" r="2.75" fill="#9f21ac"/>
<circle cx="254.3" cy="731.8" r="2.75" fill="#ff0056"/>
<circle cx="260.8" cy="731.5" r="2.75" fill="#982ab1"/>
<circle cx="265.5" cy="731.5" r="2.75" fill="#a021ac"/>
<circle cx="263.1" cy="732.1" r="2.75" fill="#a020ab"/>
<circle cx="275.3" cy="731.8" r="2.75" fill="#ff0051"/>
<circle cx="283.5" cy="731.9" r="2.75" fill="#595edf"/>
<circle cx="293.5" cy="731.8" r="2.75" fill="#ff0059"/>
<circle cx="308.0" cy="733.2" r="2.75" fill="#d9008c"/>
<circle cx="303.0" cy="733.0" r="2.75" fill="#d10092"/>
<circle cx="303.5" cy="730.5" r="2.75" fill="#9929b1"/>
<circle cx="291.5" cy="731.7" r="2.75" fill="#ff0051"/>
<circle cx="301.1" cy="731.8" r="2.75" fill="#ff0058"/>
<circle cx="296.6" cy="732.1" r="2.75" fill="#aa18a8"/>
<circle cx="294.0" cy="733.6" r="2.75" fill="#ff0051"/>
<circle cx="301.1" cy="730.4" r="2.75" fill="#ff0054"/>
<circle cx="293.7" cy="729.9" r="2.75" fill="#ff0051"/>
<circle cx="308.4" cy="730.3" r="2.75" fill="#dd0089"/>
<circle cx="298.3" cy="731.8" r="2.75" fill="#9e22ac"/>
<circle cx="310.5" cy="731.9" r="2.75" fill="#da008b"/>
<circle cx="300.6" cy="733.1" r="2.75" fill="#ff0051"/>
<circle cx="303.3" cy="731.8" r="2.75" fill="#ff0051"/>
<circle cx="296.6" cy="731.4" r="2.75" fill="#9e22ac"/>
<circle cx="305.8" cy="731.1" r="2.75" fill="#d6008e"/>
<circle cx="305.7" cy="732.5" r="2.75" fill="#ff0056"/>
<circle cx="305.7" cy="731.8" r="2.75" fill="#d8008d"/>
<circle cx="303.0" cy="729.2" r="2.75" fill="#d00093"/>
<circle cx="296.0" cy="731.8" r="2.75" fill="#9b24ad"/>
<circle cx="307.9" cy="731.8" r="2.75" fill="#ff0055"/>
<circle cx="298.8" cy="733.6" r="2.75" fill="#ff0057"/>
<circle cx="303.3" cy="734.3" r="2.75" fill="#d20092"/>
<circle cx="298.6" cy="729.9" r="2.75" fill="#9f21ac"/>
<circle cx="317.8" cy="731.8" r="2.75" fill="#276cea"/>
<circle cx="315.5" cy="731.8" r="2.75" fill="#008afb"/>
<circle cx="319.5" cy="731.5" r="2.75" fill="#585fdf"/>
<circle cx="317.4" cy="732.1" r="2.75" fill="#4f62e2"/>
<circle cx="317.2" cy="731.4" r="2.75" fill="#5560e0"/>
<circle cx="331.1" cy="732.0" r="2.75" fill="#4166e6"/>
<circle cx="324.8" cy="731.8" r="2.75" fill="#a41daa"/>
<circle cx="323.7" cy="731.5" r="2.75" fill="#9829b1"/>
<circle cx="323.3" cy="731.8" r="2.75" fill="#9a26af"/>
<circle cx="326.5" cy="728.7" r="2.75" fill="#a31eab"/>
<circle cx="328.6" cy="730.2" r="2.75" fill="#3569e8"/>
<circle cx="328.3" cy="734.8" r="2.75" fill="#5560e0"/>
<circle cx="328.1" cy="728.7" r="2.75" fill="#2e6be9"/>
<circle cx="330.1" cy="733.7" r="2.75" fill="#2a6bea"/>
<circle cx="325.3" cy="729.8" r="2.75" fill="#595edf"/>
<circle cx="329.5" cy="731.8" r="2.75" fill="#5062e2"/>
<circle cx="323.7" cy="732.0" r="2.75" fill="#ac16a7"/>
<circle cx="328.7" cy="731.8" r="2.75" fill="#4665e5"/>
<circle cx="326.5" cy="731.8" r="2.75" fill="#9f21ac"/>
<circle cx="326.3" cy="730.2" r="2.75" fill="#a61caa"/>
<circle cx="328.6" cy="733.3" r="2.75" fill="#a31eaa"/>
<circle cx="325.3" cy="733.7" r="2.75" fill="#9c23ad"/>
<circle cx="331.4" cy="731.5" r="2.75" fill="#336ae8"/>
<circle cx="327.0" cy="734.8" r="2.75" fill="#575fdf"/>
<circle cx="330.2" cy="729.8" r="2.75" fill="#9b24ae"/>
<circle cx="327.1" cy="733.3" r="2.75" fill="#982ab2"/>
<circle cx="331.2" cy="731.8" r="2.75" fill="#4166e6"/>
<circle cx="339.1" cy="731.8" r="2.75" fill="#4067e6"/>
<circle cx="341.3" cy="731.1" r="2.75" fill="#a71aa9"/>
<circle cx="341.2" cy="731.8" r="2.75" fill="#4c63e3"/>
<circle cx="334.5" cy="731.6" r="2.75" fill="#ae14a6"/>
<circle cx="343.1" cy="732.7" r="2.75" fill="#a919a8"/>
<circle cx="339.1" cy="731.2" r="2.75" fill="#3f67e6"/>
<circle cx="336.7" cy="731.8" r="2.75" fill="#9c23ad"/>
<circle cx="345.4" cy="732.7" r="2.75" fill="#008bfb"/>
<circle cx="347.5" cy="731.9" r="2.75" fill="#a919a8"/>
<circle cx="345.6" cy="731.8" r="2.75" fill="#a020ab"/>
<circle cx="343.4" cy="730.8" r="2.75" fill="#008bfb"/>
<circle cx="345.2" cy="730.9" r="2.75" fill="#982ab1"/>
<circle cx="341.3" cy="732.5" r="2.75" fill="#008bfb"/>
<circle cx="338.6" cy="732.3" r="2.75" fill="#565fe0"/>
<circle cx="343.0" cy="731.8" r="2.75" fill="#008bfb"/>
<circle cx="354.0" cy="731.8" r="2.75" fill="#a819a8"/>
<circle cx="277.3" cy="746.6" r="2.75" fill="#ab17a7"/>
<circle cx="277.5" cy="748.3" r="2.75" fill="#ad15a7"/>
<circle cx="277.2" cy="747.4" r="2.75" fill="#a61ca9"/>
<circle cx="279.3" cy="747.4" r="2.75" fill="#af12a6"/>
<circle cx="274.8" cy="747.9" r="2.75" fill="#a61ca9"/>
<circle cx="272.8" cy="747.6" r="2.75" fill="#ac16a7"/>
<circle cx="275.1" cy="747.4" r="2.75" fill="#a919a8"/>
<circle cx="281.5" cy="747.4" r="2.75" fill="#a020ac"/>
<circle cx="275.1" cy="747.0" r="2.75" fill="#ac16a7"/>
<circle cx="287.5" cy="743.4" r="2.75" fill="#008bfb"/>
<circle cx="289.0" cy="751.5" r="2.75" fill="#0089fa"/>
<circle cx="290.6" cy="747.4" r="2.75" fill="#008afb"/>
<circle cx="284.6" cy="748.2" r="2.75" fill="#0085f9"/>
<circle cx="285.9" cy="747.4" r="2.75" fill="#008bfb"/>
<circle cx="286.0" cy="744.7" r="2.75" fill="#0089fa"/>
<circle cx="284.7" cy="746.7" r="2.75" fill="#0088fa"/>
<circle cx="284.7" cy="747.4" r="2.75" fill="#0085f9"/>
<circle cx="287.7" cy="748.8" r="2.75" fill="#008bfb"/>
<circle cx="289.4" cy="744.8" r="2.75" fill="#0088fa"/>
<circle cx="286.2" cy="748.8" r="2.75" fill="#0085f9"/>
<circle cx="287.6" cy="744.8" r="2.75" fill="#008afb"/>
<circle cx="292.5" cy="747.4" r="2.75" fill="#008bfb"/>
<circle cx="286.3" cy="750.2" r="2.75" fill="#008bfb"/>
<circle cx="289.1" cy="743.4" r="2.75" fill="#008bfb"/>
<circle cx="290.9" cy="750.2" r="2.75" fill="#008bfb"/>
<circle cx="292.3" cy="746.7" r="2.75" fill="#008bfb"/>
<circle cx="290.8" cy="746.1" r="2.75" fill="#008bfb"/>
<circle cx="289.2" cy="746.1" r="2.75" fill="#008bfb"/>
<circle cx="290.9" cy="744.7" r="2.75" fill="#008bfb"/>
<circle cx="287.8" cy="747.4" r="2.75" fill="#008bfb"/>
<circle cx="288.0" cy="751.5" r="2.75" fill="#008afb"/>
<circle cx="287.6" cy="750.1" r="2.75" fill="#0089fa"/>
<circle cx="289.1" cy="747.4" r="2.75" fill="#008bfb"/>
<circle cx="285.9" cy="746.1" r="2.75" fill="#008bfb"/>
<circle cx="289.7" cy="750.1" r="2.75" fill="#008bfb"/>
<circle cx="290.5" cy="748.8" r="2.75" fill="#0086f9"/>
<circle cx="287.8" cy="746.1" r="2.75" fill="#008bfb"/>
<circle cx="289.3" cy="748.8" r="2.75" fill="#008bfb"/>
<circle cx="292.4" cy="748.2" r="2.75" fill="#008bfb"/>
<circle cx="300.8" cy="745.0" r="2.75" fill="#0088fa"/>
<circle cx="300.6" cy="748.6" r="2.75" fill="#008bfb"/>
<circle cx="298.2" cy="746.0" r="2.75" fill="#008bfb"/>
<circle cx="300.7" cy="747.4" r="2.75" fill="#0086f9"/>
<circle cx="301.0" cy="749.8" r="2.75" fill="#008bfb"/>
<circle cx="295.5" cy="747.6" r="2.75" fill="#008bfb"/>
<circle cx="300.5" cy="746.2" r="2.75" fill="#0089fa"/>
<circle cx="298.1" cy="747.4" r="2.75" fill="#008bfb"/>
<circle cx="298.0" cy="748.9" r="2.75" fill="#0086f9"/>
<circle cx="303.5" cy="747.6" r="2.75" fill="#0089fa"/>
<circle cx="313.1" cy="746.2" r="2.75" fill="#aa18a8"/>
<circle cx="314.9" cy="746.7" r="2.75" fill="#9b24ae"/>
<circle cx="315.4" cy="747.4" r="2.75" fill="#9b24ad"/>
<circle cx="313.2" cy="748.7" r="2.75" fill="#a919a8"/>
<circle cx="317.8" cy="747.4" r="2.75" fill="#a31eab"/>
<circle cx="310.7" cy="747.5" r="2.75" fill="#982bb2"/>
<circle cx="317.7" cy="746.9" r="2.75" fill="#9d23ad"/>
<circle cx="310.8" cy="747.4" r="2.75" fill="#ae14a6"/>
<circle cx="310.9" cy="747.4" r="2.75" fill="#9c23ad"/>
<circle cx="308.5" cy="747.7" r="2.75" fill="#9c23ad"/>
<circle cx="315.0" cy="748.2" r="2.75" fill="#a120ab"/>
<circle cx="317.2" cy="748.0" r="2.75" fill="#ac16a7"/>
<circle cx="319.8" cy="747.2" r="2.75" fill="#aa18a8"/>
<circle cx="312.7" cy="747.4" r="2.75" fill="#9f21ac"/>
<circle cx="335.3" cy="745.9" r="2.75" fill="#ff0051"/>
<circle cx="335.3" cy="747.4" r="2.75" fill="#ff0055"/>
<circle cx="338.7" cy="748.5" r="2.75" fill="#ff0052"/>
<circle cx="331.8" cy="747.8" r="2.75" fill="#ff005a"/>
<circle cx="338.8" cy="746.4" r="2.75" fill="#ff0058"/>
<circle cx="337.4" cy="749.0" r="2.75" fill="#ff0051"/>
<circle cx="331.7" cy="747.4" r="2.75" fill="#ff0059"/>
<circle cx="333.6" cy="747.4" r="2.75" fill="#ff0053"/>
<circle cx="337.2" cy="747.4" r="2.75" fill="#ff0051"/>
<circle cx="335.4" cy="750.6" r="2.75" fill="#ff0059"/>
<circle cx="340.9" cy="747.4" r="2.75" fill="#ff0051"/>
<circle cx="333.5" cy="748.5" r="2.75" fill="#ff0056"/>
<circle cx="337.2" cy="750.6" r="2.75" fill="#ff0051"/>
<circle cx="334.0" cy="746.4" r="2.75" fill="#ff0052"/>
<circle cx="340.7" cy="747.1" r="2.75" fill="#ff0051"/>
<circle cx="335.3" cy="749.0" r="2.75" fill="#ff0051"/>
<circle cx="337.4" cy="744.3" r="2.75" fill="#ff0058"/>
<circle cx="340.7" cy="747.8" r="2.75" fill="#ff0051"/>
<circle cx="339.5" cy="749.5" r="2.75" fill="#ff0051"/>
<circle cx="339.2" cy="745.4" r="2.75" fill="#ff0051"/>
<circle cx="333.8" cy="745.4" r="2.75" fill="#ff0051"/>
<circle cx="334.1" cy="749.5" r="2.75" fill="#ff0051"/>
<circle cx="339.2" cy="747.4" r="2.75" fill="#ff0058"/>
<circle cx="335.4" cy="744.3" r="2.75" fill="#ff0053"/>
<circle cx="332.2" cy="747.1" r="2.75" fill="#ff0051"/>
<circle cx="337.5" cy="745.9" r="2.75" fill="#ff0059"/>
<circle cx="350.3" cy="747.6" r="2.75" fill="#e00086"/>
<circle cx="343.0" cy="748.4" r="2.75" fill="#ff005a"/>
<circle cx="345.2" cy="747.7" r="2.75" fill="#d30091"/>
<circle cx="348.0" cy="747.4" r="2.75" fill="#e00085"/>
<circle cx="348.2" cy="748.6" r="2.75" fill="#df0087"/>
<circle cx="347.9" cy="746.3" r="2.75" fill="#d6008f"/>
<circle cx="343.3" cy="745.4" r="2.75" fill="#ff0051"/>
<circle cx="343.1" cy="747.4" r="2.75" fill="#ff0051"/>
<circle cx="345.8" cy="747.4" r="2.75" fill="#d5008f"/>
<circle cx="342.8" cy="746.4" r="2.75" fill="#ff0051"/>
<circle cx="340.5" cy="747.6" r="2.75" fill="#ff0053"/>
<circle cx="343.1" cy="749.4" r="2.75" fill="#ff0058"/>
<circle cx="345.7" cy="747.1" r="2.75" fill="#df0086"/>
<circle cx="258.0" cy="763.1" r="2.75" fill="#0088fa"/>
<circle cx="269.3" cy="763.1" r="2.75" fill="#008bfb"/>
<circle cx="280.8" cy="763.1" r="2.75" fill="#a020ac"/>
<circle cx="292.2" cy="763.1" r="2.75" fill="#008bfb"/>
<circle cx="297.2" cy="765.9" r="2.75" fill="#008bfb"/>
<circle cx="285.2" cy="763.5" r="2.75" fill="#008bfb"/>
<circle cx="297.0" cy="761.7" r="2.75" fill="#008bfb"/>
<circle cx="294.5" cy="761.4" r="2.75" fill="#4565e5"/>
<circle cx="296.6" cy="760.3" r="2.75" fill="#008bfb"/>
<circle cx="299.2" cy="764.2" r="2.75" fill="#008bfb"/>
<circle cx="289.8" cy="760.8" r="2.75" fill="#ff0051"/>
<circle cx="287.6" cy="761.8" r="2.75" fill="#008afa"/>
<circle cx="294.9" cy="763.1" r="2.75" fill="#008bfb"/>
<circle cx="285.5" cy="763.1" r="2.75" fill="#0089fa"/>
<circle cx="299.1" cy="765.3" r="2.75" fill="#008bfb"/>
<circle cx="290.4" cy="764.3" r="2.75" fill="#ff0058"/>
<circle cx="295.0" cy="764.8" r="2.75" fill="#008bfb"/>
<circle cx="294.7" cy="766.5" r="2.75" fill="#008afb"/>
<circle cx="294.8" cy="759.7" r="2.75" fill="#008bfb"/>
<circle cx="299.5" cy="761.0" r="2.75" fill="#008bfb"/>
<circle cx="292.7" cy="761.3" r="2.75" fill="#008bfb"/>
<circle cx="288.2" cy="763.1" r="2.75" fill="#0086fa"/>
<circle cx="290.0" cy="765.4" r="2.75" fill="#ff0057"/>
<circle cx="285.4" cy="762.7" r="2.75" fill="#0089fa"/>
<circle cx="290.1" cy="763.1" r="2.75" fill="#0087fa"/>
<circle cx="301.5" cy="762.9" r="2.75" fill="#008bfb"/>
<circle cx="296.9" cy="764.5" r="2.75" fill="#008afb"/>
<circle cx="287.5" cy="764.4" r="2.75" fill="#008bfb"/>
<circle cx="296.8" cy="763.1" r="2.75" fill="#0087fa"/>
<circle cx="292.7" cy="764.9" r="2.75" fill="#0089fa"/>
<circle cx="299.2" cy="762.0" r="2.75" fill="#008bfb"/>
<circle cx="290.1" cy="762.0" r="2.75" fill="#ff0051"/>
<circle cx="298.9" cy="763.1" r="2.75" fill="#008bfb"/>
<circle cx="322.2" cy="761.2" r="2.75" fill="#3f67e6"/>
<circle cx="317.6" cy="764.4" r="2.75" fill="#3469e8"/>
<circle cx="331.2" cy="764.7" r="2.75" fill="#565fe0"/>
<circle cx="338.7" cy="763.7" r="2.75" fill="#0089fa"/>
<circle cx="308.0" cy="763.1" r="2.75" fill="#7b4bcd"/>
<circle cx="328.7" cy="762.6" r="2.75" fill="#008bfb"/>
<circle cx="328.8" cy="763.1" r="2.75" fill="#0089fa"/>
<circle cx="305.5" cy="763.1" r="2.75" fill="#7450d2"/>
<circle cx="326.3" cy="762.3" r="2.75" fill="#3769e8"/>
<circle cx="319.4" cy="764.0" r="2.75" fill="#008bfb"/>
<circle cx="319.7" cy="762.2" r="2.75" fill="#326ae9"/>
<circle cx="342.9" cy="764.7" r="2.75" fill="#0088fa"/>
<circle cx="335.7" cy="764.1" r="2.75" fill="#008bfb"/>
<circle cx="335.7" cy="762.1" r="2.75" fill="#0085f9"/>
<circle cx="333.8" cy="763.1" r="2.75" fill="#008bfb"/>
<circle cx="345.5" cy="763.3" r="2.75" fill="#0087fa"/>
<circle cx="310.2" cy="762.2" r="2.75" fill="#0088fa"/>
<circle cx="322.1" cy="763.1" r="2.75" fill="#0089fa"/>
<circle cx="340.8" cy="762.5" r="2.75" fill="#0089fa"/>
<circle cx="338.4" cy="763.1" r="2.75" fill="#008bfb"/>
<circle cx="343.4" cy="763.1" r="2.75" fill="#0087fa"/>
<circle cx="341.1" cy="763.1" r="2.75" fill="#575fdf"/>
<circle cx="310.2" cy="763.1" r="2.75" fill="#008afb"/>
<circle cx="324.5" cy="763.7" r="2.75" fill="#336ae8"/>
<circle cx="312.7" cy="761.7" r="2.75" fill="#008bfb"/>
<circle cx="329.2" cy="763.6" r="2.75" fill="#008bfb"/>
<circle cx="338.5" cy="762.6" r="2.75" fill="#0085f9"/>
<circle cx="331.0" cy="761.6" r="2.75" fill="#008bfb"/>
<circle cx="308.1" cy="761.2" r="2.75" fill="#794cce"/>
<circle cx="342.9" cy="761.6" r="2.75" fill="#008afb"/>
<circle cx="312.9" cy="763.1" r="2.75" fill="#008bfb"/>
<circle cx="340.9" cy="763.7" r="2.75" fill="#0087fa"/>
<circle cx="317.3" cy="763.1" r="2.75" fill="#0088fa"/>
<circle cx="307.5" cy="765.0" r="2.75" fill="#7a4cce"/>
<circle cx="310.1" cy="764.1" r="2.75" fill="#7351d2"/>
<circle cx="324.5" cy="762.6" r="2.75" fill="#565fe0"/>
<circle cx="317.4" cy="761.8" r="2.75" fill="#5360e1"/>
<circle cx="322.1" cy="765.0" r="2.75" fill="#0088fa"/>
<circle cx="312.8" cy="764.6" r="2.75" fill="#008bfb"/>
<circle cx="333.4" cy="764.5" r="2.75" fill="#595edf"/>
<circle cx="326.3" cy="763.1" r="2.75" fill="#4c63e3"/>
<circle cx="314.9" cy="762.9" r="2.75" fill="#008bfb"/>
<circle cx="319.6" cy="763.1" r="2.75" fill="#5a5ede"/>
<circle cx="324.4" cy="763.1" r="2.75" fill="#4e62e2"/>
<circle cx="335.8" cy="763.1" r="2.75" fill="#008bfb"/>
<circle cx="333.7" cy="761.7" r="2.75" fill="#0086fa"/>
<circle cx="327.0" cy="764.0" r="2.75" fill="#008afa"/>
<circle cx="331.3" cy="763.1" r="2.75" fill="#0089fa"/>
<circle cx="355.7" cy="761.6" r="2.75" fill="#276cea"/>
<circle cx="355.7" cy="764.6" r="2.75" fill="#3569e8"/>
<circle cx="361.2" cy="761.6" r="2.75" fill="#5261e1"/>
<circle cx="361.2" cy="764.6" r="2.75" fill="#256cea"/>
<circle cx="315.2" cy="778.8" r="2.75" fill="#0086f9"/>
<circle cx="335.8" cy="780.9" r="2.75" fill="#0088fa"/>
<circle cx="301.4" cy="776.6" r="2.75" fill="#0088fa"/>
<circle cx="317.3" cy="778.8" r="2.75" fill="#008bfb"/>
<circle cx="324.6" cy="778.8" r="2.75" fill="#008bfb"/>
<circle cx="321.9" cy="780.7" r="2.75" fill="#008bfb"/>
<circle cx="322.1" cy="776.9" r="2.75" fill="#0086f9"/>
<circle cx="315.0" cy="777.8" r="2.75" fill="#008bfb"/>
<circle cx="301.1" cy="781.0" r="2.75" fill="#0089fa"/>
<circle cx="338.5" cy="778.6" r="2.75" fill="#008bfb"/>
<circle cx="303.4" cy="778.8" r="2.75" fill="#008afb"/>
<circle cx="313.0" cy="780.6" r="2.75" fill="#008bfb"/>
<circle cx="328.9" cy="778.8" r="2.75" fill="#0085f9"/>
<circle cx="335.9" cy="777.8" r="2.75" fill="#0088fa"/>
<circle cx="310.3" cy="781.8" r="2.75" fill="#008bfb"/>
<circle cx="301.5" cy="778.8" r="2.75" fill="#0087fa"/>
<circle cx="317.7" cy="779.5" r="2.75" fill="#008afb"/>
<circle cx="324.8" cy="780.3" r="2.75" fill="#008afb"/>
<circle cx="333.6" cy="780.3" r="2.75" fill="#0087fa"/>
<circle cx="321.8" cy="778.8" r="2.75" fill="#008bfb"/>
<circle cx="308.0" cy="778.8" r="2.75" fill="#008bfb"/>
<circle cx="320.0" cy="781.4" r="2.75" fill="#0086f9"/>
<circle cx="331.4" cy="780.1" r="2.75" fill="#008bfb"/>
<circle cx="319.8" cy="777.5" r="2.75" fill="#008afa"/>
<circle cx="299.1" cy="780.2" r="2.75" fill="#008bfb"/>
<circle cx="313.0" cy="777.0" r="2.75" fill="#0088fa"/>
<circle cx="327.1" cy="778.8" r="2.75" fill="#008bfb"/>
<circle cx="329.2" cy="776.9" r="2.75" fill="#0086f9"/>
<circle cx="331.2" cy="777.5" r="2.75" fill="#008bfb"/>
<circle cx="319.6" cy="776.2" r="2.75" fill="#008bfb"/>
<circle cx="320.0" cy="778.8" r="2.75" fill="#008bfb"/>
<circle cx="305.6" cy="780.3" r="2.75" fill="#0087fa"/>
<circle cx="315.4" cy="776.7" r="2.75" fill="#008bfb"/>
<circle cx="315.0" cy="780.9" r="2.75" fill="#008bfb"/>
<circle cx="310.7" cy="775.8" r="2.75" fill="#008bfb"/>
<circle cx="314.8" cy="779.8" r="2.75" fill="#0086f9"/>
<circle cx="334.1" cy="781.8" r="2.75" fill="#0088fa"/>
<circle cx="308.3" cy="777.1" r="2.75" fill="#0085f9"/>
<circle cx="327.1" cy="777.9" r="2.75" fill="#008bfb"/>
<circle cx="326.9" cy="779.7" r="2.75" fill="#008bfb"/>
<circle cx="319.6" cy="780.1" r="2.75" fill="#0086fa"/>
<circle cx="305.7" cy="777.3" r="2.75" fill="#008bfb"/>
<circle cx="303.7" cy="777.4" r="2.75" fill="#008bfb"/>
<circle cx="331.2" cy="778.8" r="2.75" fill="#0087fa"/>
<circle cx="305.9" cy="778.8" r="2.75" fill="#0088fa"/>
<circle cx="301.5" cy="777.7" r="2.75" fill="#008bfb"/>
<circle cx="308.1" cy="780.5" r="2.75" fill="#008bfb"/>
<circle cx="335.9" cy="779.8" r="2.75" fill="#008bfb"/>
<circle cx="334.1" cy="778.8" r="2.75" fill="#008bfb"/>
<circle cx="310.8" cy="777.3" r="2.75" fill="#0089fa"/>
<circle cx="333.9" cy="777.3" r="2.75" fill="#008bfb"/>
<circle cx="317.6" cy="778.1" r="2.75" fill="#008bfb"/>
<circle cx="333.7" cy="775.8" r="2.75" fill="#008bfb"/>
<circle cx="324.6" cy="775.8" r="2.75" fill="#0087fa"/>
<circle cx="298.8" cy="781.6" r="2.75" fill="#008bfb"/>
<circle cx="310.2" cy="778.8" r="2.75" fill="#008bfb"/>
<circle cx="324.6" cy="781.8" r="2.75" fill="#008bfb"/>
<circle cx="310.2" cy="780.3" r="2.75" fill="#008bfb"/>
<circle cx="303.9" cy="780.2" r="2.75" fill="#008bfb"/>
<circle cx="329.0" cy="780.7" r="2.75" fill="#0086f9"/>
<circle cx="298.9" cy="777.4" r="2.75" fill="#0088fa"/>
<circle cx="298.5" cy="776.0" r="2.75" fill="#008bfb"/>
<circle cx="336.2" cy="778.8" r="2.75" fill="#008bfb"/>
<circle cx="300.9" cy="779.9" r="2.75" fill="#008bfb"/>
<circle cx="324.8" cy="777.3" r="2.75" fill="#0089fa"/>
<circle cx="298.5" cy="778.8" r="2.75" fill="#008bfb"/>
<circle cx="336.4" cy="776.7" r="2.75" fill="#0087fa"/>
<circle cx="296.5" cy="778.6" r="2.75" fill="#008bfb"/>
<circle cx="313.0" cy="778.8" r="2.75" fill="#008bfb"/>
<circle cx="316.2" cy="776.8" r="2.75" fill="#ff0051"/>
<circle cx="316.2" cy="780.8" r="2.75" fill="#ff0051"/>
<circle cx="327.8" cy="778.8" r="2.75" fill="#008bfb"/>
<circle cx="329.2" cy="775.1" r="2.75" fill="#0087fa"/>
<circle cx="327.7" cy="780.6" r="2.75" fill="#008bfb"/>
<circle cx="327.6" cy="782.5" r="2.75" fill="#0087fa"/>
<circle cx="325.6" cy="779.5" r="2.75" fill="#008bfb"/>
<circle cx="327.9" cy="775.1" r="2.75" fill="#0087fa"/>
<circle cx="331.4" cy="779.5" r="2.75" fill="#008bfb"/>
<circle cx="329.9" cy="778.8" r="2.75" fill="#008bfb"/>
<circle cx="327.2" cy="777.0" r="2.75" fill="#0086fa"/>
<circle cx="331.1" cy="778.1" r="2.75" fill="#0089fa"/>
<circle cx="329.2" cy="777.0" r="2.75" fill="#0088fa"/>
<circle cx="329.8" cy="780.6" r="2.75" fill="#008afb"/>
<circle cx="325.9" cy="778.8" r="2.75" fill="#0088fa"/>
<circle cx="325.9" cy="778.1" r="2.75" fill="#0086f9"/>
<circle cx="329.4" cy="782.5" r="2.75" fill="#0088fa"/>
<circle cx="331.7" cy="778.8" r="2.75" fill="#0085f9"/></g>
<line x1="86.0" y1="794.8" x2="468.8" y2="794.8" stroke="#111" stroke-width="1.4"/>
<line x1="98.8" y1="794.8" x2="98.8" y2="802.3" stroke="#111" stroke-width="1.1"/>
<text x="98.8" y="821.2" text-anchor="middle" font-family='"Liberation Serif","Times New Roman",serif' font-size="16.2" fill="#1a1a1a">−3</text>
<line x1="170.2" y1="794.8" x2="170.2" y2="802.3" stroke="#111" stroke-width="1.1"/>
<text x="170.2" y="821.2" text-anchor="middle" font-family='"Liberation Serif","Times New Roman",serif' font-size="16.2" fill="#1a1a1a">−2</text>
<line x1="241.6" y1="794.8" x2="241.6" y2="802.3" stroke="#111" stroke-width="1.1"/>
<text x="241.6" y="821.2" text-anchor="middle" font-family='"Liberation Serif","Times New Roman",serif' font-size="16.2" fill="#1a1a1a">−1</text>
<line x1="313.0" y1="794.8" x2="313.0" y2="802.3" stroke="#111" stroke-width="1.1"/>
<text x="313.0" y="821.2" text-anchor="middle" font-family='"Liberation Serif","Times New Roman",serif' font-size="16.2" fill="#1a1a1a">0</text>
<line x1="384.4" y1="794.8" x2="384.4" y2="802.3" stroke="#111" stroke-width="1.1"/>
<text x="384.4" y="821.2" text-anchor="middle" font-family='"Liberation Serif","Times New Roman",serif' font-size="16.2" fill="#1a1a1a">1</text>
<line x1="455.8" y1="794.8" x2="455.8" y2="802.3" stroke="#111" stroke-width="1.1"/>
<text x="455.8" y="821.2" text-anchor="middle" font-family='"Liberation Serif","Times New Roman",serif' font-size="16.2" fill="#1a1a1a">2</text>
<text x="278.0" y="842.1" text-anchor="middle" font-family='"Liberation Serif","Times New Roman",serif' font-size="16.60" fill="#1a1a1a">mean(|SHAP values|) (average impact on model output)</text>
<text x="277.5" y="598.3" text-anchor="middle" font-family='"Liberation Serif","Times New Roman",serif' font-size="16.90" fill="#1a1a1a">c) FSF mode</text>
<text transform="translate(20.5 701.0) rotate(-90)" text-anchor="middle" font-family='"Liberation Serif","Times New Roman",serif' font-size="20.71" fill="#1a1a1a">Input variable</text>
<text x="51.9" y="628.4" text-anchor="end" font-size="16.2" fill="#1a1a1a"><tspan font-family='"Liberation Serif","Times New Roman",serif'>B</tspan></text>
<text x="51.9" y="644.1" text-anchor="end" font-size="16.2" fill="#1a1a1a"><tspan font-family='"Liberation Serif","Times New Roman",serif'>P</tspan></text>
<text x="51.9" y="659.8" text-anchor="end" font-size="16.2" fill="#1a1a1a"><tspan font-family='"Liberation Serif","Times New Roman",serif'>f</tspan><tspan font-family='"DejaVu Sans","Liberation Sans",sans-serif' font-style="italic" font-size="11.4" dy="2.2">yw</tspan></text>
<text x="51.9" y="675.4" text-anchor="end" font-size="16.2" fill="#1a1a1a"><tspan font-family='"Liberation Serif","Times New Roman",serif'>f</tspan><tspan font-family='"DejaVu Sans","Liberation Sans",sans-serif' font-style="italic" font-size="11.4" dy="2.2">c</tspan></text>
<text x="51.9" y="691.1" text-anchor="end" font-size="16.2" fill="#1a1a1a"><tspan font-family='"Liberation Serif","Times New Roman",serif'>L</tspan><tspan font-family='"DejaVu Sans","Liberation Sans",sans-serif' font-style="italic" font-size="11.4" dy="2.2">w</tspan></text>
<text x="51.9" y="706.8" text-anchor="end" font-size="16.2" fill="#1a1a1a"><tspan font-family='"DejaVu Sans","Liberation Sans",sans-serif' font-style="italic">ρ</tspan><tspan font-family='"DejaVu Sans","Liberation Sans",sans-serif' font-style="italic" font-size="11.4" dy="2.2">w</tspan></text>
<text x="51.9" y="722.5" text-anchor="end" font-size="16.2" fill="#1a1a1a"><tspan font-family='"Liberation Serif","Times New Roman",serif'>H</tspan></text>
<text x="51.9" y="738.2" text-anchor="end" font-size="16.2" fill="#1a1a1a"><tspan font-family='"DejaVu Sans","Liberation Sans",sans-serif' font-style="italic">ρ</tspan><tspan font-family='"DejaVu Sans","Liberation Sans",sans-serif' font-style="italic" font-size="11.4" dy="2.2">l</tspan></text>
<text x="51.9" y="753.8" text-anchor="end" font-size="16.2" fill="#1a1a1a"><tspan font-family='"Liberation Serif","Times New Roman",serif'>f</tspan><tspan font-family='"DejaVu Sans","Liberation Sans",sans-serif' font-style="italic" font-size="11.4" dy="2.2">yl</tspan></text>
<text x="51.9" y="769.5" text-anchor="end" font-size="16.2" fill="#1a1a1a"><tspan font-family='"Liberation Serif","Times New Roman",serif'>t</tspan><tspan font-family='"DejaVu Sans","Liberation Sans",sans-serif' font-style="italic" font-size="11.4" dy="2.2">w</tspan></text>
<text x="51.9" y="785.2" text-anchor="end" font-size="16.2" fill="#1a1a1a"><tspan font-family='"Liberation Serif","Times New Roman",serif'>s</tspan></text>
<rect x="492.3" y="607.0" width="7.3" height="187.5" fill="url(#cb)"/>
<text x="504.7" y="611.3" font-family='"Liberation Serif","Times New Roman",serif' font-size="14.9" fill="#1a1a1a">High</text>
<text x="505.1" y="800.4" font-family='"Liberation Serif","Times New Roman",serif' font-size="14.9" fill="#1a1a1a">Low</text>
<text transform="translate(545.6 701.2) rotate(-90)" text-anchor="middle" font-family='"Liberation Serif","Times New Roman",serif' font-size="16.9" fill="#1a1a1a">Feature value</text>
</svg>
</body></html>
